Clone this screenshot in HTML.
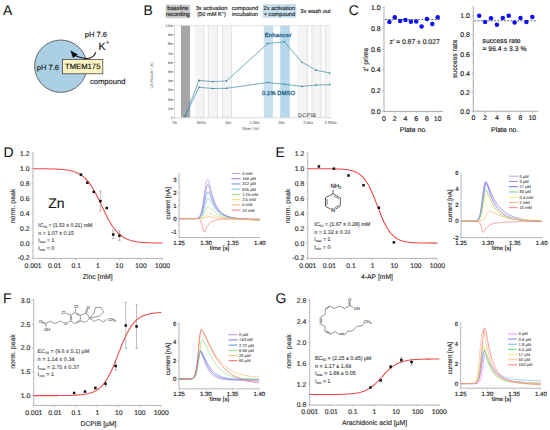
<!DOCTYPE html>
<html><head><meta charset="utf-8"><style>
html,body{margin:0;padding:0;background:#fff;overflow:hidden;}
svg{display:block;}
text{font-family:"Liberation Sans", sans-serif;text-rendering:geometricPrecision;}
</style></head><body>
<svg width="550" height="430" viewBox="0 0 550 430">
<rect x="0" y="0" width="550" height="430" fill="#fff"/>
<text x="2.90" y="14.50" font-size="14" text-anchor="start" fill="#111" stroke="#111" stroke-width="0.05" >A</text>
<circle cx="60.8" cy="66.2" r="26.2" fill="#abcfe4" stroke="#333" stroke-width="0.7"/>
<text x="36.80" y="70.30" font-size="7.5" text-anchor="start" fill="#222" stroke="#222" stroke-width="0.16" >pH 7.6</text>
<rect x="62.60" y="59.40" width="40.20" height="14.40" fill="#fbf3c0" stroke="#333" stroke-width="0.7"/>
<text x="82.70" y="69.20" font-size="7.7" text-anchor="middle" fill="#111" stroke="#111" stroke-width="0.16" >TMEM175</text>
<text x="84.80" y="37.30" font-size="7.5" text-anchor="start" fill="#222" stroke="#222" stroke-width="0.16" >pH 7.6</text>
<text x="98.60" y="49.60" font-size="10.5" text-anchor="start" fill="#111" stroke="#111" stroke-width="0.16" >K</text>
<text x="106.00" y="44.20" font-size="5.5" text-anchor="start" fill="#111" stroke="#111" stroke-width="0.16" >+</text>
<text x="90.00" y="83.50" font-size="7.6" text-anchor="start" fill="#222" stroke="#222" stroke-width="0.16" >compound</text>
<path d="M95.8,52.3 Q93,59.2 85.5,58.4 Q80.5,57.8 75.5,55.8" fill="none" stroke="#111" stroke-width="1.05"/>
<path d="M70.3,50.2 L77.8,54.5 L73.0,58.0 Z" fill="#111"/>
<text x="143.40" y="14.50" font-size="14" text-anchor="start" fill="#111" stroke="#111" stroke-width="0.05" >B</text>
<rect x="165.60" y="4.60" width="24.60" height="13.60" fill="#cacaca" />
<text x="177.90" y="9.70" font-size="5.7" text-anchor="middle" fill="#222" stroke="#222" stroke-width="0.16" >baseline</text>
<text x="177.90" y="16.10" font-size="5.7" text-anchor="middle" fill="#222" stroke="#222" stroke-width="0.16" >recording</text>
<text x="211.50" y="9.70" font-size="5.7" text-anchor="middle" fill="#222" stroke="#222" stroke-width="0.16" >3x activation</text>
<text x="211.50" y="16.10" font-size="5.7" text-anchor="middle" fill="#222" stroke="#222" stroke-width="0.16" >(50 mM K<tspan font-size="3.5" dy="-2">+</tspan><tspan dy="2">)</tspan></text>
<text x="245.00" y="9.70" font-size="5.7" text-anchor="middle" fill="#222" stroke="#222" stroke-width="0.16" >compound</text>
<text x="245.00" y="16.10" font-size="5.7" text-anchor="middle" fill="#222" stroke="#222" stroke-width="0.16" >incubation</text>
<rect x="262.60" y="4.00" width="33.60" height="13.90" fill="#c8e2f0" />
<text x="279.40" y="9.70" font-size="5.7" text-anchor="middle" fill="#222" stroke="#222" stroke-width="0.16" >2x activation</text>
<text x="279.40" y="16.10" font-size="5.7" text-anchor="middle" fill="#222" stroke="#222" stroke-width="0.16" >+ compound</text>
<text x="315.50" y="13.40" font-size="5.7" text-anchor="middle" fill="#222" stroke="#222" stroke-width="0.16" >3x wash out</text>
<rect x="174.60" y="25.60" width="155.90" height="92.10" fill="#ffffff" />
<rect x="194.90" y="25.60" width="8.40" height="92.10" fill="#f4f4f4" />
<rect x="208.60" y="25.60" width="8.50" height="92.10" fill="#f4f4f4" />
<rect x="222.60" y="25.60" width="8.70" height="92.10" fill="#f4f4f4" />
<rect x="297.40" y="25.60" width="9.60" height="92.10" fill="#f4f4f4" />
<rect x="312.40" y="25.60" width="8.20" height="92.10" fill="#f4f4f4" />
<rect x="325.70" y="25.60" width="4.80" height="92.10" fill="#f4f4f4" />
<line x1="203.80" y1="25.60" x2="203.80" y2="117.70" stroke="#d8d8d8" stroke-width="0.8" />
<line x1="208.30" y1="25.60" x2="208.30" y2="117.70" stroke="#d8d8d8" stroke-width="0.8" />
<line x1="217.50" y1="25.60" x2="217.50" y2="117.70" stroke="#d8d8d8" stroke-width="0.8" />
<line x1="222.30" y1="25.60" x2="222.30" y2="117.70" stroke="#d8d8d8" stroke-width="0.8" />
<line x1="231.60" y1="25.60" x2="231.60" y2="117.70" stroke="#d8d8d8" stroke-width="0.8" />
<line x1="307.30" y1="25.60" x2="307.30" y2="117.70" stroke="#d8d8d8" stroke-width="0.8" />
<line x1="311.90" y1="25.60" x2="311.90" y2="117.70" stroke="#d8d8d8" stroke-width="0.8" />
<line x1="321.00" y1="25.60" x2="321.00" y2="117.70" stroke="#d8d8d8" stroke-width="0.8" />
<line x1="325.30" y1="25.60" x2="325.30" y2="117.70" stroke="#d8d8d8" stroke-width="0.8" />
<rect x="181.00" y="25.60" width="9.10" height="92.10" fill="#a6a6a6" />
<rect x="263.80" y="25.60" width="9.20" height="92.10" fill="#c6e0ee" />
<rect x="280.20" y="25.60" width="9.60" height="92.10" fill="#b6d8ea" />
<line x1="174.60" y1="25.60" x2="174.60" y2="117.70" stroke="#c4c4c4" stroke-width="0.6" />
<line x1="174.60" y1="117.70" x2="330.50" y2="117.70" stroke="#c4c4c4" stroke-width="0.6" />
<line x1="174.60" y1="25.60" x2="330.50" y2="25.60" stroke="#d4d4d4" stroke-width="0.6" />
<text x="172.80" y="119.00" font-size="3.7" text-anchor="end" fill="#555" stroke="#555" stroke-width="0.05" >0</text>
<line x1="172.90" y1="117.70" x2="174.60" y2="117.70" stroke="#999" stroke-width="0.35" />
<text x="172.80" y="109.79" font-size="3.7" text-anchor="end" fill="#555" stroke="#555" stroke-width="0.05" >1m</text>
<line x1="172.90" y1="108.49" x2="174.60" y2="108.49" stroke="#999" stroke-width="0.35" />
<text x="172.80" y="100.58" font-size="3.7" text-anchor="end" fill="#555" stroke="#555" stroke-width="0.05" >2m</text>
<line x1="172.90" y1="99.28" x2="174.60" y2="99.28" stroke="#999" stroke-width="0.35" />
<text x="172.80" y="91.37" font-size="3.7" text-anchor="end" fill="#555" stroke="#555" stroke-width="0.05" >3m</text>
<line x1="172.90" y1="90.07" x2="174.60" y2="90.07" stroke="#999" stroke-width="0.35" />
<text x="172.80" y="82.16" font-size="3.7" text-anchor="end" fill="#555" stroke="#555" stroke-width="0.05" >4m</text>
<line x1="172.90" y1="80.86" x2="174.60" y2="80.86" stroke="#999" stroke-width="0.35" />
<text x="172.80" y="72.95" font-size="3.7" text-anchor="end" fill="#555" stroke="#555" stroke-width="0.05" >5m</text>
<line x1="172.90" y1="71.65" x2="174.60" y2="71.65" stroke="#999" stroke-width="0.35" />
<text x="172.80" y="63.74" font-size="3.7" text-anchor="end" fill="#555" stroke="#555" stroke-width="0.05" >6m</text>
<line x1="172.90" y1="62.44" x2="174.60" y2="62.44" stroke="#999" stroke-width="0.35" />
<text x="172.80" y="54.53" font-size="3.7" text-anchor="end" fill="#555" stroke="#555" stroke-width="0.05" >7m</text>
<line x1="172.90" y1="53.23" x2="174.60" y2="53.23" stroke="#999" stroke-width="0.35" />
<text x="172.80" y="45.32" font-size="3.7" text-anchor="end" fill="#555" stroke="#555" stroke-width="0.05" >8m</text>
<line x1="172.90" y1="44.02" x2="174.60" y2="44.02" stroke="#999" stroke-width="0.35" />
<text x="172.80" y="36.11" font-size="3.7" text-anchor="end" fill="#555" stroke="#555" stroke-width="0.05" >9m</text>
<line x1="172.90" y1="34.81" x2="174.60" y2="34.81" stroke="#999" stroke-width="0.35" />
<text x="172.80" y="26.90" font-size="3.7" text-anchor="end" fill="#555" stroke="#555" stroke-width="0.05" >10m</text>
<line x1="172.90" y1="25.60" x2="174.60" y2="25.60" stroke="#999" stroke-width="0.35" />
<text x="174.60" y="124.00" font-size="4.1" text-anchor="middle" fill="#555" stroke="#555" stroke-width="0.05" >0s</text>
<line x1="174.60" y1="117.70" x2="174.60" y2="118.90" stroke="#999" stroke-width="0.35" />
<text x="201.30" y="124.00" font-size="4.1" text-anchor="middle" fill="#555" stroke="#555" stroke-width="0.05" >500s</text>
<line x1="201.30" y1="117.70" x2="201.30" y2="118.90" stroke="#999" stroke-width="0.35" />
<text x="227.99" y="124.00" font-size="4.1" text-anchor="middle" fill="#555" stroke="#555" stroke-width="0.05" >1ks</text>
<line x1="227.99" y1="117.70" x2="227.99" y2="118.90" stroke="#999" stroke-width="0.35" />
<text x="254.69" y="124.00" font-size="4.1" text-anchor="middle" fill="#555" stroke="#555" stroke-width="0.05" >1.5ks</text>
<line x1="254.69" y1="117.70" x2="254.69" y2="118.90" stroke="#999" stroke-width="0.35" />
<text x="281.38" y="124.00" font-size="4.1" text-anchor="middle" fill="#555" stroke="#555" stroke-width="0.05" >2ks</text>
<line x1="281.38" y1="117.70" x2="281.38" y2="118.90" stroke="#999" stroke-width="0.35" />
<text x="308.08" y="124.00" font-size="4.1" text-anchor="middle" fill="#555" stroke="#555" stroke-width="0.05" >2.5ks</text>
<line x1="308.08" y1="117.70" x2="308.08" y2="118.90" stroke="#999" stroke-width="0.35" />
<text x="330.50" y="124.00" font-size="4.1" text-anchor="middle" fill="#555" stroke="#555" stroke-width="0.05" >2.92ks</text>
<line x1="330.50" y1="117.70" x2="330.50" y2="118.90" stroke="#999" stroke-width="0.35" />
<text x="250.20" y="129.60" font-size="4.1" text-anchor="middle" fill="#555" stroke="#555" stroke-width="0.05" >Time / (s)</text>
<text x="0.00" y="0.00" font-size="3.9" text-anchor="middle" fill="#666" stroke="#666" stroke-width="0.03" transform="translate(153.4,75.4) rotate(-90)">CA-Result / (A)</text>
<polyline points="185.0,116.2 199.1,80.4 212.7,81.6 226.5,80.9 267.6,43.6 284.3,41.8 302.0,62.2 316.0,70.2 329.8,73.0" fill="none" stroke="#4a93ab" stroke-width="0.75" stroke-linejoin="round" />
<polyline points="185.0,116.2 199.1,87.3 212.7,88.5 226.5,88.3 268.1,82.5 284.4,84.3 302.0,86.4 316.0,85.1 329.8,84.6" fill="none" stroke="#4a93ab" stroke-width="0.75" stroke-linejoin="round" />
<circle cx="185" cy="116.2" r="0.8" fill="#2f7590"/>
<circle cx="199.1" cy="80.4" r="0.8" fill="#2f7590"/>
<circle cx="212.7" cy="81.6" r="0.8" fill="#2f7590"/>
<circle cx="226.5" cy="80.9" r="0.8" fill="#2f7590"/>
<circle cx="267.6" cy="43.6" r="0.8" fill="#2f7590"/>
<circle cx="284.3" cy="41.8" r="0.8" fill="#2f7590"/>
<circle cx="302.0" cy="62.2" r="0.8" fill="#2f7590"/>
<circle cx="316" cy="70.2" r="0.8" fill="#2f7590"/>
<circle cx="329.8" cy="73.0" r="0.8" fill="#2f7590"/>
<circle cx="185" cy="116.2" r="0.8" fill="#2f7590"/>
<circle cx="199.1" cy="87.3" r="0.8" fill="#2f7590"/>
<circle cx="212.7" cy="88.5" r="0.8" fill="#2f7590"/>
<circle cx="226.5" cy="88.3" r="0.8" fill="#2f7590"/>
<circle cx="268.1" cy="82.5" r="0.8" fill="#2f7590"/>
<circle cx="284.4" cy="84.3" r="0.8" fill="#2f7590"/>
<circle cx="302.0" cy="86.4" r="0.8" fill="#2f7590"/>
<circle cx="316" cy="85.1" r="0.8" fill="#2f7590"/>
<circle cx="329.8" cy="84.6" r="0.8" fill="#2f7590"/>
<text x="278.20" y="36.90" font-size="5.8" text-anchor="middle" fill="#22608a" stroke="#22608a" stroke-width="0.3" letter-spacing="0.28">Enhancer</text>
<text x="278.60" y="95.20" font-size="5.8" text-anchor="middle" fill="#22608a" stroke="#22608a" stroke-width="0.3" letter-spacing="0.1">0.1% DMSO</text>
<text x="307.20" y="117.40" font-size="5.4" text-anchor="middle" fill="#555" stroke="#555" stroke-width="0.1" letter-spacing="0.35">DCPIB</text>
<text x="348.80" y="15.30" font-size="14" text-anchor="start" fill="#111" stroke="#111" stroke-width="0.05" >C</text>
<line x1="384.00" y1="6.50" x2="384.00" y2="111.40" stroke="#888" stroke-width="0.7" />
<line x1="384.00" y1="111.40" x2="443.07" y2="111.40" stroke="#888" stroke-width="0.7" />
<text x="380.60" y="113.90" font-size="6.9" text-anchor="end" fill="#222" stroke="#222" stroke-width="0.16" >0.0</text>
<line x1="382.40" y1="111.40" x2="384.00" y2="111.40" stroke="#888" stroke-width="0.5" />
<line x1="383.00" y1="101.02" x2="384.00" y2="101.02" stroke="#888" stroke-width="0.4" />
<text x="380.60" y="93.14" font-size="6.9" text-anchor="end" fill="#222" stroke="#222" stroke-width="0.16" >0.2</text>
<line x1="382.40" y1="90.64" x2="384.00" y2="90.64" stroke="#888" stroke-width="0.5" />
<line x1="383.00" y1="80.26" x2="384.00" y2="80.26" stroke="#888" stroke-width="0.4" />
<text x="380.60" y="72.38" font-size="6.9" text-anchor="end" fill="#222" stroke="#222" stroke-width="0.16" >0.4</text>
<line x1="382.40" y1="69.88" x2="384.00" y2="69.88" stroke="#888" stroke-width="0.5" />
<line x1="383.00" y1="59.50" x2="384.00" y2="59.50" stroke="#888" stroke-width="0.4" />
<text x="380.60" y="51.62" font-size="6.9" text-anchor="end" fill="#222" stroke="#222" stroke-width="0.16" >0.6</text>
<line x1="382.40" y1="49.12" x2="384.00" y2="49.12" stroke="#888" stroke-width="0.5" />
<line x1="383.00" y1="38.74" x2="384.00" y2="38.74" stroke="#888" stroke-width="0.4" />
<text x="380.60" y="30.86" font-size="6.9" text-anchor="end" fill="#222" stroke="#222" stroke-width="0.16" >0.8</text>
<line x1="382.40" y1="28.36" x2="384.00" y2="28.36" stroke="#888" stroke-width="0.5" />
<line x1="383.00" y1="17.98" x2="384.00" y2="17.98" stroke="#888" stroke-width="0.4" />
<text x="380.60" y="10.10" font-size="6.9" text-anchor="end" fill="#222" stroke="#222" stroke-width="0.16" >1.0</text>
<line x1="382.40" y1="7.60" x2="384.00" y2="7.60" stroke="#888" stroke-width="0.5" />
<text x="384.00" y="120.60" font-size="6.9" text-anchor="middle" fill="#222" stroke="#222" stroke-width="0.16" >0</text>
<line x1="384.00" y1="111.40" x2="384.00" y2="113.00" stroke="#888" stroke-width="0.5" />
<line x1="389.37" y1="111.40" x2="389.37" y2="112.40" stroke="#888" stroke-width="0.4" />
<text x="394.74" y="120.60" font-size="6.9" text-anchor="middle" fill="#222" stroke="#222" stroke-width="0.16" >2</text>
<line x1="394.74" y1="111.40" x2="394.74" y2="113.00" stroke="#888" stroke-width="0.5" />
<line x1="400.11" y1="111.40" x2="400.11" y2="112.40" stroke="#888" stroke-width="0.4" />
<text x="405.48" y="120.60" font-size="6.9" text-anchor="middle" fill="#222" stroke="#222" stroke-width="0.16" >4</text>
<line x1="405.48" y1="111.40" x2="405.48" y2="113.00" stroke="#888" stroke-width="0.5" />
<line x1="410.85" y1="111.40" x2="410.85" y2="112.40" stroke="#888" stroke-width="0.4" />
<text x="416.22" y="120.60" font-size="6.9" text-anchor="middle" fill="#222" stroke="#222" stroke-width="0.16" >6</text>
<line x1="416.22" y1="111.40" x2="416.22" y2="113.00" stroke="#888" stroke-width="0.5" />
<line x1="421.59" y1="111.40" x2="421.59" y2="112.40" stroke="#888" stroke-width="0.4" />
<text x="426.96" y="120.60" font-size="6.9" text-anchor="middle" fill="#222" stroke="#222" stroke-width="0.16" >8</text>
<line x1="426.96" y1="111.40" x2="426.96" y2="113.00" stroke="#888" stroke-width="0.5" />
<line x1="432.33" y1="111.40" x2="432.33" y2="112.40" stroke="#888" stroke-width="0.4" />
<text x="437.70" y="120.60" font-size="6.9" text-anchor="middle" fill="#222" stroke="#222" stroke-width="0.16" >10</text>
<line x1="437.70" y1="111.40" x2="437.70" y2="113.00" stroke="#888" stroke-width="0.5" />
<line x1="443.07" y1="111.40" x2="443.07" y2="112.40" stroke="#888" stroke-width="0.4" />
<text x="413.40" y="131.60" font-size="6.9" text-anchor="middle" fill="#222" stroke="#222" stroke-width="0.16" >Plate no.</text>
<line x1="385.00" y1="19.50" x2="441.00" y2="19.50" stroke="#666" stroke-width="1.0" stroke-dasharray="2,1.3"/>
<circle cx="389.37" cy="22" r="2.25" fill="#1010f4"/>
<circle cx="394.74" cy="17.3" r="2.25" fill="#1010f4"/>
<circle cx="400.11" cy="21" r="2.25" fill="#1010f4"/>
<circle cx="405.48" cy="20" r="2.25" fill="#1010f4"/>
<circle cx="410.85" cy="21.7" r="2.25" fill="#1010f4"/>
<circle cx="416.22" cy="21.4" r="2.25" fill="#1010f4"/>
<circle cx="421.59" cy="26.4" r="2.25" fill="#1010f4"/>
<circle cx="426.96" cy="18.9" r="2.25" fill="#1010f4"/>
<circle cx="432.33" cy="23.9" r="2.25" fill="#1010f4"/>
<circle cx="437.70" cy="17.3" r="2.25" fill="#1010f4"/>
<text x="0.00" y="0.00" font-size="6.9" text-anchor="middle" fill="#222" stroke="#222" stroke-width="0.16" transform="translate(368.1,59.5) rotate(-90)">z' prime</text>
<text x="389.50" y="43.60" font-size="6.8" text-anchor="start" fill="#222" stroke="#222" stroke-width="0.16" >z' = 0.87 ± 0.027</text>
<line x1="473.30" y1="6.30" x2="473.30" y2="111.20" stroke="#888" stroke-width="0.7" />
<line x1="473.30" y1="111.20" x2="538.20" y2="111.20" stroke="#888" stroke-width="0.7" />
<text x="469.90" y="113.70" font-size="6.9" text-anchor="end" fill="#222" stroke="#222" stroke-width="0.16" >0.0</text>
<line x1="471.70" y1="111.20" x2="473.30" y2="111.20" stroke="#888" stroke-width="0.5" />
<line x1="472.30" y1="101.67" x2="473.30" y2="101.67" stroke="#888" stroke-width="0.4" />
<text x="469.90" y="94.64" font-size="6.9" text-anchor="end" fill="#222" stroke="#222" stroke-width="0.16" >0.2</text>
<line x1="471.70" y1="92.14" x2="473.30" y2="92.14" stroke="#888" stroke-width="0.5" />
<line x1="472.30" y1="82.61" x2="473.30" y2="82.61" stroke="#888" stroke-width="0.4" />
<text x="469.90" y="75.58" font-size="6.9" text-anchor="end" fill="#222" stroke="#222" stroke-width="0.16" >0.4</text>
<line x1="471.70" y1="73.08" x2="473.30" y2="73.08" stroke="#888" stroke-width="0.5" />
<line x1="472.30" y1="63.55" x2="473.30" y2="63.55" stroke="#888" stroke-width="0.4" />
<text x="469.90" y="56.52" font-size="6.9" text-anchor="end" fill="#222" stroke="#222" stroke-width="0.16" >0.6</text>
<line x1="471.70" y1="54.02" x2="473.30" y2="54.02" stroke="#888" stroke-width="0.5" />
<line x1="472.30" y1="44.49" x2="473.30" y2="44.49" stroke="#888" stroke-width="0.4" />
<text x="469.90" y="37.46" font-size="6.9" text-anchor="end" fill="#222" stroke="#222" stroke-width="0.16" >0.8</text>
<line x1="471.70" y1="34.96" x2="473.30" y2="34.96" stroke="#888" stroke-width="0.5" />
<line x1="472.30" y1="25.43" x2="473.30" y2="25.43" stroke="#888" stroke-width="0.4" />
<text x="469.90" y="18.40" font-size="6.9" text-anchor="end" fill="#222" stroke="#222" stroke-width="0.16" >1.0</text>
<line x1="471.70" y1="15.90" x2="473.30" y2="15.90" stroke="#888" stroke-width="0.5" />
<line x1="472.30" y1="6.37" x2="473.30" y2="6.37" stroke="#888" stroke-width="0.4" />
<text x="473.30" y="120.40" font-size="6.9" text-anchor="middle" fill="#222" stroke="#222" stroke-width="0.16" >0</text>
<line x1="473.30" y1="111.20" x2="473.30" y2="112.80" stroke="#888" stroke-width="0.5" />
<line x1="479.20" y1="111.20" x2="479.20" y2="112.20" stroke="#888" stroke-width="0.4" />
<text x="485.10" y="120.40" font-size="6.9" text-anchor="middle" fill="#222" stroke="#222" stroke-width="0.16" >2</text>
<line x1="485.10" y1="111.20" x2="485.10" y2="112.80" stroke="#888" stroke-width="0.5" />
<line x1="491.00" y1="111.20" x2="491.00" y2="112.20" stroke="#888" stroke-width="0.4" />
<text x="496.90" y="120.40" font-size="6.9" text-anchor="middle" fill="#222" stroke="#222" stroke-width="0.16" >4</text>
<line x1="496.90" y1="111.20" x2="496.90" y2="112.80" stroke="#888" stroke-width="0.5" />
<line x1="502.80" y1="111.20" x2="502.80" y2="112.20" stroke="#888" stroke-width="0.4" />
<text x="508.70" y="120.40" font-size="6.9" text-anchor="middle" fill="#222" stroke="#222" stroke-width="0.16" >6</text>
<line x1="508.70" y1="111.20" x2="508.70" y2="112.80" stroke="#888" stroke-width="0.5" />
<line x1="514.60" y1="111.20" x2="514.60" y2="112.20" stroke="#888" stroke-width="0.4" />
<text x="520.50" y="120.40" font-size="6.9" text-anchor="middle" fill="#222" stroke="#222" stroke-width="0.16" >8</text>
<line x1="520.50" y1="111.20" x2="520.50" y2="112.80" stroke="#888" stroke-width="0.5" />
<line x1="526.40" y1="111.20" x2="526.40" y2="112.20" stroke="#888" stroke-width="0.4" />
<text x="532.30" y="120.40" font-size="6.9" text-anchor="middle" fill="#222" stroke="#222" stroke-width="0.16" >10</text>
<line x1="532.30" y1="111.20" x2="532.30" y2="112.80" stroke="#888" stroke-width="0.5" />
<line x1="538.20" y1="111.20" x2="538.20" y2="112.20" stroke="#888" stroke-width="0.4" />
<text x="504.70" y="131.60" font-size="6.9" text-anchor="middle" fill="#222" stroke="#222" stroke-width="0.16" >Plate no.</text>
<line x1="474.30" y1="20.80" x2="536.00" y2="20.80" stroke="#666" stroke-width="1.0" stroke-dasharray="2,1.3"/>
<circle cx="479.20" cy="15.7" r="2.25" fill="#1010f4"/>
<circle cx="485.10" cy="22" r="2.25" fill="#1010f4"/>
<circle cx="491.00" cy="18.2" r="2.25" fill="#1010f4"/>
<circle cx="496.90" cy="24.8" r="2.25" fill="#1010f4"/>
<circle cx="502.80" cy="17.9" r="2.25" fill="#1010f4"/>
<circle cx="508.70" cy="15.7" r="2.25" fill="#1010f4"/>
<circle cx="514.60" cy="22.6" r="2.25" fill="#1010f4"/>
<circle cx="520.50" cy="17.9" r="2.25" fill="#1010f4"/>
<circle cx="526.40" cy="22" r="2.25" fill="#1010f4"/>
<circle cx="532.30" cy="17" r="2.25" fill="#1010f4"/>
<text x="0.00" y="0.00" font-size="6.9" text-anchor="middle" fill="#222" stroke="#222" stroke-width="0.16" transform="translate(457.40000000000003,58.8) rotate(-90)">success rate</text>
<text x="482.50" y="43.20" font-size="6.8" text-anchor="start" fill="#222" stroke="#222" stroke-width="0.16" >success rate</text>
<text x="482.50" y="51.20" font-size="6.8" text-anchor="start" fill="#222" stroke="#222" stroke-width="0.16" >= 96.4 ± 3.3 %</text>
<text x="3.40" y="156.50" font-size="14" text-anchor="start" fill="#111" stroke="#111" stroke-width="0.05" >D</text>
<line x1="33.00" y1="152.00" x2="33.00" y2="258.40" stroke="#999" stroke-width="0.7" />
<line x1="33.00" y1="258.40" x2="162.60" y2="258.40" stroke="#999" stroke-width="0.7" />
<text x="29.50" y="260.44" font-size="6.8" text-anchor="end" fill="#333" stroke="#333" stroke-width="0.16" >-0.2</text>
<line x1="31.30" y1="257.99" x2="33.00" y2="257.99" stroke="#999" stroke-width="0.5" />
<text x="29.50" y="245.55" font-size="6.8" text-anchor="end" fill="#333" stroke="#333" stroke-width="0.16" >0.0</text>
<line x1="31.30" y1="243.10" x2="33.00" y2="243.10" stroke="#999" stroke-width="0.5" />
<text x="29.50" y="230.66" font-size="6.8" text-anchor="end" fill="#333" stroke="#333" stroke-width="0.16" >0.2</text>
<line x1="31.30" y1="228.21" x2="33.00" y2="228.21" stroke="#999" stroke-width="0.5" />
<text x="29.50" y="215.78" font-size="6.8" text-anchor="end" fill="#333" stroke="#333" stroke-width="0.16" >0.4</text>
<line x1="31.30" y1="213.33" x2="33.00" y2="213.33" stroke="#999" stroke-width="0.5" />
<text x="29.50" y="200.89" font-size="6.8" text-anchor="end" fill="#333" stroke="#333" stroke-width="0.16" >0.6</text>
<line x1="31.30" y1="198.44" x2="33.00" y2="198.44" stroke="#999" stroke-width="0.5" />
<text x="29.50" y="186.01" font-size="6.8" text-anchor="end" fill="#333" stroke="#333" stroke-width="0.16" >0.8</text>
<line x1="31.30" y1="183.56" x2="33.00" y2="183.56" stroke="#999" stroke-width="0.5" />
<text x="29.50" y="171.12" font-size="6.8" text-anchor="end" fill="#333" stroke="#333" stroke-width="0.16" >1.0</text>
<line x1="31.30" y1="168.67" x2="33.00" y2="168.67" stroke="#999" stroke-width="0.5" />
<text x="29.50" y="156.23" font-size="6.8" text-anchor="end" fill="#333" stroke="#333" stroke-width="0.16" >1.2</text>
<line x1="31.30" y1="153.78" x2="33.00" y2="153.78" stroke="#999" stroke-width="0.5" />
<line x1="32.00" y1="250.54" x2="33.00" y2="250.54" stroke="#999" stroke-width="0.4" />
<line x1="32.00" y1="235.66" x2="33.00" y2="235.66" stroke="#999" stroke-width="0.4" />
<line x1="32.00" y1="220.77" x2="33.00" y2="220.77" stroke="#999" stroke-width="0.4" />
<line x1="32.00" y1="205.88" x2="33.00" y2="205.88" stroke="#999" stroke-width="0.4" />
<line x1="32.00" y1="191.00" x2="33.00" y2="191.00" stroke="#999" stroke-width="0.4" />
<line x1="32.00" y1="176.11" x2="33.00" y2="176.11" stroke="#999" stroke-width="0.4" />
<line x1="32.00" y1="161.23" x2="33.00" y2="161.23" stroke="#999" stroke-width="0.4" />
<text x="33.00" y="267.50" font-size="6.8" text-anchor="middle" fill="#333" stroke="#333" stroke-width="0.16" >0.001</text>
<line x1="33.00" y1="258.40" x2="33.00" y2="260.10" stroke="#999" stroke-width="0.5" />
<line x1="39.50" y1="258.40" x2="39.50" y2="259.30" stroke="#999" stroke-width="0.3" />
<line x1="43.31" y1="258.40" x2="43.31" y2="259.30" stroke="#999" stroke-width="0.3" />
<line x1="46.00" y1="258.40" x2="46.00" y2="259.30" stroke="#999" stroke-width="0.3" />
<line x1="48.10" y1="258.40" x2="48.10" y2="259.30" stroke="#999" stroke-width="0.3" />
<line x1="49.81" y1="258.40" x2="49.81" y2="259.30" stroke="#999" stroke-width="0.3" />
<line x1="51.25" y1="258.40" x2="51.25" y2="259.30" stroke="#999" stroke-width="0.3" />
<line x1="52.51" y1="258.40" x2="52.51" y2="259.30" stroke="#999" stroke-width="0.3" />
<line x1="53.61" y1="258.40" x2="53.61" y2="259.30" stroke="#999" stroke-width="0.3" />
<text x="54.60" y="267.50" font-size="6.8" text-anchor="middle" fill="#333" stroke="#333" stroke-width="0.16" >0.01</text>
<line x1="54.60" y1="258.40" x2="54.60" y2="260.10" stroke="#999" stroke-width="0.5" />
<line x1="61.10" y1="258.40" x2="61.10" y2="259.30" stroke="#999" stroke-width="0.3" />
<line x1="64.91" y1="258.40" x2="64.91" y2="259.30" stroke="#999" stroke-width="0.3" />
<line x1="67.60" y1="258.40" x2="67.60" y2="259.30" stroke="#999" stroke-width="0.3" />
<line x1="69.70" y1="258.40" x2="69.70" y2="259.30" stroke="#999" stroke-width="0.3" />
<line x1="71.41" y1="258.40" x2="71.41" y2="259.30" stroke="#999" stroke-width="0.3" />
<line x1="72.85" y1="258.40" x2="72.85" y2="259.30" stroke="#999" stroke-width="0.3" />
<line x1="74.11" y1="258.40" x2="74.11" y2="259.30" stroke="#999" stroke-width="0.3" />
<line x1="75.21" y1="258.40" x2="75.21" y2="259.30" stroke="#999" stroke-width="0.3" />
<text x="76.20" y="267.50" font-size="6.8" text-anchor="middle" fill="#333" stroke="#333" stroke-width="0.16" >0.1</text>
<line x1="76.20" y1="258.40" x2="76.20" y2="260.10" stroke="#999" stroke-width="0.5" />
<line x1="82.70" y1="258.40" x2="82.70" y2="259.30" stroke="#999" stroke-width="0.3" />
<line x1="86.51" y1="258.40" x2="86.51" y2="259.30" stroke="#999" stroke-width="0.3" />
<line x1="89.20" y1="258.40" x2="89.20" y2="259.30" stroke="#999" stroke-width="0.3" />
<line x1="91.30" y1="258.40" x2="91.30" y2="259.30" stroke="#999" stroke-width="0.3" />
<line x1="93.01" y1="258.40" x2="93.01" y2="259.30" stroke="#999" stroke-width="0.3" />
<line x1="94.45" y1="258.40" x2="94.45" y2="259.30" stroke="#999" stroke-width="0.3" />
<line x1="95.71" y1="258.40" x2="95.71" y2="259.30" stroke="#999" stroke-width="0.3" />
<line x1="96.81" y1="258.40" x2="96.81" y2="259.30" stroke="#999" stroke-width="0.3" />
<text x="97.80" y="267.50" font-size="6.8" text-anchor="middle" fill="#333" stroke="#333" stroke-width="0.16" >1</text>
<line x1="97.80" y1="258.40" x2="97.80" y2="260.10" stroke="#999" stroke-width="0.5" />
<line x1="104.30" y1="258.40" x2="104.30" y2="259.30" stroke="#999" stroke-width="0.3" />
<line x1="108.11" y1="258.40" x2="108.11" y2="259.30" stroke="#999" stroke-width="0.3" />
<line x1="110.80" y1="258.40" x2="110.80" y2="259.30" stroke="#999" stroke-width="0.3" />
<line x1="112.90" y1="258.40" x2="112.90" y2="259.30" stroke="#999" stroke-width="0.3" />
<line x1="114.61" y1="258.40" x2="114.61" y2="259.30" stroke="#999" stroke-width="0.3" />
<line x1="116.05" y1="258.40" x2="116.05" y2="259.30" stroke="#999" stroke-width="0.3" />
<line x1="117.31" y1="258.40" x2="117.31" y2="259.30" stroke="#999" stroke-width="0.3" />
<line x1="118.41" y1="258.40" x2="118.41" y2="259.30" stroke="#999" stroke-width="0.3" />
<text x="119.40" y="267.50" font-size="6.8" text-anchor="middle" fill="#333" stroke="#333" stroke-width="0.16" >10</text>
<line x1="119.40" y1="258.40" x2="119.40" y2="260.10" stroke="#999" stroke-width="0.5" />
<line x1="125.90" y1="258.40" x2="125.90" y2="259.30" stroke="#999" stroke-width="0.3" />
<line x1="129.71" y1="258.40" x2="129.71" y2="259.30" stroke="#999" stroke-width="0.3" />
<line x1="132.40" y1="258.40" x2="132.40" y2="259.30" stroke="#999" stroke-width="0.3" />
<line x1="134.50" y1="258.40" x2="134.50" y2="259.30" stroke="#999" stroke-width="0.3" />
<line x1="136.21" y1="258.40" x2="136.21" y2="259.30" stroke="#999" stroke-width="0.3" />
<line x1="137.65" y1="258.40" x2="137.65" y2="259.30" stroke="#999" stroke-width="0.3" />
<line x1="138.91" y1="258.40" x2="138.91" y2="259.30" stroke="#999" stroke-width="0.3" />
<line x1="140.01" y1="258.40" x2="140.01" y2="259.30" stroke="#999" stroke-width="0.3" />
<text x="141.00" y="267.50" font-size="6.8" text-anchor="middle" fill="#333" stroke="#333" stroke-width="0.16" >100</text>
<line x1="141.00" y1="258.40" x2="141.00" y2="260.10" stroke="#999" stroke-width="0.5" />
<line x1="147.50" y1="258.40" x2="147.50" y2="259.30" stroke="#999" stroke-width="0.3" />
<line x1="151.31" y1="258.40" x2="151.31" y2="259.30" stroke="#999" stroke-width="0.3" />
<line x1="154.00" y1="258.40" x2="154.00" y2="259.30" stroke="#999" stroke-width="0.3" />
<line x1="156.10" y1="258.40" x2="156.10" y2="259.30" stroke="#999" stroke-width="0.3" />
<line x1="157.81" y1="258.40" x2="157.81" y2="259.30" stroke="#999" stroke-width="0.3" />
<line x1="159.25" y1="258.40" x2="159.25" y2="259.30" stroke="#999" stroke-width="0.3" />
<line x1="160.51" y1="258.40" x2="160.51" y2="259.30" stroke="#999" stroke-width="0.3" />
<line x1="161.61" y1="258.40" x2="161.61" y2="259.30" stroke="#999" stroke-width="0.3" />
<text x="162.60" y="267.50" font-size="6.8" text-anchor="middle" fill="#333" stroke="#333" stroke-width="0.16" >1000</text>
<line x1="162.60" y1="258.40" x2="162.60" y2="260.10" stroke="#999" stroke-width="0.5" />
<text x="97.70" y="278.70" font-size="6.8" text-anchor="middle" fill="#333" stroke="#333" stroke-width="0.16" >Zinc [mM]</text>
<text x="0.00" y="0.00" font-size="6.9" text-anchor="middle" fill="#333" stroke="#333" stroke-width="0.16" transform="translate(14.9,206) rotate(-90)">norm. peak</text>
<polyline points="33.0,168.7 34.1,168.7 35.2,168.7 36.2,168.7 37.3,168.7 38.4,168.7 39.5,168.7 40.6,168.7 41.6,168.7 42.7,168.8 43.8,168.8 44.9,168.8 46.0,168.8 47.0,168.8 48.1,168.8 49.2,168.9 50.3,168.9 51.4,168.9 52.4,168.9 53.5,169.0 54.6,169.0 55.7,169.1 56.8,169.1 57.8,169.2 58.9,169.2 60.0,169.3 61.1,169.4 62.2,169.5 63.2,169.6 64.3,169.7 65.4,169.8 66.5,170.0 67.6,170.1 68.6,170.3 69.7,170.5 70.8,170.8 71.9,171.0 73.0,171.3 74.0,171.7 75.1,172.1 76.2,172.5 77.3,173.0 78.4,173.5 79.4,174.1 80.5,174.7 81.6,175.4 82.7,176.2 83.8,177.1 84.8,178.1 85.9,179.1 87.0,180.3 88.1,181.6 89.2,182.9 90.2,184.4 91.3,186.0 92.4,187.7 93.5,189.5 94.6,191.4 95.6,193.3 96.7,195.4 97.8,197.6 98.9,199.8 100.0,202.0 101.0,204.3 102.1,206.6 103.2,208.9 104.3,211.1 105.4,213.4 106.4,215.5 107.5,217.6 108.6,219.7 109.7,221.6 110.8,223.4 111.8,225.2 112.9,226.8 114.0,228.3 115.1,229.7 116.2,231.0 117.2,232.2 118.3,233.3 119.4,234.3 120.5,235.2 121.6,236.0 122.6,236.8 123.7,237.5 124.8,238.1 125.9,238.6 127.0,239.1 128.0,239.6 129.1,239.9 130.2,240.3 131.3,240.6 132.4,240.9 133.4,241.1 134.5,241.4 135.6,241.6 136.7,241.7 137.8,241.9 138.8,242.0 139.9,242.2 141.0,242.3 142.1,242.4 143.2,242.4 144.2,242.5 145.3,242.6 146.4,242.6 147.5,242.7 148.6,242.7 149.6,242.8 150.7,242.8 151.8,242.9 152.9,242.9 154.0,242.9 155.0,242.9 156.1,242.9 157.2,243.0 158.3,243.0 159.4,243.0 160.4,243.0 161.5,243.0 162.6,243.0" fill="none" stroke="#f04444" stroke-width="1.05" stroke-linejoin="round" />
<rect x="79.70" y="173.37" width="2.50" height="2.50" fill="#111" />
<rect x="86.06" y="181.56" width="2.50" height="2.50" fill="#111" />
<rect x="92.51" y="190.64" width="2.50" height="2.50" fill="#111" />
<line x1="100.40" y1="191.07" x2="100.40" y2="211.17" stroke="#888" stroke-width="0.55" />
<line x1="99.10" y1="191.07" x2="101.70" y2="191.07" stroke="#888" stroke-width="0.55" />
<line x1="99.10" y1="211.17" x2="101.70" y2="211.17" stroke="#888" stroke-width="0.55" />
<rect x="99.15" y="199.87" width="2.50" height="2.50" fill="#111" />
<rect x="105.51" y="206.79" width="2.50" height="2.50" fill="#111" />
<line x1="113.19" y1="230.37" x2="113.19" y2="238.71" stroke="#888" stroke-width="0.55" />
<line x1="111.89" y1="230.37" x2="114.49" y2="230.37" stroke="#888" stroke-width="0.55" />
<line x1="111.89" y1="238.71" x2="114.49" y2="238.71" stroke="#888" stroke-width="0.55" />
<rect x="111.94" y="233.29" width="2.50" height="2.50" fill="#111" />
<line x1="119.40" y1="230.82" x2="119.40" y2="240.49" stroke="#888" stroke-width="0.55" />
<line x1="118.10" y1="230.82" x2="120.70" y2="230.82" stroke="#888" stroke-width="0.55" />
<line x1="118.10" y1="240.49" x2="120.70" y2="240.49" stroke="#888" stroke-width="0.55" />
<rect x="118.15" y="234.41" width="2.50" height="2.50" fill="#111" />
<text x="48.30" y="208.20" font-size="14" text-anchor="start" fill="#111" stroke="#111" stroke-width="0.1" >Zn</text>
<text x="38.3" y="226.8" font-size="5.3" fill="#333" stroke="#333" stroke-width="0.1" textLength="54" lengthAdjust="spacingAndGlyphs">IC<tspan font-size="3.286" dy="1">50</tspan><tspan dy="-1"> = (1.53 ± 0.21) mM</tspan></text>
<text x="38.30" y="235.00" font-size="5.3" text-anchor="start" fill="#333" stroke="#333" stroke-width="0.1" textLength="35.6" lengthAdjust="spacingAndGlyphs">n = 1.07 ± 0.15</text>
<text x="38.3" y="242.2" font-size="5.3" fill="#333" stroke="#333" stroke-width="0.1" textLength="16" lengthAdjust="spacingAndGlyphs">I<tspan font-size="3.286" dy="1">max</tspan><tspan dy="-1"> = 1</tspan></text>
<text x="38.3" y="250.2" font-size="5.3" fill="#333" stroke="#333" stroke-width="0.1" textLength="16" lengthAdjust="spacingAndGlyphs">I<tspan font-size="3.286" dy="1">min</tspan><tspan dy="-1"> = 0</tspan></text>
<text x="275.40" y="156.80" font-size="14" text-anchor="start" fill="#111" stroke="#111" stroke-width="0.05" >E</text>
<line x1="307.80" y1="152.00" x2="307.80" y2="258.40" stroke="#999" stroke-width="0.7" />
<line x1="307.80" y1="258.40" x2="437.40" y2="258.40" stroke="#999" stroke-width="0.7" />
<text x="304.30" y="260.44" font-size="6.8" text-anchor="end" fill="#333" stroke="#333" stroke-width="0.16" >-0.2</text>
<line x1="306.10" y1="257.99" x2="307.80" y2="257.99" stroke="#999" stroke-width="0.5" />
<text x="304.30" y="245.55" font-size="6.8" text-anchor="end" fill="#333" stroke="#333" stroke-width="0.16" >0.0</text>
<line x1="306.10" y1="243.10" x2="307.80" y2="243.10" stroke="#999" stroke-width="0.5" />
<text x="304.30" y="230.66" font-size="6.8" text-anchor="end" fill="#333" stroke="#333" stroke-width="0.16" >0.2</text>
<line x1="306.10" y1="228.21" x2="307.80" y2="228.21" stroke="#999" stroke-width="0.5" />
<text x="304.30" y="215.78" font-size="6.8" text-anchor="end" fill="#333" stroke="#333" stroke-width="0.16" >0.4</text>
<line x1="306.10" y1="213.33" x2="307.80" y2="213.33" stroke="#999" stroke-width="0.5" />
<text x="304.30" y="200.89" font-size="6.8" text-anchor="end" fill="#333" stroke="#333" stroke-width="0.16" >0.6</text>
<line x1="306.10" y1="198.44" x2="307.80" y2="198.44" stroke="#999" stroke-width="0.5" />
<text x="304.30" y="186.01" font-size="6.8" text-anchor="end" fill="#333" stroke="#333" stroke-width="0.16" >0.8</text>
<line x1="306.10" y1="183.56" x2="307.80" y2="183.56" stroke="#999" stroke-width="0.5" />
<text x="304.30" y="171.12" font-size="6.8" text-anchor="end" fill="#333" stroke="#333" stroke-width="0.16" >1.0</text>
<line x1="306.10" y1="168.67" x2="307.80" y2="168.67" stroke="#999" stroke-width="0.5" />
<text x="304.30" y="156.23" font-size="6.8" text-anchor="end" fill="#333" stroke="#333" stroke-width="0.16" >1.2</text>
<line x1="306.10" y1="153.78" x2="307.80" y2="153.78" stroke="#999" stroke-width="0.5" />
<line x1="306.80" y1="250.54" x2="307.80" y2="250.54" stroke="#999" stroke-width="0.4" />
<line x1="306.80" y1="235.66" x2="307.80" y2="235.66" stroke="#999" stroke-width="0.4" />
<line x1="306.80" y1="220.77" x2="307.80" y2="220.77" stroke="#999" stroke-width="0.4" />
<line x1="306.80" y1="205.88" x2="307.80" y2="205.88" stroke="#999" stroke-width="0.4" />
<line x1="306.80" y1="191.00" x2="307.80" y2="191.00" stroke="#999" stroke-width="0.4" />
<line x1="306.80" y1="176.11" x2="307.80" y2="176.11" stroke="#999" stroke-width="0.4" />
<line x1="306.80" y1="161.23" x2="307.80" y2="161.23" stroke="#999" stroke-width="0.4" />
<text x="307.80" y="267.50" font-size="6.8" text-anchor="middle" fill="#333" stroke="#333" stroke-width="0.16" >0.001</text>
<line x1="307.80" y1="258.40" x2="307.80" y2="260.10" stroke="#999" stroke-width="0.5" />
<line x1="314.30" y1="258.40" x2="314.30" y2="259.30" stroke="#999" stroke-width="0.3" />
<line x1="318.11" y1="258.40" x2="318.11" y2="259.30" stroke="#999" stroke-width="0.3" />
<line x1="320.80" y1="258.40" x2="320.80" y2="259.30" stroke="#999" stroke-width="0.3" />
<line x1="322.90" y1="258.40" x2="322.90" y2="259.30" stroke="#999" stroke-width="0.3" />
<line x1="324.61" y1="258.40" x2="324.61" y2="259.30" stroke="#999" stroke-width="0.3" />
<line x1="326.05" y1="258.40" x2="326.05" y2="259.30" stroke="#999" stroke-width="0.3" />
<line x1="327.31" y1="258.40" x2="327.31" y2="259.30" stroke="#999" stroke-width="0.3" />
<line x1="328.41" y1="258.40" x2="328.41" y2="259.30" stroke="#999" stroke-width="0.3" />
<text x="329.40" y="267.50" font-size="6.8" text-anchor="middle" fill="#333" stroke="#333" stroke-width="0.16" >0.01</text>
<line x1="329.40" y1="258.40" x2="329.40" y2="260.10" stroke="#999" stroke-width="0.5" />
<line x1="335.90" y1="258.40" x2="335.90" y2="259.30" stroke="#999" stroke-width="0.3" />
<line x1="339.71" y1="258.40" x2="339.71" y2="259.30" stroke="#999" stroke-width="0.3" />
<line x1="342.40" y1="258.40" x2="342.40" y2="259.30" stroke="#999" stroke-width="0.3" />
<line x1="344.50" y1="258.40" x2="344.50" y2="259.30" stroke="#999" stroke-width="0.3" />
<line x1="346.21" y1="258.40" x2="346.21" y2="259.30" stroke="#999" stroke-width="0.3" />
<line x1="347.65" y1="258.40" x2="347.65" y2="259.30" stroke="#999" stroke-width="0.3" />
<line x1="348.91" y1="258.40" x2="348.91" y2="259.30" stroke="#999" stroke-width="0.3" />
<line x1="350.01" y1="258.40" x2="350.01" y2="259.30" stroke="#999" stroke-width="0.3" />
<text x="351.00" y="267.50" font-size="6.8" text-anchor="middle" fill="#333" stroke="#333" stroke-width="0.16" >0.1</text>
<line x1="351.00" y1="258.40" x2="351.00" y2="260.10" stroke="#999" stroke-width="0.5" />
<line x1="357.50" y1="258.40" x2="357.50" y2="259.30" stroke="#999" stroke-width="0.3" />
<line x1="361.31" y1="258.40" x2="361.31" y2="259.30" stroke="#999" stroke-width="0.3" />
<line x1="364.00" y1="258.40" x2="364.00" y2="259.30" stroke="#999" stroke-width="0.3" />
<line x1="366.10" y1="258.40" x2="366.10" y2="259.30" stroke="#999" stroke-width="0.3" />
<line x1="367.81" y1="258.40" x2="367.81" y2="259.30" stroke="#999" stroke-width="0.3" />
<line x1="369.25" y1="258.40" x2="369.25" y2="259.30" stroke="#999" stroke-width="0.3" />
<line x1="370.51" y1="258.40" x2="370.51" y2="259.30" stroke="#999" stroke-width="0.3" />
<line x1="371.61" y1="258.40" x2="371.61" y2="259.30" stroke="#999" stroke-width="0.3" />
<text x="372.60" y="267.50" font-size="6.8" text-anchor="middle" fill="#333" stroke="#333" stroke-width="0.16" >1</text>
<line x1="372.60" y1="258.40" x2="372.60" y2="260.10" stroke="#999" stroke-width="0.5" />
<line x1="379.10" y1="258.40" x2="379.10" y2="259.30" stroke="#999" stroke-width="0.3" />
<line x1="382.91" y1="258.40" x2="382.91" y2="259.30" stroke="#999" stroke-width="0.3" />
<line x1="385.60" y1="258.40" x2="385.60" y2="259.30" stroke="#999" stroke-width="0.3" />
<line x1="387.70" y1="258.40" x2="387.70" y2="259.30" stroke="#999" stroke-width="0.3" />
<line x1="389.41" y1="258.40" x2="389.41" y2="259.30" stroke="#999" stroke-width="0.3" />
<line x1="390.85" y1="258.40" x2="390.85" y2="259.30" stroke="#999" stroke-width="0.3" />
<line x1="392.11" y1="258.40" x2="392.11" y2="259.30" stroke="#999" stroke-width="0.3" />
<line x1="393.21" y1="258.40" x2="393.21" y2="259.30" stroke="#999" stroke-width="0.3" />
<text x="394.20" y="267.50" font-size="6.8" text-anchor="middle" fill="#333" stroke="#333" stroke-width="0.16" >10</text>
<line x1="394.20" y1="258.40" x2="394.20" y2="260.10" stroke="#999" stroke-width="0.5" />
<line x1="400.70" y1="258.40" x2="400.70" y2="259.30" stroke="#999" stroke-width="0.3" />
<line x1="404.51" y1="258.40" x2="404.51" y2="259.30" stroke="#999" stroke-width="0.3" />
<line x1="407.20" y1="258.40" x2="407.20" y2="259.30" stroke="#999" stroke-width="0.3" />
<line x1="409.30" y1="258.40" x2="409.30" y2="259.30" stroke="#999" stroke-width="0.3" />
<line x1="411.01" y1="258.40" x2="411.01" y2="259.30" stroke="#999" stroke-width="0.3" />
<line x1="412.45" y1="258.40" x2="412.45" y2="259.30" stroke="#999" stroke-width="0.3" />
<line x1="413.71" y1="258.40" x2="413.71" y2="259.30" stroke="#999" stroke-width="0.3" />
<line x1="414.81" y1="258.40" x2="414.81" y2="259.30" stroke="#999" stroke-width="0.3" />
<text x="415.80" y="267.50" font-size="6.8" text-anchor="middle" fill="#333" stroke="#333" stroke-width="0.16" >100</text>
<line x1="415.80" y1="258.40" x2="415.80" y2="260.10" stroke="#999" stroke-width="0.5" />
<line x1="422.30" y1="258.40" x2="422.30" y2="259.30" stroke="#999" stroke-width="0.3" />
<line x1="426.11" y1="258.40" x2="426.11" y2="259.30" stroke="#999" stroke-width="0.3" />
<line x1="428.80" y1="258.40" x2="428.80" y2="259.30" stroke="#999" stroke-width="0.3" />
<line x1="430.90" y1="258.40" x2="430.90" y2="259.30" stroke="#999" stroke-width="0.3" />
<line x1="432.61" y1="258.40" x2="432.61" y2="259.30" stroke="#999" stroke-width="0.3" />
<line x1="434.05" y1="258.40" x2="434.05" y2="259.30" stroke="#999" stroke-width="0.3" />
<line x1="435.31" y1="258.40" x2="435.31" y2="259.30" stroke="#999" stroke-width="0.3" />
<line x1="436.41" y1="258.40" x2="436.41" y2="259.30" stroke="#999" stroke-width="0.3" />
<text x="437.40" y="267.50" font-size="6.8" text-anchor="middle" fill="#333" stroke="#333" stroke-width="0.16" >1000</text>
<line x1="437.40" y1="258.40" x2="437.40" y2="260.10" stroke="#999" stroke-width="0.5" />
<text x="377.00" y="278.70" font-size="6.8" text-anchor="middle" fill="#333" stroke="#333" stroke-width="0.16" >4-AP [mM]</text>
<text x="0.00" y="0.00" font-size="6.9" text-anchor="middle" fill="#333" stroke="#333" stroke-width="0.16" transform="translate(289.9,206) rotate(-90)">norm. peak</text>
<polyline points="307.8,168.7 308.9,168.7 310.0,168.7 311.0,168.7 312.1,168.7 313.2,168.7 314.3,168.7 315.4,168.7 316.4,168.7 317.5,168.7 318.6,168.7 319.7,168.7 320.8,168.7 321.8,168.7 322.9,168.7 324.0,168.7 325.1,168.7 326.2,168.7 327.2,168.7 328.3,168.7 329.4,168.8 330.5,168.8 331.6,168.8 332.6,168.8 333.7,168.8 334.8,168.9 335.9,168.9 337.0,168.9 338.0,169.0 339.1,169.0 340.2,169.1 341.3,169.1 342.4,169.2 343.4,169.3 344.5,169.4 345.6,169.5 346.7,169.6 347.8,169.8 348.8,170.0 349.9,170.2 351.0,170.4 352.1,170.7 353.2,171.0 354.2,171.4 355.3,171.9 356.4,172.3 357.5,172.9 358.6,173.6 359.6,174.3 360.7,175.2 361.8,176.1 362.9,177.2 364.0,178.4 365.0,179.8 366.1,181.3 367.2,183.0 368.3,184.8 369.4,186.8 370.4,189.0 371.5,191.3 372.6,193.7 373.7,196.3 374.8,199.0 375.8,201.8 376.9,204.6 378.0,207.4 379.1,210.2 380.2,213.0 381.2,215.7 382.3,218.3 383.4,220.7 384.5,223.0 385.6,225.2 386.6,227.1 387.7,229.0 388.8,230.6 389.9,232.1 391.0,233.5 392.0,234.7 393.1,235.7 394.2,236.7 395.3,237.5 396.4,238.3 397.4,238.9 398.5,239.5 399.6,240.0 400.7,240.4 401.8,240.8 402.8,241.1 403.9,241.4 405.0,241.6 406.1,241.8 407.2,242.0 408.2,242.1 409.3,242.3 410.4,242.4 411.5,242.5 412.6,242.6 413.6,242.6 414.7,242.7 415.8,242.8 416.9,242.8 418.0,242.9 419.0,242.9 420.1,242.9 421.2,242.9 422.3,243.0 423.4,243.0 424.4,243.0 425.5,243.0 426.6,243.0 427.7,243.0 428.8,243.0 429.8,243.1 430.9,243.1 432.0,243.1 433.1,243.1 434.2,243.1 435.2,243.1 436.3,243.1 437.4,243.1" fill="none" stroke="#f04444" stroke-width="1.05" stroke-linejoin="round" />
<rect x="317.64" y="165.19" width="2.50" height="2.50" fill="#111" />
<rect x="332.62" y="167.42" width="2.50" height="2.50" fill="#111" />
<rect x="347.30" y="174.27" width="2.50" height="2.50" fill="#111" />
<rect x="362.27" y="184.02" width="2.50" height="2.50" fill="#111" />
<rect x="377.61" y="206.50" width="2.50" height="2.50" fill="#111" />
<rect x="392.63" y="241.11" width="2.50" height="2.50" fill="#111" />
<text x="314.2" y="225.7" font-size="5.3" fill="#333" stroke="#333" stroke-width="0.1" textLength="56" lengthAdjust="spacingAndGlyphs">IC<tspan font-size="3.286" dy="1">50</tspan><tspan dy="-1"> = (1.67 ± 0.28) mM</tspan></text>
<text x="314.20" y="233.90" font-size="5.3" text-anchor="start" fill="#333" stroke="#333" stroke-width="0.1" textLength="36" lengthAdjust="spacingAndGlyphs">n = 1.32 ± 0.33</text>
<text x="314.2" y="241.0" font-size="5.3" fill="#333" stroke="#333" stroke-width="0.1" textLength="16.3" lengthAdjust="spacingAndGlyphs">I<tspan font-size="3.286" dy="1">max</tspan><tspan dy="-1"> = 1</tspan></text>
<text x="314.2" y="249.0" font-size="5.3" fill="#333" stroke="#333" stroke-width="0.1" textLength="16.3" lengthAdjust="spacingAndGlyphs">I<tspan font-size="3.286" dy="1">min</tspan><tspan dy="-1"> = 0</tspan></text>
<path d="M333,189.8 L333,193.8 L325.5,197.8 L325.5,206 L330.4,209.2 M335.6,209.2 L340.3,206 L340.3,197.8 L333,193.8" fill="none" stroke="#333" stroke-width="0.8"/>
<path d="M327.1,199 L327.1,205 M334,196 L338.8,198.7 M334.8,207.8 L338.8,205.3" fill="none" stroke="#333" stroke-width="0.65"/>
<text x="330.4" y="187.6" font-size="6.0" fill="#222" stroke="#222" stroke-width="0.14">NH<tspan font-size="4.0" dy="1">2</tspan></text>
<text x="333.00" y="212.00" font-size="5.6" text-anchor="middle" fill="#222" stroke="#222" stroke-width="0.14" >N</text>
<text x="3.10" y="303.00" font-size="14" text-anchor="start" fill="#111" stroke="#111" stroke-width="0.05" >F</text>
<line x1="33.70" y1="299.00" x2="33.70" y2="405.40" stroke="#999" stroke-width="0.7" />
<line x1="33.70" y1="405.40" x2="161.20" y2="405.40" stroke="#999" stroke-width="0.7" />
<text x="30.20" y="398.05" font-size="6.8" text-anchor="end" fill="#333" stroke="#333" stroke-width="0.16" >1.0</text>
<line x1="32.00" y1="395.60" x2="33.70" y2="395.60" stroke="#999" stroke-width="0.5" />
<text x="30.20" y="374.20" font-size="6.8" text-anchor="end" fill="#333" stroke="#333" stroke-width="0.16" >1.5</text>
<line x1="32.00" y1="371.75" x2="33.70" y2="371.75" stroke="#999" stroke-width="0.5" />
<text x="30.20" y="350.35" font-size="6.8" text-anchor="end" fill="#333" stroke="#333" stroke-width="0.16" >2.0</text>
<line x1="32.00" y1="347.90" x2="33.70" y2="347.90" stroke="#999" stroke-width="0.5" />
<text x="30.20" y="326.50" font-size="6.8" text-anchor="end" fill="#333" stroke="#333" stroke-width="0.16" >2.5</text>
<line x1="32.00" y1="324.05" x2="33.70" y2="324.05" stroke="#999" stroke-width="0.5" />
<text x="30.20" y="302.65" font-size="6.8" text-anchor="end" fill="#333" stroke="#333" stroke-width="0.16" >3.0</text>
<line x1="32.00" y1="300.20" x2="33.70" y2="300.20" stroke="#999" stroke-width="0.5" />
<line x1="32.70" y1="383.68" x2="33.70" y2="383.68" stroke="#999" stroke-width="0.4" />
<line x1="32.70" y1="359.83" x2="33.70" y2="359.83" stroke="#999" stroke-width="0.4" />
<line x1="32.70" y1="335.98" x2="33.70" y2="335.98" stroke="#999" stroke-width="0.4" />
<line x1="32.70" y1="312.12" x2="33.70" y2="312.12" stroke="#999" stroke-width="0.4" />
<text x="33.70" y="414.50" font-size="6.8" text-anchor="middle" fill="#333" stroke="#333" stroke-width="0.16" >0.001</text>
<line x1="33.70" y1="405.40" x2="33.70" y2="407.10" stroke="#999" stroke-width="0.5" />
<line x1="40.10" y1="405.40" x2="40.10" y2="406.30" stroke="#999" stroke-width="0.3" />
<line x1="43.84" y1="405.40" x2="43.84" y2="406.30" stroke="#999" stroke-width="0.3" />
<line x1="46.49" y1="405.40" x2="46.49" y2="406.30" stroke="#999" stroke-width="0.3" />
<line x1="48.55" y1="405.40" x2="48.55" y2="406.30" stroke="#999" stroke-width="0.3" />
<line x1="50.24" y1="405.40" x2="50.24" y2="406.30" stroke="#999" stroke-width="0.3" />
<line x1="51.66" y1="405.40" x2="51.66" y2="406.30" stroke="#999" stroke-width="0.3" />
<line x1="52.89" y1="405.40" x2="52.89" y2="406.30" stroke="#999" stroke-width="0.3" />
<line x1="53.98" y1="405.40" x2="53.98" y2="406.30" stroke="#999" stroke-width="0.3" />
<text x="54.95" y="414.50" font-size="6.8" text-anchor="middle" fill="#333" stroke="#333" stroke-width="0.16" >0.01</text>
<line x1="54.95" y1="405.40" x2="54.95" y2="407.10" stroke="#999" stroke-width="0.5" />
<line x1="61.35" y1="405.40" x2="61.35" y2="406.30" stroke="#999" stroke-width="0.3" />
<line x1="65.09" y1="405.40" x2="65.09" y2="406.30" stroke="#999" stroke-width="0.3" />
<line x1="67.74" y1="405.40" x2="67.74" y2="406.30" stroke="#999" stroke-width="0.3" />
<line x1="69.80" y1="405.40" x2="69.80" y2="406.30" stroke="#999" stroke-width="0.3" />
<line x1="71.49" y1="405.40" x2="71.49" y2="406.30" stroke="#999" stroke-width="0.3" />
<line x1="72.91" y1="405.40" x2="72.91" y2="406.30" stroke="#999" stroke-width="0.3" />
<line x1="74.14" y1="405.40" x2="74.14" y2="406.30" stroke="#999" stroke-width="0.3" />
<line x1="75.23" y1="405.40" x2="75.23" y2="406.30" stroke="#999" stroke-width="0.3" />
<text x="76.20" y="414.50" font-size="6.8" text-anchor="middle" fill="#333" stroke="#333" stroke-width="0.16" >0.1</text>
<line x1="76.20" y1="405.40" x2="76.20" y2="407.10" stroke="#999" stroke-width="0.5" />
<line x1="82.60" y1="405.40" x2="82.60" y2="406.30" stroke="#999" stroke-width="0.3" />
<line x1="86.34" y1="405.40" x2="86.34" y2="406.30" stroke="#999" stroke-width="0.3" />
<line x1="88.99" y1="405.40" x2="88.99" y2="406.30" stroke="#999" stroke-width="0.3" />
<line x1="91.05" y1="405.40" x2="91.05" y2="406.30" stroke="#999" stroke-width="0.3" />
<line x1="92.74" y1="405.40" x2="92.74" y2="406.30" stroke="#999" stroke-width="0.3" />
<line x1="94.16" y1="405.40" x2="94.16" y2="406.30" stroke="#999" stroke-width="0.3" />
<line x1="95.39" y1="405.40" x2="95.39" y2="406.30" stroke="#999" stroke-width="0.3" />
<line x1="96.48" y1="405.40" x2="96.48" y2="406.30" stroke="#999" stroke-width="0.3" />
<text x="97.45" y="414.50" font-size="6.8" text-anchor="middle" fill="#333" stroke="#333" stroke-width="0.16" >1</text>
<line x1="97.45" y1="405.40" x2="97.45" y2="407.10" stroke="#999" stroke-width="0.5" />
<line x1="103.85" y1="405.40" x2="103.85" y2="406.30" stroke="#999" stroke-width="0.3" />
<line x1="107.59" y1="405.40" x2="107.59" y2="406.30" stroke="#999" stroke-width="0.3" />
<line x1="110.24" y1="405.40" x2="110.24" y2="406.30" stroke="#999" stroke-width="0.3" />
<line x1="112.30" y1="405.40" x2="112.30" y2="406.30" stroke="#999" stroke-width="0.3" />
<line x1="113.99" y1="405.40" x2="113.99" y2="406.30" stroke="#999" stroke-width="0.3" />
<line x1="115.41" y1="405.40" x2="115.41" y2="406.30" stroke="#999" stroke-width="0.3" />
<line x1="116.64" y1="405.40" x2="116.64" y2="406.30" stroke="#999" stroke-width="0.3" />
<line x1="117.73" y1="405.40" x2="117.73" y2="406.30" stroke="#999" stroke-width="0.3" />
<text x="118.70" y="414.50" font-size="6.8" text-anchor="middle" fill="#333" stroke="#333" stroke-width="0.16" >10</text>
<line x1="118.70" y1="405.40" x2="118.70" y2="407.10" stroke="#999" stroke-width="0.5" />
<line x1="125.10" y1="405.40" x2="125.10" y2="406.30" stroke="#999" stroke-width="0.3" />
<line x1="128.84" y1="405.40" x2="128.84" y2="406.30" stroke="#999" stroke-width="0.3" />
<line x1="131.49" y1="405.40" x2="131.49" y2="406.30" stroke="#999" stroke-width="0.3" />
<line x1="133.55" y1="405.40" x2="133.55" y2="406.30" stroke="#999" stroke-width="0.3" />
<line x1="135.24" y1="405.40" x2="135.24" y2="406.30" stroke="#999" stroke-width="0.3" />
<line x1="136.66" y1="405.40" x2="136.66" y2="406.30" stroke="#999" stroke-width="0.3" />
<line x1="137.89" y1="405.40" x2="137.89" y2="406.30" stroke="#999" stroke-width="0.3" />
<line x1="138.98" y1="405.40" x2="138.98" y2="406.30" stroke="#999" stroke-width="0.3" />
<text x="139.95" y="414.50" font-size="6.8" text-anchor="middle" fill="#333" stroke="#333" stroke-width="0.16" >100</text>
<line x1="139.95" y1="405.40" x2="139.95" y2="407.10" stroke="#999" stroke-width="0.5" />
<line x1="146.35" y1="405.40" x2="146.35" y2="406.30" stroke="#999" stroke-width="0.3" />
<line x1="150.09" y1="405.40" x2="150.09" y2="406.30" stroke="#999" stroke-width="0.3" />
<line x1="152.74" y1="405.40" x2="152.74" y2="406.30" stroke="#999" stroke-width="0.3" />
<line x1="154.80" y1="405.40" x2="154.80" y2="406.30" stroke="#999" stroke-width="0.3" />
<line x1="156.49" y1="405.40" x2="156.49" y2="406.30" stroke="#999" stroke-width="0.3" />
<line x1="157.91" y1="405.40" x2="157.91" y2="406.30" stroke="#999" stroke-width="0.3" />
<line x1="159.14" y1="405.40" x2="159.14" y2="406.30" stroke="#999" stroke-width="0.3" />
<line x1="160.23" y1="405.40" x2="160.23" y2="406.30" stroke="#999" stroke-width="0.3" />
<text x="161.20" y="414.50" font-size="6.8" text-anchor="middle" fill="#333" stroke="#333" stroke-width="0.16" >1000</text>
<line x1="161.20" y1="405.40" x2="161.20" y2="407.10" stroke="#999" stroke-width="0.5" />
<text x="98.50" y="425.70" font-size="6.8" text-anchor="middle" fill="#333" stroke="#333" stroke-width="0.16" >DCPIB [µM]</text>
<text x="0.00" y="0.00" font-size="6.9" text-anchor="middle" fill="#333" stroke="#333" stroke-width="0.16" transform="translate(15.2,351.5) rotate(-90)">norm. peak</text>
<polyline points="33.7,395.6 34.8,395.6 35.8,395.6 36.9,395.6 38.0,395.6 39.0,395.6 40.1,395.6 41.1,395.6 42.2,395.6 43.3,395.6 44.3,395.6 45.4,395.6 46.5,395.6 47.5,395.6 48.6,395.6 49.6,395.6 50.7,395.6 51.8,395.6 52.8,395.6 53.9,395.6 55.0,395.6 56.0,395.6 57.1,395.6 58.1,395.6 59.2,395.5 60.3,395.5 61.3,395.5 62.4,395.5 63.5,395.5 64.5,395.5 65.6,395.5 66.6,395.5 67.7,395.4 68.8,395.4 69.8,395.4 70.9,395.4 72.0,395.3 73.0,395.3 74.1,395.2 75.1,395.2 76.2,395.1 77.3,395.1 78.3,395.0 79.4,394.9 80.5,394.8 81.5,394.7 82.6,394.6 83.6,394.5 84.7,394.3 85.8,394.1 86.8,393.9 87.9,393.7 89.0,393.4 90.0,393.1 91.1,392.8 92.1,392.4 93.2,392.0 94.3,391.5 95.3,391.0 96.4,390.4 97.5,389.7 98.5,389.0 99.6,388.1 100.6,387.2 101.7,386.1 102.8,384.9 103.8,383.7 104.9,382.3 106.0,380.7 107.0,379.0 108.1,377.2 109.1,375.3 110.2,373.2 111.3,371.0 112.3,368.7 113.4,366.2 114.5,363.7 115.5,361.0 116.6,358.4 117.6,355.6 118.7,352.9 119.8,350.2 120.8,347.5 121.9,344.8 123.0,342.2 124.0,339.8 125.1,337.4 126.1,335.1 127.2,333.0 128.3,331.0 129.3,329.2 130.4,327.5 131.4,325.9 132.5,324.5 133.6,323.1 134.6,321.9 135.7,320.9 136.8,319.9 137.8,319.0 138.9,318.2 139.9,317.5 141.0,316.9 142.1,316.3 143.1,315.8 144.2,315.4 145.3,315.0 146.3,314.7 147.4,314.4 148.5,314.1 149.5,313.9 150.6,313.7 151.6,313.5 152.7,313.3 153.8,313.2 154.8,313.0 155.9,312.9 156.9,312.8 158.0,312.7 159.1,312.7 160.1,312.6 161.2,312.5" fill="none" stroke="#f04444" stroke-width="1.05" stroke-linejoin="round" />
<rect x="72.89" y="391.73" width="2.50" height="2.50" fill="#111" />
<rect x="83.77" y="390.34" width="2.50" height="2.50" fill="#111" />
<line x1="95.39" y1="387.01" x2="95.39" y2="388.92" stroke="#888" stroke-width="0.55" />
<line x1="94.09" y1="387.01" x2="96.69" y2="387.01" stroke="#888" stroke-width="0.55" />
<line x1="94.09" y1="388.92" x2="96.69" y2="388.92" stroke="#888" stroke-width="0.55" />
<rect x="94.14" y="386.72" width="2.50" height="2.50" fill="#111" />
<line x1="105.53" y1="380.81" x2="105.53" y2="386.54" stroke="#888" stroke-width="0.55" />
<line x1="104.23" y1="380.81" x2="106.83" y2="380.81" stroke="#888" stroke-width="0.55" />
<line x1="104.23" y1="386.54" x2="106.83" y2="386.54" stroke="#888" stroke-width="0.55" />
<rect x="104.28" y="382.43" width="2.50" height="2.50" fill="#111" />
<line x1="115.67" y1="362.21" x2="115.67" y2="369.84" stroke="#888" stroke-width="0.55" />
<line x1="114.37" y1="362.21" x2="116.97" y2="362.21" stroke="#888" stroke-width="0.55" />
<line x1="114.37" y1="369.84" x2="116.97" y2="369.84" stroke="#888" stroke-width="0.55" />
<rect x="114.42" y="364.78" width="2.50" height="2.50" fill="#111" />
<line x1="125.76" y1="302.59" x2="125.76" y2="348.38" stroke="#888" stroke-width="0.55" />
<line x1="124.46" y1="302.59" x2="127.06" y2="302.59" stroke="#888" stroke-width="0.55" />
<line x1="124.46" y1="348.38" x2="127.06" y2="348.38" stroke="#888" stroke-width="0.55" />
<rect x="124.51" y="324.23" width="2.50" height="2.50" fill="#111" />
<line x1="136.53" y1="304.25" x2="136.53" y2="348.62" stroke="#888" stroke-width="0.55" />
<line x1="135.23" y1="304.25" x2="137.83" y2="304.25" stroke="#888" stroke-width="0.55" />
<line x1="135.23" y1="348.62" x2="137.83" y2="348.62" stroke="#888" stroke-width="0.55" />
<rect x="135.28" y="325.19" width="2.50" height="2.50" fill="#111" />
<text x="37.6" y="353.2" font-size="5.4" fill="#444" stroke="#444" stroke-width="0.1" textLength="51.6" lengthAdjust="spacingAndGlyphs">EC<tspan font-size="3.3480000000000003" dy="1">50</tspan><tspan dy="-1"> = (9.6 ± 5.1) µM</tspan></text>
<text x="37.60" y="361.20" font-size="5.4" text-anchor="start" fill="#444" stroke="#444" stroke-width="0.1" textLength="37" lengthAdjust="spacingAndGlyphs">n = 1.14 ± 0.34</text>
<text x="37.6" y="368.8" font-size="5.4" fill="#444" stroke="#444" stroke-width="0.1" textLength="41.4" lengthAdjust="spacingAndGlyphs">I<tspan font-size="3.3480000000000003" dy="1">max</tspan><tspan dy="-1"> = 2.75 ± 0.37</tspan></text>
<text x="37.6" y="376.4" font-size="5.4" fill="#444" stroke="#444" stroke-width="0.1" textLength="16.5" lengthAdjust="spacingAndGlyphs">I<tspan font-size="3.3480000000000003" dy="1">min</tspan><tspan dy="-1"> = 1</tspan></text>
<g fill="none" stroke="#555" stroke-width="0.6" stroke-linejoin="round"><path d="M75.2,312.6 L80.3,315.2 L80.3,321 L75.2,323.6 L70.4,321 L70.4,315.2 Z"/><path d="M71.6,316 L71.6,320.2 M76,313.8 L79.3,315.6 M76,322.4 L79.3,320.6"/><path d="M80.3,315.2 L86.5,313 L89.6,318.3 L85.6,322.3 L80.3,321"/><path d="M86.5,313 L87.6,309.2 M85.6,312.7 L86.6,309"/><path d="M89.6,318.3 L94,313.5 L95.3,307.7 L100.6,307.3 L103.7,312.1 L99.3,316.1 Z"/><path d="M89.6,318.3 L94.6,321.4 L98.4,319.2 L103.3,321.9 L107.3,319.2"/><path d="M70.4,315.2 L66.3,313.3 M75.2,312.6 L75.8,308.8"/><path d="M70.4,321 L67.3,323 M63.7,323 L60.5,321 L55.2,323.6 L49.9,321 L45.6,323.6 L42.3,321.8 M45.6,323.6 L46.3,327.3 M45,323.9 L41.8,322.1"/></g>
<text x="63.5" y="313.6" font-size="4.1" text-anchor="middle" fill="#444" stroke="#444" stroke-width="0.12">Cl</text>
<text x="76.3" y="308" font-size="4.1" text-anchor="middle" fill="#444" stroke="#444" stroke-width="0.12">Cl</text>
<text x="88.2" y="308.6" font-size="4.1" text-anchor="middle" fill="#444" stroke="#444" stroke-width="0.12">O</text>
<text x="65.5" y="325.2" font-size="4.1" text-anchor="middle" fill="#444" stroke="#444" stroke-width="0.12">O</text>
<text x="40.6" y="322.5" font-size="4.1" text-anchor="middle" fill="#444" stroke="#444" stroke-width="0.12">O</text>
<text x="47" y="331" font-size="4.1" text-anchor="middle" fill="#444" stroke="#444" stroke-width="0.12">OH</text>
<text x="112" y="321.3" font-size="4.1" text-anchor="middle" fill="#444" stroke="#444" stroke-width="0.12">CH<tspan font-size="2.7" dy="0.7">3</tspan></text>
<text x="275.50" y="302.80" font-size="14" text-anchor="start" fill="#111" stroke="#111" stroke-width="0.05" >G</text>
<line x1="309.70" y1="299.00" x2="309.70" y2="405.00" stroke="#999" stroke-width="0.7" />
<line x1="309.70" y1="405.00" x2="439.30" y2="405.00" stroke="#999" stroke-width="0.7" />
<text x="306.20" y="407.40" font-size="6.8" text-anchor="end" fill="#333" stroke="#333" stroke-width="0.16" >0.8</text>
<line x1="308.00" y1="404.95" x2="309.70" y2="404.95" stroke="#999" stroke-width="0.5" />
<text x="306.20" y="386.50" font-size="6.8" text-anchor="end" fill="#333" stroke="#333" stroke-width="0.16" >1.2</text>
<line x1="308.00" y1="384.05" x2="309.70" y2="384.05" stroke="#999" stroke-width="0.5" />
<text x="306.20" y="365.60" font-size="6.8" text-anchor="end" fill="#333" stroke="#333" stroke-width="0.16" >1.6</text>
<line x1="308.00" y1="363.15" x2="309.70" y2="363.15" stroke="#999" stroke-width="0.5" />
<text x="306.20" y="344.70" font-size="6.8" text-anchor="end" fill="#333" stroke="#333" stroke-width="0.16" >2.0</text>
<line x1="308.00" y1="342.25" x2="309.70" y2="342.25" stroke="#999" stroke-width="0.5" />
<text x="306.20" y="323.80" font-size="6.8" text-anchor="end" fill="#333" stroke="#333" stroke-width="0.16" >2.4</text>
<line x1="308.00" y1="321.35" x2="309.70" y2="321.35" stroke="#999" stroke-width="0.5" />
<text x="306.20" y="302.90" font-size="6.8" text-anchor="end" fill="#333" stroke="#333" stroke-width="0.16" >2.8</text>
<line x1="308.00" y1="300.45" x2="309.70" y2="300.45" stroke="#999" stroke-width="0.5" />
<line x1="308.70" y1="394.50" x2="309.70" y2="394.50" stroke="#999" stroke-width="0.4" />
<line x1="308.70" y1="373.60" x2="309.70" y2="373.60" stroke="#999" stroke-width="0.4" />
<line x1="308.70" y1="352.70" x2="309.70" y2="352.70" stroke="#999" stroke-width="0.4" />
<line x1="308.70" y1="331.80" x2="309.70" y2="331.80" stroke="#999" stroke-width="0.4" />
<line x1="308.70" y1="310.90" x2="309.70" y2="310.90" stroke="#999" stroke-width="0.4" />
<text x="309.70" y="414.10" font-size="6.8" text-anchor="middle" fill="#333" stroke="#333" stroke-width="0.16" >0.001</text>
<line x1="309.70" y1="405.00" x2="309.70" y2="406.70" stroke="#999" stroke-width="0.5" />
<line x1="316.20" y1="405.00" x2="316.20" y2="405.90" stroke="#999" stroke-width="0.3" />
<line x1="320.01" y1="405.00" x2="320.01" y2="405.90" stroke="#999" stroke-width="0.3" />
<line x1="322.70" y1="405.00" x2="322.70" y2="405.90" stroke="#999" stroke-width="0.3" />
<line x1="324.80" y1="405.00" x2="324.80" y2="405.90" stroke="#999" stroke-width="0.3" />
<line x1="326.51" y1="405.00" x2="326.51" y2="405.90" stroke="#999" stroke-width="0.3" />
<line x1="327.95" y1="405.00" x2="327.95" y2="405.90" stroke="#999" stroke-width="0.3" />
<line x1="329.21" y1="405.00" x2="329.21" y2="405.90" stroke="#999" stroke-width="0.3" />
<line x1="330.31" y1="405.00" x2="330.31" y2="405.90" stroke="#999" stroke-width="0.3" />
<text x="331.30" y="414.10" font-size="6.8" text-anchor="middle" fill="#333" stroke="#333" stroke-width="0.16" >0.01</text>
<line x1="331.30" y1="405.00" x2="331.30" y2="406.70" stroke="#999" stroke-width="0.5" />
<line x1="337.80" y1="405.00" x2="337.80" y2="405.90" stroke="#999" stroke-width="0.3" />
<line x1="341.61" y1="405.00" x2="341.61" y2="405.90" stroke="#999" stroke-width="0.3" />
<line x1="344.30" y1="405.00" x2="344.30" y2="405.90" stroke="#999" stroke-width="0.3" />
<line x1="346.40" y1="405.00" x2="346.40" y2="405.90" stroke="#999" stroke-width="0.3" />
<line x1="348.11" y1="405.00" x2="348.11" y2="405.90" stroke="#999" stroke-width="0.3" />
<line x1="349.55" y1="405.00" x2="349.55" y2="405.90" stroke="#999" stroke-width="0.3" />
<line x1="350.81" y1="405.00" x2="350.81" y2="405.90" stroke="#999" stroke-width="0.3" />
<line x1="351.91" y1="405.00" x2="351.91" y2="405.90" stroke="#999" stroke-width="0.3" />
<text x="352.90" y="414.10" font-size="6.8" text-anchor="middle" fill="#333" stroke="#333" stroke-width="0.16" >0.1</text>
<line x1="352.90" y1="405.00" x2="352.90" y2="406.70" stroke="#999" stroke-width="0.5" />
<line x1="359.40" y1="405.00" x2="359.40" y2="405.90" stroke="#999" stroke-width="0.3" />
<line x1="363.21" y1="405.00" x2="363.21" y2="405.90" stroke="#999" stroke-width="0.3" />
<line x1="365.90" y1="405.00" x2="365.90" y2="405.90" stroke="#999" stroke-width="0.3" />
<line x1="368.00" y1="405.00" x2="368.00" y2="405.90" stroke="#999" stroke-width="0.3" />
<line x1="369.71" y1="405.00" x2="369.71" y2="405.90" stroke="#999" stroke-width="0.3" />
<line x1="371.15" y1="405.00" x2="371.15" y2="405.90" stroke="#999" stroke-width="0.3" />
<line x1="372.41" y1="405.00" x2="372.41" y2="405.90" stroke="#999" stroke-width="0.3" />
<line x1="373.51" y1="405.00" x2="373.51" y2="405.90" stroke="#999" stroke-width="0.3" />
<text x="374.50" y="414.10" font-size="6.8" text-anchor="middle" fill="#333" stroke="#333" stroke-width="0.16" >1</text>
<line x1="374.50" y1="405.00" x2="374.50" y2="406.70" stroke="#999" stroke-width="0.5" />
<line x1="381.00" y1="405.00" x2="381.00" y2="405.90" stroke="#999" stroke-width="0.3" />
<line x1="384.81" y1="405.00" x2="384.81" y2="405.90" stroke="#999" stroke-width="0.3" />
<line x1="387.50" y1="405.00" x2="387.50" y2="405.90" stroke="#999" stroke-width="0.3" />
<line x1="389.60" y1="405.00" x2="389.60" y2="405.90" stroke="#999" stroke-width="0.3" />
<line x1="391.31" y1="405.00" x2="391.31" y2="405.90" stroke="#999" stroke-width="0.3" />
<line x1="392.75" y1="405.00" x2="392.75" y2="405.90" stroke="#999" stroke-width="0.3" />
<line x1="394.01" y1="405.00" x2="394.01" y2="405.90" stroke="#999" stroke-width="0.3" />
<line x1="395.11" y1="405.00" x2="395.11" y2="405.90" stroke="#999" stroke-width="0.3" />
<text x="396.10" y="414.10" font-size="6.8" text-anchor="middle" fill="#333" stroke="#333" stroke-width="0.16" >10</text>
<line x1="396.10" y1="405.00" x2="396.10" y2="406.70" stroke="#999" stroke-width="0.5" />
<line x1="402.60" y1="405.00" x2="402.60" y2="405.90" stroke="#999" stroke-width="0.3" />
<line x1="406.41" y1="405.00" x2="406.41" y2="405.90" stroke="#999" stroke-width="0.3" />
<line x1="409.10" y1="405.00" x2="409.10" y2="405.90" stroke="#999" stroke-width="0.3" />
<line x1="411.20" y1="405.00" x2="411.20" y2="405.90" stroke="#999" stroke-width="0.3" />
<line x1="412.91" y1="405.00" x2="412.91" y2="405.90" stroke="#999" stroke-width="0.3" />
<line x1="414.35" y1="405.00" x2="414.35" y2="405.90" stroke="#999" stroke-width="0.3" />
<line x1="415.61" y1="405.00" x2="415.61" y2="405.90" stroke="#999" stroke-width="0.3" />
<line x1="416.71" y1="405.00" x2="416.71" y2="405.90" stroke="#999" stroke-width="0.3" />
<text x="417.70" y="414.10" font-size="6.8" text-anchor="middle" fill="#333" stroke="#333" stroke-width="0.16" >100</text>
<line x1="417.70" y1="405.00" x2="417.70" y2="406.70" stroke="#999" stroke-width="0.5" />
<line x1="424.20" y1="405.00" x2="424.20" y2="405.90" stroke="#999" stroke-width="0.3" />
<line x1="428.01" y1="405.00" x2="428.01" y2="405.90" stroke="#999" stroke-width="0.3" />
<line x1="430.70" y1="405.00" x2="430.70" y2="405.90" stroke="#999" stroke-width="0.3" />
<line x1="432.80" y1="405.00" x2="432.80" y2="405.90" stroke="#999" stroke-width="0.3" />
<line x1="434.51" y1="405.00" x2="434.51" y2="405.90" stroke="#999" stroke-width="0.3" />
<line x1="435.95" y1="405.00" x2="435.95" y2="405.90" stroke="#999" stroke-width="0.3" />
<line x1="437.21" y1="405.00" x2="437.21" y2="405.90" stroke="#999" stroke-width="0.3" />
<line x1="438.31" y1="405.00" x2="438.31" y2="405.90" stroke="#999" stroke-width="0.3" />
<text x="439.30" y="414.10" font-size="6.8" text-anchor="middle" fill="#333" stroke="#333" stroke-width="0.16" >1000</text>
<line x1="439.30" y1="405.00" x2="439.30" y2="406.70" stroke="#999" stroke-width="0.5" />
<text x="374.50" y="425.30" font-size="6.8" text-anchor="middle" fill="#333" stroke="#333" stroke-width="0.16" >Arachidonic acid [µM]</text>
<text x="0.00" y="0.00" font-size="6.9" text-anchor="middle" fill="#333" stroke="#333" stroke-width="0.16" transform="translate(290.9,351.5) rotate(-90)">norm. peak</text>
<polyline points="309.7,394.5 310.8,394.5 311.9,394.5 312.9,394.5 314.0,394.5 315.1,394.5 316.2,394.5 317.3,394.5 318.3,394.5 319.4,394.5 320.5,394.5 321.6,394.5 322.7,394.5 323.7,394.5 324.8,394.5 325.9,394.5 327.0,394.5 328.1,394.5 329.1,394.5 330.2,394.4 331.3,394.4 332.4,394.4 333.5,394.4 334.5,394.4 335.6,394.4 336.7,394.4 337.8,394.4 338.9,394.3 339.9,394.3 341.0,394.3 342.1,394.3 343.2,394.2 344.3,394.2 345.3,394.1 346.4,394.1 347.5,394.0 348.6,394.0 349.7,393.9 350.7,393.8 351.8,393.7 352.9,393.6 354.0,393.5 355.1,393.3 356.1,393.2 357.2,393.0 358.3,392.8 359.4,392.5 360.5,392.3 361.5,392.0 362.6,391.6 363.7,391.3 364.8,390.8 365.9,390.4 366.9,389.8 368.0,389.3 369.1,388.6 370.2,388.0 371.3,387.2 372.3,386.4 373.4,385.5 374.5,384.6 375.6,383.6 376.7,382.5 377.7,381.5 378.8,380.3 379.9,379.2 381.0,378.0 382.1,376.8 383.1,375.6 384.2,374.4 385.3,373.2 386.4,372.1 387.5,371.0 388.5,370.0 389.6,369.0 390.7,368.0 391.8,367.2 392.9,366.3 393.9,365.6 395.0,364.9 396.1,364.3 397.2,363.7 398.3,363.2 399.3,362.7 400.4,362.3 401.5,361.9 402.6,361.5 403.7,361.2 404.7,361.0 405.8,360.7 406.9,360.5 408.0,360.3 409.1,360.2 410.1,360.0 411.2,359.9 412.3,359.8 413.4,359.7 414.5,359.6 415.5,359.5 416.6,359.4 417.7,359.4 418.8,359.3 419.9,359.3 420.9,359.2 422.0,359.2 423.1,359.2 424.2,359.2 425.3,359.1 426.3,359.1 427.4,359.1 428.5,359.1 429.6,359.1 430.7,359.1 431.7,359.0 432.8,359.0 433.9,359.0 435.0,359.0 436.1,359.0 437.1,359.0 438.2,359.0 439.3,359.0" fill="none" stroke="#f04444" stroke-width="1.05" stroke-linejoin="round" />
<line x1="370.46" y1="386.92" x2="370.46" y2="387.97" stroke="#888" stroke-width="0.55" />
<line x1="369.16" y1="386.92" x2="371.76" y2="386.92" stroke="#888" stroke-width="0.55" />
<line x1="369.16" y1="387.97" x2="371.76" y2="387.97" stroke="#888" stroke-width="0.55" />
<rect x="369.21" y="386.20" width="2.50" height="2.50" fill="#111" />
<line x1="380.62" y1="379.35" x2="380.62" y2="381.44" stroke="#888" stroke-width="0.55" />
<line x1="379.32" y1="379.35" x2="381.92" y2="379.35" stroke="#888" stroke-width="0.55" />
<line x1="379.32" y1="381.44" x2="381.92" y2="381.44" stroke="#888" stroke-width="0.55" />
<rect x="379.37" y="379.14" width="2.50" height="2.50" fill="#111" />
<line x1="390.66" y1="365.24" x2="390.66" y2="368.38" stroke="#888" stroke-width="0.55" />
<line x1="389.36" y1="365.24" x2="391.96" y2="365.24" stroke="#888" stroke-width="0.55" />
<line x1="389.36" y1="368.38" x2="391.96" y2="368.38" stroke="#888" stroke-width="0.55" />
<rect x="389.41" y="365.56" width="2.50" height="2.50" fill="#111" />
<line x1="401.30" y1="357.40" x2="401.30" y2="362.63" stroke="#888" stroke-width="0.55" />
<line x1="400.00" y1="357.40" x2="402.60" y2="357.40" stroke="#888" stroke-width="0.55" />
<line x1="400.00" y1="362.63" x2="402.60" y2="362.63" stroke="#888" stroke-width="0.55" />
<rect x="400.05" y="358.76" width="2.50" height="2.50" fill="#111" />
<line x1="411.57" y1="358.97" x2="411.57" y2="365.24" stroke="#888" stroke-width="0.55" />
<line x1="410.27" y1="358.97" x2="412.87" y2="358.97" stroke="#888" stroke-width="0.55" />
<line x1="410.27" y1="365.24" x2="412.87" y2="365.24" stroke="#888" stroke-width="0.55" />
<rect x="410.32" y="360.86" width="2.50" height="2.50" fill="#111" />
<text x="315" y="359.8" font-size="5.5" fill="#333" stroke="#333" stroke-width="0.1" textLength="56.6" lengthAdjust="spacingAndGlyphs">EC<tspan font-size="3.41" dy="1">50</tspan><tspan dy="-1"> = (2.25 ± 0.45) µM</tspan></text>
<text x="315.00" y="368.20" font-size="5.5" text-anchor="start" fill="#333" stroke="#333" stroke-width="0.1" textLength="36.3" lengthAdjust="spacingAndGlyphs">n = 1.17 ± 1.69</text>
<text x="315" y="375.2" font-size="5.5" fill="#333" stroke="#333" stroke-width="0.1" textLength="40.7" lengthAdjust="spacingAndGlyphs">I<tspan font-size="3.41" dy="1">max</tspan><tspan dy="-1"> = 1.68 ± 0.05</tspan></text>
<text x="315" y="383.0" font-size="5.5" fill="#333" stroke="#333" stroke-width="0.1" textLength="15.3" lengthAdjust="spacingAndGlyphs">I<tspan font-size="3.41" dy="1">min</tspan><tspan dy="-1"> = 1</tspan></text>
<g fill="none" stroke="#555" stroke-width="0.65" stroke-linejoin="round"><path d="M350,305.5 L344.7,308.6 L339.6,306 L334.4,308.6 L329.6,306 L325.5,308.6 L325,314.4 L320.2,317.5 L320.2,323.8 L325,326.4 L325,331.6 L330.7,334.2 L334.9,331.6 L339.6,334.7 L344.8,334.7 L347.3,331.2 L352.5,331 L356.8,326.4 L362,325.9 L364.3,323"/><path d="M329.3,307.2 L326.4,309 M321.4,318.3 L321.4,323 M326,331 L330.4,333 M339.8,333.5 L344.2,333.5"/><path d="M350,305.5 L350,301.3 M349.1,305 L349.1,301.3 M350,305.5 L353.3,307.5"/></g>
<text x="349.6" y="301.3" font-size="4.1" text-anchor="middle" fill="#444" stroke="#444" stroke-width="0.12">O</text>
<text x="356.8" y="310.2" font-size="4.1" text-anchor="middle" fill="#444" stroke="#444" stroke-width="0.12">OH</text>
<text x="367.5" y="322.8" font-size="4.1" text-anchor="middle" fill="#444" stroke="#444" stroke-width="0.12">CH<tspan font-size="2.7" dy="0.7">3</tspan></text>
<line x1="179.10" y1="172.80" x2="179.10" y2="237.50" stroke="#999" stroke-width="0.7" />
<line x1="179.10" y1="237.50" x2="259.80" y2="237.50" stroke="#999" stroke-width="0.7" />
<text x="176.50" y="233.60" font-size="6.0" text-anchor="end" fill="#222" stroke="#222" stroke-width="0.16" >-1</text>
<line x1="177.70" y1="231.40" x2="179.10" y2="231.40" stroke="#999" stroke-width="0.5" />
<text x="176.50" y="220.80" font-size="6.0" text-anchor="end" fill="#222" stroke="#222" stroke-width="0.16" >0</text>
<line x1="177.70" y1="218.60" x2="179.10" y2="218.60" stroke="#999" stroke-width="0.5" />
<text x="176.50" y="208.00" font-size="6.0" text-anchor="end" fill="#222" stroke="#222" stroke-width="0.16" >1</text>
<line x1="177.70" y1="205.80" x2="179.10" y2="205.80" stroke="#999" stroke-width="0.5" />
<text x="176.50" y="195.20" font-size="6.0" text-anchor="end" fill="#222" stroke="#222" stroke-width="0.16" >2</text>
<line x1="177.70" y1="193.00" x2="179.10" y2="193.00" stroke="#999" stroke-width="0.5" />
<text x="176.50" y="182.40" font-size="6.0" text-anchor="end" fill="#222" stroke="#222" stroke-width="0.16" >3</text>
<line x1="177.70" y1="180.20" x2="179.10" y2="180.20" stroke="#999" stroke-width="0.5" />
<line x1="178.20" y1="225.00" x2="179.10" y2="225.00" stroke="#999" stroke-width="0.4" />
<line x1="178.20" y1="212.20" x2="179.10" y2="212.20" stroke="#999" stroke-width="0.4" />
<line x1="178.20" y1="199.40" x2="179.10" y2="199.40" stroke="#999" stroke-width="0.4" />
<line x1="178.20" y1="186.60" x2="179.10" y2="186.60" stroke="#999" stroke-width="0.4" />
<text x="179.10" y="244.80" font-size="6.0" text-anchor="middle" fill="#222" stroke="#222" stroke-width="0.16" >1.25</text>
<line x1="179.10" y1="237.50" x2="179.10" y2="238.90" stroke="#999" stroke-width="0.5" />
<text x="206.00" y="244.80" font-size="6.0" text-anchor="middle" fill="#222" stroke="#222" stroke-width="0.16" >1.30</text>
<line x1="206.00" y1="237.50" x2="206.00" y2="238.90" stroke="#999" stroke-width="0.5" />
<text x="232.90" y="244.80" font-size="6.0" text-anchor="middle" fill="#222" stroke="#222" stroke-width="0.16" >1.35</text>
<line x1="232.90" y1="237.50" x2="232.90" y2="238.90" stroke="#999" stroke-width="0.5" />
<text x="259.80" y="244.80" font-size="6.0" text-anchor="middle" fill="#222" stroke="#222" stroke-width="0.16" >1.40</text>
<line x1="259.80" y1="237.50" x2="259.80" y2="238.90" stroke="#999" stroke-width="0.5" />
<text x="219.40" y="250.20" font-size="6.0" text-anchor="middle" fill="#222" stroke="#222" stroke-width="0.16" >time [s]</text>
<text x="0.00" y="0.00" font-size="6.3" text-anchor="middle" fill="#222" stroke="#222" stroke-width="0.16" transform="translate(170.10000000000002,203.2) rotate(-90)">current [nA]</text>
<polyline points="179.1,218.6 179.6,218.6 180.1,218.6 180.6,218.6 181.1,218.6 181.6,218.6 182.1,218.6 182.6,218.6 183.1,218.6 183.6,218.6 184.1,218.6 184.6,218.6 185.2,218.6 185.7,218.6 186.2,218.6 186.7,218.6 187.2,218.6 187.7,218.6 188.2,218.6 188.7,218.6 189.2,218.6 189.7,218.6 190.2,218.6 190.7,218.6 191.2,218.6 191.7,218.6 192.2,218.6 192.7,218.6 193.2,218.6 193.7,218.6 194.2,218.6 194.7,218.6 195.2,218.5 195.7,218.5 196.2,218.5 196.8,218.4 197.3,218.2 197.8,218.0 198.3,217.7 198.8,217.3 199.3,216.7 199.8,215.8 200.3,214.7 200.8,213.4 201.3,211.6 201.8,209.5 202.3,207.0 202.8,204.2 203.3,201.0 203.8,197.6 204.3,194.1 204.8,190.6 205.3,187.4 205.8,184.5 206.3,182.2 206.8,180.5 207.3,179.7 207.8,179.7 208.4,180.5 208.9,182.0 209.4,183.8 209.9,185.8 210.4,187.8 210.9,189.9 211.4,191.8 211.9,193.7 212.4,195.4 212.9,197.1 213.4,198.6 213.9,200.1 214.4,201.4 214.9,202.6 215.4,203.8 215.9,204.9 216.4,205.9 216.9,206.8 217.4,207.7 217.9,208.4 218.4,209.2 218.9,209.9 219.4,210.5 220.0,211.1 220.5,211.6 221.0,212.1 221.5,212.6 222.0,213.0 222.5,213.4 223.0,213.8 223.5,214.2 224.0,214.5 224.5,214.8 225.0,215.1 225.5,215.3 226.0,215.6 226.5,215.8 227.0,216.0 227.5,216.2 228.0,216.4 228.5,216.6 229.0,216.7 229.5,216.9 230.0,217.0 230.5,217.1 231.1,217.3 231.6,217.4 232.1,217.5 232.6,217.6 233.1,217.7 233.6,217.8 234.1,217.9 234.6,218.0 235.1,218.1 235.6,218.1 236.1,218.2 236.6,218.3 237.1,218.3 237.6,218.4 238.1,218.5 238.6,218.5 239.1,218.6 239.6,218.6 240.1,218.7 240.6,218.7 241.1,218.8 241.6,218.8 242.1,218.9 242.7,218.9 243.2,218.9 243.7,219.0 244.2,219.0 244.7,219.1 245.2,219.1 245.7,219.1 246.2,219.2 246.7,219.2 247.2,219.2 247.7,219.3 248.2,219.3 248.7,219.3 249.2,219.3 249.7,219.4 250.2,219.4 250.7,219.4 251.2,219.5 251.7,219.5 252.2,219.5 252.7,219.5 253.2,219.6 253.7,219.6 254.3,219.6 254.8,219.6 255.3,219.7 255.8,219.7 256.3,219.7 256.8,219.7 257.3,219.8 257.8,219.8 258.3,219.8 258.8,219.8 259.3,219.8 259.8,219.9" fill="none" stroke="#c39ae6" stroke-width="0.75" stroke-linejoin="round" />
<polyline points="179.1,218.6 179.6,218.6 180.1,218.6 180.6,218.6 181.1,218.6 181.6,218.6 182.1,218.6 182.6,218.6 183.1,218.6 183.6,218.6 184.1,218.6 184.6,218.6 185.2,218.6 185.7,218.6 186.2,218.6 186.7,218.6 187.2,218.6 187.7,218.6 188.2,218.6 188.7,218.6 189.2,218.6 189.7,218.6 190.2,218.6 190.7,218.6 191.2,218.6 191.7,218.6 192.2,218.6 192.7,218.6 193.2,218.6 193.7,218.6 194.2,218.6 194.7,218.6 195.2,218.6 195.7,218.5 196.2,218.5 196.8,218.4 197.3,218.3 197.8,218.2 198.3,217.9 198.8,217.6 199.3,217.1 199.8,216.5 200.3,215.7 200.8,214.6 201.3,213.2 201.8,211.5 202.3,209.4 202.8,207.1 203.3,204.4 203.8,201.5 204.3,198.5 204.8,195.5 205.3,192.6 205.8,189.9 206.3,187.7 206.8,186.0 207.3,185.0 207.8,184.7 208.4,185.1 208.9,186.2 209.4,187.6 209.9,189.3 210.4,191.0 210.9,192.7 211.4,194.4 211.9,196.0 212.4,197.6 212.9,199.0 213.4,200.4 213.9,201.7 214.4,202.9 214.9,204.0 215.4,205.0 215.9,206.0 216.4,206.9 216.9,207.7 217.4,208.5 217.9,209.2 218.4,209.9 218.9,210.5 219.4,211.1 220.0,211.6 220.5,212.1 221.0,212.6 221.5,213.0 222.0,213.4 222.5,213.8 223.0,214.1 223.5,214.4 224.0,214.7 224.5,215.0 225.0,215.3 225.5,215.5 226.0,215.8 226.5,216.0 227.0,216.2 227.5,216.4 228.0,216.5 228.5,216.7 229.0,216.9 229.5,217.0 230.0,217.1 230.5,217.3 231.1,217.4 231.6,217.5 232.1,217.6 232.6,217.7 233.1,217.8 233.6,217.9 234.1,218.0 234.6,218.1 235.1,218.1 235.6,218.2 236.1,218.3 236.6,218.3 237.1,218.4 237.6,218.5 238.1,218.5 238.6,218.6 239.1,218.6 239.6,218.7 240.1,218.7 240.6,218.8 241.1,218.8 241.6,218.9 242.1,218.9 242.7,219.0 243.2,219.0 243.7,219.0 244.2,219.1 244.7,219.1 245.2,219.1 245.7,219.2 246.2,219.2 246.7,219.2 247.2,219.3 247.7,219.3 248.2,219.3 248.7,219.4 249.2,219.4 249.7,219.4 250.2,219.4 250.7,219.5 251.2,219.5 251.7,219.5 252.2,219.6 252.7,219.6 253.2,219.6 253.7,219.6 254.3,219.7 254.8,219.7 255.3,219.7 255.8,219.7 256.3,219.7 256.8,219.8 257.3,219.8 257.8,219.8 258.3,219.8 258.8,219.9 259.3,219.9 259.8,219.9" fill="none" stroke="#9a86d8" stroke-width="0.75" stroke-linejoin="round" />
<polyline points="179.1,218.6 179.6,218.6 180.1,218.6 180.6,218.6 181.1,218.6 181.6,218.6 182.1,218.6 182.6,218.6 183.1,218.6 183.6,218.6 184.1,218.6 184.6,218.6 185.2,218.6 185.7,218.6 186.2,218.6 186.7,218.6 187.2,218.6 187.7,218.6 188.2,218.6 188.7,218.6 189.2,218.6 189.7,218.6 190.2,218.6 190.7,218.6 191.2,218.6 191.7,218.6 192.2,218.6 192.7,218.6 193.2,218.6 193.7,218.6 194.2,218.6 194.7,218.6 195.2,218.6 195.7,218.6 196.2,218.5 196.8,218.5 197.3,218.4 197.8,218.3 198.3,218.2 198.8,217.9 199.3,217.6 199.8,217.2 200.3,216.6 200.8,215.8 201.3,214.8 201.8,213.5 202.3,212.0 202.8,210.2 203.3,208.2 203.8,206.0 204.3,203.6 204.8,201.2 205.3,198.9 205.8,196.7 206.3,194.8 206.8,193.2 207.3,192.2 207.8,191.7 208.4,191.9 208.9,192.5 209.4,193.5 209.9,194.7 210.4,196.0 210.9,197.3 211.4,198.6 211.9,199.8 212.4,201.0 212.9,202.2 213.4,203.3 213.9,204.3 214.4,205.3 214.9,206.1 215.4,207.0 215.9,207.8 216.4,208.5 216.9,209.2 217.4,209.8 217.9,210.4 218.4,211.0 218.9,211.5 219.4,212.0 220.0,212.5 220.5,212.9 221.0,213.3 221.5,213.7 222.0,214.0 222.5,214.3 223.0,214.6 223.5,214.9 224.0,215.2 224.5,215.4 225.0,215.7 225.5,215.9 226.0,216.1 226.5,216.3 227.0,216.5 227.5,216.6 228.0,216.8 228.5,216.9 229.0,217.1 229.5,217.2 230.0,217.3 230.5,217.5 231.1,217.6 231.6,217.7 232.1,217.8 232.6,217.9 233.1,217.9 233.6,218.0 234.1,218.1 234.6,218.2 235.1,218.3 235.6,218.3 236.1,218.4 236.6,218.5 237.1,218.5 237.6,218.6 238.1,218.6 238.6,218.7 239.1,218.7 239.6,218.8 240.1,218.8 240.6,218.9 241.1,218.9 241.6,219.0 242.1,219.0 242.7,219.0 243.2,219.1 243.7,219.1 244.2,219.1 244.7,219.2 245.2,219.2 245.7,219.2 246.2,219.3 246.7,219.3 247.2,219.3 247.7,219.4 248.2,219.4 248.7,219.4 249.2,219.5 249.7,219.5 250.2,219.5 250.7,219.5 251.2,219.6 251.7,219.6 252.2,219.6 252.7,219.6 253.2,219.7 253.7,219.7 254.3,219.7 254.8,219.7 255.3,219.7 255.8,219.8 256.3,219.8 256.8,219.8 257.3,219.8 257.8,219.9 258.3,219.9 258.8,219.9 259.3,219.9 259.8,219.9" fill="none" stroke="#6f86ee" stroke-width="0.75" stroke-linejoin="round" />
<polyline points="179.1,218.6 179.6,218.6 180.1,218.6 180.6,218.6 181.1,218.6 181.6,218.6 182.1,218.6 182.6,218.6 183.1,218.6 183.6,218.6 184.1,218.6 184.6,218.6 185.2,218.6 185.7,218.6 186.2,218.6 186.7,218.6 187.2,218.6 187.7,218.6 188.2,218.6 188.7,218.6 189.2,218.6 189.7,218.6 190.2,218.6 190.7,218.6 191.2,218.6 191.7,218.6 192.2,218.6 192.7,218.6 193.2,218.6 193.7,218.6 194.2,218.6 194.7,218.6 195.2,218.6 195.7,218.6 196.2,218.6 196.8,218.5 197.3,218.5 197.8,218.4 198.3,218.3 198.8,218.2 199.3,217.9 199.8,217.6 200.3,217.2 200.8,216.7 201.3,216.0 201.8,215.1 202.3,214.1 202.8,212.8 203.3,211.3 203.8,209.7 204.3,207.9 204.8,206.1 205.3,204.3 205.8,202.5 206.3,201.0 206.8,199.7 207.3,198.8 207.8,198.2 208.4,198.1 208.9,198.5 209.4,199.1 209.9,199.9 210.4,200.8 210.9,201.8 211.4,202.7 211.9,203.7 212.4,204.6 212.9,205.5 213.4,206.3 213.9,207.1 214.4,207.8 214.9,208.5 215.4,209.2 215.9,209.8 216.4,210.3 216.9,210.9 217.4,211.4 217.9,211.9 218.4,212.3 218.9,212.7 219.4,213.1 220.0,213.5 220.5,213.8 221.0,214.2 221.5,214.5 222.0,214.8 222.5,215.0 223.0,215.3 223.5,215.5 224.0,215.7 224.5,216.0 225.0,216.1 225.5,216.3 226.0,216.5 226.5,216.7 227.0,216.8 227.5,217.0 228.0,217.1 228.5,217.2 229.0,217.4 229.5,217.5 230.0,217.6 230.5,217.7 231.1,217.8 231.6,217.9 232.1,218.0 232.6,218.1 233.1,218.1 233.6,218.2 234.1,218.3 234.6,218.3 235.1,218.4 235.6,218.5 236.1,218.5 236.6,218.6 237.1,218.6 237.6,218.7 238.1,218.7 238.6,218.8 239.1,218.8 239.6,218.9 240.1,218.9 240.6,219.0 241.1,219.0 241.6,219.1 242.1,219.1 242.7,219.1 243.2,219.2 243.7,219.2 244.2,219.2 244.7,219.3 245.2,219.3 245.7,219.3 246.2,219.4 246.7,219.4 247.2,219.4 247.7,219.4 248.2,219.5 248.7,219.5 249.2,219.5 249.7,219.5 250.2,219.6 250.7,219.6 251.2,219.6 251.7,219.6 252.2,219.7 252.7,219.7 253.2,219.7 253.7,219.7 254.3,219.8 254.8,219.8 255.3,219.8 255.8,219.8 256.3,219.8 256.8,219.9 257.3,219.9 257.8,219.9 258.3,219.9 258.8,219.9 259.3,220.0 259.8,220.0" fill="none" stroke="#7cc6d2" stroke-width="0.75" stroke-linejoin="round" />
<polyline points="179.1,218.6 179.6,218.6 180.1,218.6 180.6,218.6 181.1,218.6 181.6,218.6 182.1,218.6 182.6,218.6 183.1,218.6 183.6,218.6 184.1,218.6 184.6,218.6 185.2,218.6 185.7,218.6 186.2,218.6 186.7,218.6 187.2,218.6 187.7,218.6 188.2,218.6 188.7,218.6 189.2,218.6 189.7,218.6 190.2,218.6 190.7,218.6 191.2,218.6 191.7,218.6 192.2,218.6 192.7,218.6 193.2,218.6 193.7,218.6 194.2,218.6 194.7,218.6 195.2,218.6 195.7,218.6 196.2,218.6 196.8,218.6 197.3,218.5 197.8,218.5 198.3,218.5 198.8,218.4 199.3,218.3 199.8,218.1 200.3,217.9 200.8,217.6 201.3,217.2 201.8,216.8 202.3,216.2 202.8,215.5 203.3,214.6 203.8,213.7 204.3,212.7 204.8,211.6 205.3,210.5 205.8,209.5 206.3,208.5 206.8,207.7 207.3,207.0 207.8,206.6 208.4,206.4 208.9,206.5 209.4,206.8 209.9,207.3 210.4,207.8 210.9,208.3 211.4,208.9 211.9,209.4 212.4,209.9 212.9,210.4 213.4,210.9 213.9,211.4 214.4,211.8 214.9,212.3 215.4,212.7 215.9,213.0 216.4,213.4 216.9,213.7 217.4,214.0 217.9,214.3 218.4,214.6 218.9,214.9 219.4,215.1 220.0,215.4 220.5,215.6 221.0,215.8 221.5,216.0 222.0,216.2 222.5,216.4 223.0,216.5 223.5,216.7 224.0,216.8 224.5,217.0 225.0,217.1 225.5,217.2 226.0,217.3 226.5,217.5 227.0,217.6 227.5,217.7 228.0,217.8 228.5,217.9 229.0,217.9 229.5,218.0 230.0,218.1 230.5,218.2 231.1,218.2 231.6,218.3 232.1,218.4 232.6,218.4 233.1,218.5 233.6,218.6 234.1,218.6 234.6,218.7 235.1,218.7 235.6,218.8 236.1,218.8 236.6,218.9 237.1,218.9 237.6,218.9 238.1,219.0 238.6,219.0 239.1,219.1 239.6,219.1 240.1,219.1 240.6,219.2 241.1,219.2 241.6,219.2 242.1,219.3 242.7,219.3 243.2,219.3 243.7,219.3 244.2,219.4 244.7,219.4 245.2,219.4 245.7,219.4 246.2,219.5 246.7,219.5 247.2,219.5 247.7,219.5 248.2,219.6 248.7,219.6 249.2,219.6 249.7,219.6 250.2,219.7 250.7,219.7 251.2,219.7 251.7,219.7 252.2,219.7 252.7,219.8 253.2,219.8 253.7,219.8 254.3,219.8 254.8,219.8 255.3,219.9 255.8,219.9 256.3,219.9 256.8,219.9 257.3,219.9 257.8,220.0 258.3,220.0 258.8,220.0 259.3,220.0 259.8,220.0" fill="none" stroke="#8ee08a" stroke-width="0.75" stroke-linejoin="round" />
<polyline points="179.1,218.6 179.6,218.6 180.1,218.6 180.6,218.6 181.1,218.6 181.6,218.6 182.1,218.6 182.6,218.6 183.1,218.6 183.6,218.6 184.1,218.6 184.6,218.6 185.2,218.6 185.7,218.6 186.2,218.6 186.7,218.6 187.2,218.6 187.7,218.6 188.2,218.6 188.7,218.6 189.2,218.6 189.7,218.6 190.2,218.6 190.7,218.6 191.2,218.6 191.7,218.6 192.2,218.6 192.7,218.6 193.2,218.6 193.7,218.6 194.2,218.6 194.7,218.6 195.2,218.6 195.7,218.6 196.2,218.6 196.8,218.6 197.3,218.6 197.8,218.6 198.3,218.6 198.8,218.5 199.3,218.5 199.8,218.4 200.3,218.4 200.8,218.3 201.3,218.1 201.8,218.0 202.3,217.7 202.8,217.5 203.3,217.1 203.8,216.8 204.3,216.3 204.8,215.9 205.3,215.4 205.8,214.9 206.3,214.5 206.8,214.0 207.3,213.7 207.8,213.4 208.4,213.3 208.9,213.2 209.4,213.3 209.9,213.4 210.4,213.6 210.9,213.8 211.4,214.0 211.9,214.2 212.4,214.5 212.9,214.7 213.4,214.9 213.9,215.1 214.4,215.3 214.9,215.5 215.4,215.6 215.9,215.8 216.4,216.0 216.9,216.1 217.4,216.3 217.9,216.4 218.4,216.6 218.9,216.7 219.4,216.8 220.0,216.9 220.5,217.1 221.0,217.2 221.5,217.3 222.0,217.4 222.5,217.5 223.0,217.6 223.5,217.6 224.0,217.7 224.5,217.8 225.0,217.9 225.5,218.0 226.0,218.0 226.5,218.1 227.0,218.2 227.5,218.2 228.0,218.3 228.5,218.3 229.0,218.4 229.5,218.5 230.0,218.5 230.5,218.6 231.1,218.6 231.6,218.7 232.1,218.7 232.6,218.7 233.1,218.8 233.6,218.8 234.1,218.9 234.6,218.9 235.1,218.9 235.6,219.0 236.1,219.0 236.6,219.0 237.1,219.1 237.6,219.1 238.1,219.1 238.6,219.2 239.1,219.2 239.6,219.2 240.1,219.3 240.6,219.3 241.1,219.3 241.6,219.3 242.1,219.4 242.7,219.4 243.2,219.4 243.7,219.4 244.2,219.5 244.7,219.5 245.2,219.5 245.7,219.5 246.2,219.6 246.7,219.6 247.2,219.6 247.7,219.6 248.2,219.6 248.7,219.7 249.2,219.7 249.7,219.7 250.2,219.7 250.7,219.7 251.2,219.8 251.7,219.8 252.2,219.8 252.7,219.8 253.2,219.8 253.7,219.9 254.3,219.9 254.8,219.9 255.3,219.9 255.8,219.9 256.3,219.9 256.8,220.0 257.3,220.0 257.8,220.0 258.3,220.0 258.8,220.0 259.3,220.1 259.8,220.1" fill="none" stroke="#f6dc78" stroke-width="0.75" stroke-linejoin="round" />
<polyline points="179.1,218.6 179.6,218.6 180.1,218.6 180.6,218.6 181.1,218.6 181.6,218.6 182.1,218.6 182.6,218.6 183.1,218.6 183.6,218.6 184.1,218.6 184.6,218.6 185.2,218.6 185.7,218.6 186.2,218.6 186.7,218.6 187.2,218.6 187.7,218.6 188.2,218.6 188.7,218.6 189.2,218.6 189.7,218.6 190.2,218.6 190.7,218.6 191.2,218.6 191.7,218.6 192.2,218.6 192.7,218.6 193.2,218.6 193.7,218.6 194.2,218.6 194.7,218.6 195.2,218.6 195.7,218.6 196.2,218.6 196.8,218.6 197.3,218.6 197.8,218.6 198.3,218.6 198.8,218.6 199.3,218.6 199.8,218.6 200.3,218.5 200.8,218.5 201.3,218.5 201.8,218.4 202.3,218.3 202.8,218.2 203.3,218.1 203.8,218.0 204.3,217.9 204.8,217.7 205.3,217.5 205.8,217.4 206.3,217.2 206.8,217.0 207.3,216.9 207.8,216.8 208.4,216.7 208.9,216.7 209.4,216.7 209.9,216.7 210.4,216.8 210.9,216.9 211.4,217.0 211.9,217.1 212.4,217.2 212.9,217.2 213.4,217.3 213.9,217.4 214.4,217.5 214.9,217.6 215.4,217.6 215.9,217.7 216.4,217.8 216.9,217.9 217.4,217.9 217.9,218.0 218.4,218.0 218.9,218.1 219.4,218.2 220.0,218.2 220.5,218.3 221.0,218.3 221.5,218.4 222.0,218.4 222.5,218.4 223.0,218.5 223.5,218.5 224.0,218.6 224.5,218.6 225.0,218.6 225.5,218.7 226.0,218.7 226.5,218.8 227.0,218.8 227.5,218.8 228.0,218.9 228.5,218.9 229.0,218.9 229.5,218.9 230.0,219.0 230.5,219.0 231.1,219.0 231.6,219.1 232.1,219.1 232.6,219.1 233.1,219.1 233.6,219.2 234.1,219.2 234.6,219.2 235.1,219.2 235.6,219.2 236.1,219.3 236.6,219.3 237.1,219.3 237.6,219.3 238.1,219.4 238.6,219.4 239.1,219.4 239.6,219.4 240.1,219.4 240.6,219.5 241.1,219.5 241.6,219.5 242.1,219.5 242.7,219.5 243.2,219.6 243.7,219.6 244.2,219.6 244.7,219.6 245.2,219.6 245.7,219.6 246.2,219.7 246.7,219.7 247.2,219.7 247.7,219.7 248.2,219.7 248.7,219.7 249.2,219.8 249.7,219.8 250.2,219.8 250.7,219.8 251.2,219.8 251.7,219.8 252.2,219.9 252.7,219.9 253.2,219.9 253.7,219.9 254.3,219.9 254.8,219.9 255.3,220.0 255.8,220.0 256.3,220.0 256.8,220.0 257.3,220.0 257.8,220.0 258.3,220.1 258.8,220.1 259.3,220.1 259.8,220.1" fill="none" stroke="#f7b47a" stroke-width="0.75" stroke-linejoin="round" />
<polyline points="179.1,218.6 179.6,218.6 180.1,218.6 180.6,218.6 181.1,218.6 181.6,218.6 182.1,218.6 182.6,218.6 183.1,218.6 183.6,218.6 184.1,218.6 184.6,218.6 185.2,218.6 185.7,218.6 186.2,218.6 186.7,218.6 187.2,218.6 187.7,218.6 188.2,218.6 188.7,218.6 189.2,218.6 189.7,218.6 190.2,218.6 190.7,218.6 191.2,218.6 191.7,218.6 192.2,218.6 192.7,218.6 193.2,218.6 193.7,218.6 194.2,218.6 194.7,218.6 195.2,218.6 195.7,218.6 196.2,218.6 196.8,218.6 197.3,218.6 197.8,218.6 198.3,218.7 198.8,218.8 199.3,219.0 199.8,219.4 200.3,220.1 200.8,221.0 201.3,222.3 201.8,224.0 202.3,225.9 202.8,228.0 203.3,229.9 203.8,231.3 204.3,232.0 204.8,231.8 205.3,230.8 205.8,229.6 206.3,228.4 206.8,227.3 207.3,226.4 207.8,225.5 208.4,224.8 208.9,224.1 209.4,223.5 209.9,223.0 210.4,222.6 210.9,222.2 211.4,221.9 211.9,221.6 212.4,221.3 212.9,221.1 213.4,220.9 213.9,220.7 214.4,220.5 214.9,220.4 215.4,220.2 215.9,220.1 216.4,220.0 216.9,219.9 217.4,219.8 217.9,219.7 218.4,219.7 218.9,219.6 219.4,219.5 220.0,219.5 220.5,219.4 221.0,219.4 221.5,219.3 222.0,219.3 222.5,219.2 223.0,219.2 223.5,219.2 224.0,219.1 224.5,219.1 225.0,219.1 225.5,219.0 226.0,219.0 226.5,219.0 227.0,219.0 227.5,218.9 228.0,218.9 228.5,218.9 229.0,218.9 229.5,218.9 230.0,218.9 230.5,218.8 231.1,218.8 231.6,218.8 232.1,218.8 232.6,218.8 233.1,218.8 233.6,218.8 234.1,218.8 234.6,218.8 235.1,218.7 235.6,218.7 236.1,218.7 236.6,218.7 237.1,218.7 237.6,218.7 238.1,218.7 238.6,218.7 239.1,218.7 239.6,218.7 240.1,218.7 240.6,218.7 241.1,218.7 241.6,218.7 242.1,218.7 242.7,218.7 243.2,218.7 243.7,218.7 244.2,218.7 244.7,218.7 245.2,218.6 245.7,218.6 246.2,218.6 246.7,218.6 247.2,218.6 247.7,218.6 248.2,218.6 248.7,218.6 249.2,218.6 249.7,218.6 250.2,218.6 250.7,218.6 251.2,218.6 251.7,218.6 252.2,218.6 252.7,218.6 253.2,218.6 253.7,218.6 254.3,218.6 254.8,218.6 255.3,218.6 255.8,218.6 256.3,218.6 256.8,218.6 257.3,218.6 257.8,218.6 258.3,218.6 258.8,218.6 259.3,218.6 259.8,218.6" fill="none" stroke="#f78282" stroke-width="0.75" stroke-linejoin="round" />
<line x1="231.60" y1="173.50" x2="240.60" y2="173.50" stroke="#c39ae6" stroke-width="1.0" />
<text x="242.20" y="175.00" font-size="4.1" text-anchor="start" fill="#333" stroke="#333" stroke-width="0.06" >0 mM</text>
<line x1="231.60" y1="178.73" x2="240.60" y2="178.73" stroke="#9a86d8" stroke-width="1.0" />
<text x="242.20" y="180.23" font-size="4.1" text-anchor="start" fill="#333" stroke="#333" stroke-width="0.06" >156 µM</text>
<line x1="231.60" y1="183.96" x2="240.60" y2="183.96" stroke="#6f86ee" stroke-width="1.0" />
<text x="242.20" y="185.46" font-size="4.1" text-anchor="start" fill="#333" stroke="#333" stroke-width="0.06" >312 µM</text>
<line x1="231.60" y1="189.19" x2="240.60" y2="189.19" stroke="#7cc6d2" stroke-width="1.0" />
<text x="242.20" y="190.69" font-size="4.1" text-anchor="start" fill="#333" stroke="#333" stroke-width="0.06" >625 µM</text>
<line x1="231.60" y1="194.42" x2="240.60" y2="194.42" stroke="#8ee08a" stroke-width="1.0" />
<text x="242.20" y="195.92" font-size="4.1" text-anchor="start" fill="#333" stroke="#333" stroke-width="0.06" >1.25 mM</text>
<line x1="231.60" y1="199.65" x2="240.60" y2="199.65" stroke="#f6dc78" stroke-width="1.0" />
<text x="242.20" y="201.15" font-size="4.1" text-anchor="start" fill="#333" stroke="#333" stroke-width="0.06" >2.5 mM</text>
<line x1="231.60" y1="204.88" x2="240.60" y2="204.88" stroke="#f7b47a" stroke-width="1.0" />
<text x="242.20" y="206.38" font-size="4.1" text-anchor="start" fill="#333" stroke="#333" stroke-width="0.06" >5 mM</text>
<line x1="231.60" y1="210.11" x2="240.60" y2="210.11" stroke="#f78282" stroke-width="1.0" />
<text x="242.20" y="211.61" font-size="4.1" text-anchor="start" fill="#333" stroke="#333" stroke-width="0.06" >10 mM</text>
<line x1="461.10" y1="173.30" x2="461.10" y2="237.60" stroke="#999" stroke-width="0.7" />
<line x1="461.10" y1="237.60" x2="541.65" y2="237.60" stroke="#999" stroke-width="0.7" />
<text x="458.50" y="239.50" font-size="6.0" text-anchor="end" fill="#222" stroke="#222" stroke-width="0.16" >-2</text>
<line x1="459.70" y1="237.30" x2="461.10" y2="237.30" stroke="#999" stroke-width="0.5" />
<text x="458.50" y="223.40" font-size="6.0" text-anchor="end" fill="#222" stroke="#222" stroke-width="0.16" >0</text>
<line x1="459.70" y1="221.20" x2="461.10" y2="221.20" stroke="#999" stroke-width="0.5" />
<text x="458.50" y="207.30" font-size="6.0" text-anchor="end" fill="#222" stroke="#222" stroke-width="0.16" >2</text>
<line x1="459.70" y1="205.10" x2="461.10" y2="205.10" stroke="#999" stroke-width="0.5" />
<text x="458.50" y="191.20" font-size="6.0" text-anchor="end" fill="#222" stroke="#222" stroke-width="0.16" >4</text>
<line x1="459.70" y1="189.00" x2="461.10" y2="189.00" stroke="#999" stroke-width="0.5" />
<text x="458.50" y="175.10" font-size="6.0" text-anchor="end" fill="#222" stroke="#222" stroke-width="0.16" >6</text>
<line x1="459.70" y1="172.90" x2="461.10" y2="172.90" stroke="#999" stroke-width="0.5" />
<line x1="460.20" y1="229.25" x2="461.10" y2="229.25" stroke="#999" stroke-width="0.4" />
<line x1="460.20" y1="213.15" x2="461.10" y2="213.15" stroke="#999" stroke-width="0.4" />
<line x1="460.20" y1="197.05" x2="461.10" y2="197.05" stroke="#999" stroke-width="0.4" />
<line x1="460.20" y1="180.95" x2="461.10" y2="180.95" stroke="#999" stroke-width="0.4" />
<text x="461.10" y="244.90" font-size="6.0" text-anchor="middle" fill="#222" stroke="#222" stroke-width="0.16" >1.25</text>
<line x1="461.10" y1="237.60" x2="461.10" y2="239.00" stroke="#999" stroke-width="0.5" />
<text x="487.95" y="244.90" font-size="6.0" text-anchor="middle" fill="#222" stroke="#222" stroke-width="0.16" >1.30</text>
<line x1="487.95" y1="237.60" x2="487.95" y2="239.00" stroke="#999" stroke-width="0.5" />
<text x="514.80" y="244.90" font-size="6.0" text-anchor="middle" fill="#222" stroke="#222" stroke-width="0.16" >1.35</text>
<line x1="514.80" y1="237.60" x2="514.80" y2="239.00" stroke="#999" stroke-width="0.5" />
<text x="541.65" y="244.90" font-size="6.0" text-anchor="middle" fill="#222" stroke="#222" stroke-width="0.16" >1.40</text>
<line x1="541.65" y1="237.60" x2="541.65" y2="239.00" stroke="#999" stroke-width="0.5" />
<text x="501.40" y="250.20" font-size="6.0" text-anchor="middle" fill="#222" stroke="#222" stroke-width="0.16" >time [s]</text>
<text x="0.00" y="0.00" font-size="6.3" text-anchor="middle" fill="#222" stroke="#222" stroke-width="0.16" transform="translate(452.3,205.8) rotate(-90)">current [nA]</text>
<polyline points="461.1,221.2 461.6,221.2 462.1,221.2 462.6,221.2 463.1,221.2 463.6,221.2 464.1,221.2 464.6,221.2 465.1,221.2 465.6,221.2 466.1,221.2 466.6,221.2 467.1,221.2 467.6,221.2 468.1,221.2 468.7,221.2 469.2,221.2 469.7,221.2 470.2,221.2 470.7,221.2 471.2,221.2 471.7,221.2 472.2,221.2 472.7,221.2 473.2,221.2 473.7,221.2 474.2,221.2 474.7,221.2 475.2,221.1 475.7,221.1 476.2,220.9 476.7,220.8 477.2,220.5 477.7,220.0 478.2,219.3 478.7,218.4 479.2,217.1 479.7,215.3 480.2,213.1 480.7,210.3 481.2,207.0 481.7,203.2 482.2,199.2 482.7,195.0 483.3,190.9 483.8,187.3 484.3,184.3 484.8,182.3 485.3,181.4 485.8,181.6 486.3,182.4 486.8,183.6 487.3,185.1 487.8,186.7 488.3,188.3 488.8,189.9 489.3,191.5 489.8,193.0 490.3,194.4 490.8,195.8 491.3,197.1 491.8,198.3 492.3,199.5 492.8,200.6 493.3,201.7 493.8,202.7 494.3,203.6 494.8,204.5 495.3,205.4 495.8,206.2 496.3,207.0 496.8,207.7 497.3,208.4 497.9,209.0 498.4,209.7 498.9,210.2 499.4,210.8 499.9,211.3 500.4,211.8 500.9,212.3 501.4,212.7 501.9,213.1 502.4,213.5 502.9,213.9 503.4,214.3 503.9,214.6 504.4,215.0 504.9,215.3 505.4,215.6 505.9,215.8 506.4,216.1 506.9,216.3 507.4,216.6 507.9,216.8 508.4,217.0 508.9,217.2 509.4,217.4 509.9,217.6 510.4,217.8 510.9,217.9 511.4,218.1 511.9,218.2 512.5,218.4 513.0,218.5 513.5,218.7 514.0,218.8 514.5,218.9 515.0,219.0 515.5,219.1 516.0,219.2 516.5,219.3 517.0,219.4 517.5,219.5 518.0,219.6 518.5,219.7 519.0,219.8 519.5,219.8 520.0,219.9 520.5,220.0 521.0,220.1 521.5,220.1 522.0,220.2 522.5,220.2 523.0,220.3 523.5,220.4 524.0,220.4 524.5,220.5 525.0,220.5 525.5,220.6 526.0,220.6 526.5,220.6 527.1,220.7 527.6,220.7 528.1,220.8 528.6,220.8 529.1,220.8 529.6,220.9 530.1,220.9 530.6,221.0 531.1,221.0 531.6,221.0 532.1,221.0 532.6,221.1 533.1,221.1 533.6,221.1 534.1,221.2 534.6,221.2 535.1,221.2 535.6,221.2 536.1,221.3 536.6,221.3 537.1,221.3 537.6,221.3 538.1,221.4 538.6,221.4 539.1,221.4 539.6,221.4 540.1,221.5 540.6,221.5 541.1,221.5 541.6,221.5" fill="none" stroke="#c49ae8" stroke-width="0.75" stroke-linejoin="round" />
<polyline points="461.1,221.2 461.6,221.2 462.1,221.2 462.6,221.2 463.1,221.2 463.6,221.2 464.1,221.2 464.6,221.2 465.1,221.2 465.6,221.2 466.1,221.2 466.6,221.2 467.1,221.2 467.6,221.2 468.1,221.2 468.7,221.2 469.2,221.2 469.7,221.2 470.2,221.2 470.7,221.2 471.2,221.2 471.7,221.2 472.2,221.2 472.7,221.2 473.2,221.2 473.7,221.2 474.2,221.2 474.7,221.2 475.2,221.1 475.7,221.1 476.2,221.0 476.7,220.8 477.2,220.6 477.7,220.2 478.2,219.7 478.7,218.8 479.2,217.7 479.7,216.1 480.2,214.1 480.7,211.5 481.2,208.5 481.7,204.9 482.2,201.0 482.7,196.9 483.3,192.8 483.8,189.0 484.3,185.8 484.8,183.4 485.3,182.0 485.8,181.8 486.3,182.4 486.8,183.4 487.3,184.8 487.8,186.3 488.3,187.9 488.8,189.4 489.3,190.9 489.8,192.4 490.3,193.8 490.8,195.1 491.3,196.4 491.8,197.7 492.3,198.9 492.8,200.0 493.3,201.0 493.8,202.0 494.3,203.0 494.8,203.9 495.3,204.8 495.8,205.6 496.3,206.4 496.8,207.1 497.3,207.8 497.9,208.5 498.4,209.1 498.9,209.7 499.4,210.3 499.9,210.8 500.4,211.3 500.9,211.8 501.4,212.3 501.9,212.7 502.4,213.1 502.9,213.5 503.4,213.9 503.9,214.2 504.4,214.6 504.9,214.9 505.4,215.2 505.9,215.5 506.4,215.8 506.9,216.0 507.4,216.3 507.9,216.5 508.4,216.7 508.9,216.9 509.4,217.1 509.9,217.3 510.4,217.5 510.9,217.7 511.4,217.9 511.9,218.0 512.5,218.2 513.0,218.3 513.5,218.5 514.0,218.6 514.5,218.7 515.0,218.8 515.5,219.0 516.0,219.1 516.5,219.2 517.0,219.3 517.5,219.4 518.0,219.5 518.5,219.6 519.0,219.6 519.5,219.7 520.0,219.8 520.5,219.9 521.0,219.9 521.5,220.0 522.0,220.1 522.5,220.1 523.0,220.2 523.5,220.3 524.0,220.3 524.5,220.4 525.0,220.4 525.5,220.5 526.0,220.5 526.5,220.6 527.1,220.6 527.6,220.7 528.1,220.7 528.6,220.8 529.1,220.8 529.6,220.8 530.1,220.9 530.6,220.9 531.1,220.9 531.6,221.0 532.1,221.0 532.6,221.0 533.1,221.1 533.6,221.1 534.1,221.1 534.6,221.2 535.1,221.2 535.6,221.2 536.1,221.2 536.6,221.3 537.1,221.3 537.6,221.3 538.1,221.3 538.6,221.4 539.1,221.4 539.6,221.4 540.1,221.4 540.6,221.5 541.1,221.5 541.6,221.5" fill="none" stroke="#a08ae0" stroke-width="0.75" stroke-linejoin="round" />
<polyline points="461.1,221.2 461.6,221.2 462.1,221.2 462.6,221.2 463.1,221.2 463.6,221.2 464.1,221.2 464.6,221.2 465.1,221.2 465.6,221.2 466.1,221.2 466.6,221.2 467.1,221.2 467.6,221.2 468.1,221.2 468.7,221.2 469.2,221.2 469.7,221.2 470.2,221.2 470.7,221.2 471.2,221.2 471.7,221.2 472.2,221.2 472.7,221.2 473.2,221.2 473.7,221.2 474.2,221.2 474.7,221.2 475.2,221.2 475.7,221.1 476.2,221.1 476.7,221.0 477.2,220.8 477.7,220.6 478.2,220.2 478.7,219.6 479.2,218.8 479.7,217.7 480.2,216.3 480.7,214.4 481.2,212.0 481.7,209.1 482.2,205.9 482.7,202.2 483.3,198.4 483.8,194.5 484.3,190.9 484.8,187.7 485.3,185.2 485.8,183.6 486.3,183.0 486.8,183.2 487.3,183.9 487.8,184.9 488.3,186.1 488.8,187.3 489.3,188.6 489.8,189.9 490.3,191.1 490.8,192.3 491.3,193.5 491.8,194.6 492.3,195.7 492.8,196.7 493.3,197.7 493.8,198.7 494.3,199.6 494.8,200.5 495.3,201.4 495.8,202.2 496.3,203.0 496.8,203.7 497.3,204.4 497.9,205.1 498.4,205.8 498.9,206.4 499.4,207.1 499.9,207.6 500.4,208.2 500.9,208.7 501.4,209.3 501.9,209.8 502.4,210.2 502.9,210.7 503.4,211.1 503.9,211.5 504.4,211.9 504.9,212.3 505.4,212.7 505.9,213.0 506.4,213.4 506.9,213.7 507.4,214.0 507.9,214.3 508.4,214.6 508.9,214.9 509.4,215.1 509.9,215.4 510.4,215.6 510.9,215.9 511.4,216.1 511.9,216.3 512.5,216.5 513.0,216.7 513.5,216.9 514.0,217.1 514.5,217.3 515.0,217.4 515.5,217.6 516.0,217.8 516.5,217.9 517.0,218.0 517.5,218.2 518.0,218.3 518.5,218.4 519.0,218.6 519.5,218.7 520.0,218.8 520.5,218.9 521.0,219.0 521.5,219.1 522.0,219.2 522.5,219.3 523.0,219.4 523.5,219.5 524.0,219.6 524.5,219.7 525.0,219.7 525.5,219.8 526.0,219.9 526.5,220.0 527.1,220.0 527.6,220.1 528.1,220.2 528.6,220.2 529.1,220.3 529.6,220.3 530.1,220.4 530.6,220.5 531.1,220.5 531.6,220.6 532.1,220.6 532.6,220.7 533.1,220.7 533.6,220.8 534.1,220.8 534.6,220.8 535.1,220.9 535.6,220.9 536.1,221.0 536.6,221.0 537.1,221.0 537.6,221.1 538.1,221.1 538.6,221.1 539.1,221.2 539.6,221.2 540.1,221.2 540.6,221.3 541.1,221.3 541.6,221.3" fill="none" stroke="#7070f0" stroke-width="0.75" stroke-linejoin="round" />
<polyline points="461.1,221.2 461.6,221.2 462.1,221.2 462.6,221.2 463.1,221.2 463.6,221.2 464.1,221.2 464.6,221.2 465.1,221.2 465.6,221.2 466.1,221.2 466.6,221.2 467.1,221.2 467.6,221.2 468.1,221.2 468.7,221.2 469.2,221.2 469.7,221.2 470.2,221.2 470.7,221.2 471.2,221.2 471.7,221.2 472.2,221.2 472.7,221.2 473.2,221.2 473.7,221.2 474.2,221.2 474.7,221.2 475.2,221.2 475.7,221.1 476.2,221.1 476.7,221.0 477.2,220.8 477.7,220.6 478.2,220.2 478.7,219.6 479.2,218.8 479.7,217.7 480.2,216.2 480.7,214.4 481.2,212.1 481.7,209.4 482.2,206.4 482.7,203.2 483.3,199.9 483.8,196.7 484.3,193.9 484.8,191.8 485.3,190.3 485.8,189.8 486.3,190.1 486.8,190.9 487.3,192.0 487.8,193.2 488.3,194.5 488.8,195.9 489.3,197.2 489.8,198.4 490.3,199.6 490.8,200.8 491.3,201.9 491.8,202.9 492.3,203.9 492.8,204.8 493.3,205.7 493.8,206.6 494.3,207.4 494.8,208.1 495.3,208.8 495.8,209.5 496.3,210.1 496.8,210.7 497.3,211.2 497.9,211.8 498.4,212.3 498.9,212.7 499.4,213.2 499.9,213.6 500.4,214.0 500.9,214.4 501.4,214.7 501.9,215.0 502.4,215.4 502.9,215.7 503.4,215.9 503.9,216.2 504.4,216.4 504.9,216.7 505.4,216.9 505.9,217.1 506.4,217.3 506.9,217.5 507.4,217.7 507.9,217.9 508.4,218.0 508.9,218.2 509.4,218.3 509.9,218.4 510.4,218.6 510.9,218.7 511.4,218.8 511.9,218.9 512.5,219.0 513.0,219.1 513.5,219.2 514.0,219.3 514.5,219.4 515.0,219.5 515.5,219.6 516.0,219.6 516.5,219.7 517.0,219.8 517.5,219.8 518.0,219.9 518.5,220.0 519.0,220.0 519.5,220.1 520.0,220.1 520.5,220.2 521.0,220.2 521.5,220.3 522.0,220.3 522.5,220.4 523.0,220.4 523.5,220.4 524.0,220.5 524.5,220.5 525.0,220.5 525.5,220.6 526.0,220.6 526.5,220.6 527.1,220.7 527.6,220.7 528.1,220.7 528.6,220.7 529.1,220.8 529.6,220.8 530.1,220.8 530.6,220.8 531.1,220.9 531.6,220.9 532.1,220.9 532.6,220.9 533.1,221.0 533.6,221.0 534.1,221.0 534.6,221.0 535.1,221.0 535.6,221.0 536.1,221.1 536.6,221.1 537.1,221.1 537.6,221.1 538.1,221.1 538.6,221.1 539.1,221.2 539.6,221.2 540.1,221.2 540.6,221.2 541.1,221.2 541.6,221.2" fill="none" stroke="#6cd08a" stroke-width="0.75" stroke-linejoin="round" />
<polyline points="461.1,221.2 461.6,221.2 462.1,221.2 462.6,221.2 463.1,221.2 463.6,221.2 464.1,221.2 464.6,221.2 465.1,221.2 465.6,221.2 466.1,221.2 466.6,221.2 467.1,221.2 467.6,221.2 468.1,221.2 468.7,221.2 469.2,221.2 469.7,221.2 470.2,221.2 470.7,221.2 471.2,221.2 471.7,221.2 472.2,221.2 472.7,221.2 473.2,221.2 473.7,221.2 474.2,221.2 474.7,221.2 475.2,221.2 475.7,221.2 476.2,221.2 476.7,221.1 477.2,221.1 477.7,221.0 478.2,220.9 478.7,220.6 479.2,220.3 479.7,219.8 480.2,219.1 480.7,218.2 481.2,216.9 481.7,215.3 482.2,213.3 482.7,211.0 483.3,208.4 483.8,205.7 484.3,202.8 484.8,200.1 485.3,197.8 485.8,195.9 486.3,194.7 486.8,194.2 487.3,194.5 487.8,195.1 488.3,196.0 488.8,197.1 489.3,198.2 489.8,199.3 490.3,200.4 490.8,201.4 491.3,202.5 491.8,203.4 492.3,204.3 492.8,205.2 493.3,206.0 493.8,206.8 494.3,207.5 494.8,208.2 495.3,208.9 495.8,209.5 496.3,210.1 496.8,210.7 497.3,211.2 497.9,211.7 498.4,212.1 498.9,212.6 499.4,213.0 499.9,213.4 500.4,213.7 500.9,214.1 501.4,214.4 501.9,214.7 502.4,215.0 502.9,215.3 503.4,215.6 503.9,215.8 504.4,216.0 504.9,216.3 505.4,216.5 505.9,216.7 506.4,216.8 506.9,217.0 507.4,217.2 507.9,217.3 508.4,217.5 508.9,217.6 509.4,217.8 509.9,217.9 510.4,218.0 510.9,218.1 511.4,218.2 511.9,218.3 512.5,218.4 513.0,218.5 513.5,218.6 514.0,218.7 514.5,218.7 515.0,218.8 515.5,218.9 516.0,219.0 516.5,219.0 517.0,219.1 517.5,219.1 518.0,219.2 518.5,219.2 519.0,219.3 519.5,219.3 520.0,219.4 520.5,219.4 521.0,219.5 521.5,219.5 522.0,219.5 522.5,219.6 523.0,219.6 523.5,219.6 524.0,219.7 524.5,219.7 525.0,219.7 525.5,219.8 526.0,219.8 526.5,219.8 527.1,219.8 527.6,219.8 528.1,219.9 528.6,219.9 529.1,219.9 529.6,219.9 530.1,219.9 530.6,220.0 531.1,220.0 531.6,220.0 532.1,220.0 532.6,220.0 533.1,220.0 533.6,220.1 534.1,220.1 534.6,220.1 535.1,220.1 535.6,220.1 536.1,220.1 536.6,220.1 537.1,220.1 537.6,220.1 538.1,220.2 538.6,220.2 539.1,220.2 539.6,220.2 540.1,220.2 540.6,220.2 541.1,220.2 541.6,220.2" fill="none" stroke="#f4ee6a" stroke-width="0.75" stroke-linejoin="round" />
<polyline points="461.1,221.2 461.6,221.2 462.1,221.2 462.6,221.2 463.1,221.2 463.6,221.2 464.1,221.2 464.6,221.2 465.1,221.2 465.6,221.2 466.1,221.2 466.6,221.2 467.1,221.2 467.6,221.2 468.1,221.2 468.7,221.2 469.2,221.2 469.7,221.2 470.2,221.2 470.7,221.2 471.2,221.2 471.7,221.2 472.2,221.2 472.7,221.2 473.2,221.2 473.7,221.2 474.2,221.2 474.7,221.2 475.2,221.2 475.7,221.2 476.2,221.2 476.7,221.2 477.2,221.2 477.7,221.2 478.2,221.2 478.7,221.2 479.2,221.1 479.7,221.1 480.2,221.1 480.7,221.0 481.2,220.9 481.7,220.7 482.2,220.5 482.7,220.2 483.3,219.8 483.8,219.3 484.3,218.7 484.8,218.0 485.3,217.2 485.8,216.3 486.3,215.3 486.8,214.4 487.3,213.5 487.8,212.6 488.3,212.0 488.8,211.5 489.3,211.2 489.8,211.1 490.3,211.2 490.8,211.3 491.3,211.5 491.8,211.7 492.3,211.9 492.8,212.2 493.3,212.5 493.8,212.7 494.3,213.0 494.8,213.3 495.3,213.5 495.8,213.8 496.3,214.1 496.8,214.3 497.3,214.6 497.9,214.8 498.4,215.0 498.9,215.3 499.4,215.5 499.9,215.7 500.4,215.9 500.9,216.1 501.4,216.3 501.9,216.5 502.4,216.6 502.9,216.8 503.4,217.0 503.9,217.1 504.4,217.3 504.9,217.4 505.4,217.6 505.9,217.7 506.4,217.8 506.9,217.9 507.4,218.1 507.9,218.2 508.4,218.3 508.9,218.4 509.4,218.5 509.9,218.6 510.4,218.7 510.9,218.8 511.4,218.9 511.9,219.0 512.5,219.0 513.0,219.1 513.5,219.2 514.0,219.3 514.5,219.3 515.0,219.4 515.5,219.5 516.0,219.5 516.5,219.6 517.0,219.7 517.5,219.7 518.0,219.8 518.5,219.8 519.0,219.9 519.5,219.9 520.0,220.0 520.5,220.0 521.0,220.0 521.5,220.1 522.0,220.1 522.5,220.2 523.0,220.2 523.5,220.2 524.0,220.3 524.5,220.3 525.0,220.3 525.5,220.4 526.0,220.4 526.5,220.4 527.1,220.4 527.6,220.5 528.1,220.5 528.6,220.5 529.1,220.5 529.6,220.6 530.1,220.6 530.6,220.6 531.1,220.6 531.6,220.6 532.1,220.7 532.6,220.7 533.1,220.7 533.6,220.7 534.1,220.7 534.6,220.7 535.1,220.8 535.6,220.8 536.1,220.8 536.6,220.8 537.1,220.8 537.6,220.8 538.1,220.8 538.6,220.8 539.1,220.9 539.6,220.9 540.1,220.9 540.6,220.9 541.1,220.9 541.6,220.9" fill="none" stroke="#f7b47a" stroke-width="0.75" stroke-linejoin="round" />
<polyline points="461.1,221.2 461.6,221.2 462.1,221.2 462.6,221.2 463.1,221.2 463.6,221.2 464.1,221.2 464.6,221.2 465.1,221.2 465.6,221.2 466.1,221.2 466.6,221.2 467.1,221.2 467.6,221.2 468.1,221.2 468.7,221.2 469.2,221.2 469.7,221.2 470.2,221.2 470.7,221.2 471.2,221.2 471.7,221.2 472.2,221.2 472.7,221.2 473.2,221.2 473.7,221.2 474.2,221.2 474.7,221.2 475.2,221.2 475.7,221.2 476.2,221.2 476.7,221.2 477.2,221.2 477.7,221.3 478.2,221.4 478.7,221.6 479.2,222.0 479.7,222.6 480.2,223.6 480.7,225.0 481.2,226.7 481.7,228.6 482.2,230.4 482.7,231.8 483.3,232.4 483.8,232.3 484.3,231.5 484.8,230.5 485.3,229.6 485.8,228.8 486.3,228.0 486.8,227.4 487.3,226.8 487.8,226.3 488.3,225.9 488.8,225.5 489.3,225.2 489.8,224.9 490.3,224.6 490.8,224.4 491.3,224.2 491.8,224.0 492.3,223.9 492.8,223.7 493.3,223.6 493.8,223.5 494.3,223.4 494.8,223.3 495.3,223.2 495.8,223.1 496.3,223.1 496.8,223.0 497.3,222.9 497.9,222.9 498.4,222.8 498.9,222.8 499.4,222.7 499.9,222.7 500.4,222.6 500.9,222.6 501.4,222.5 501.9,222.5 502.4,222.4 502.9,222.4 503.4,222.4 503.9,222.3 504.4,222.3 504.9,222.3 505.4,222.2 505.9,222.2 506.4,222.2 506.9,222.2 507.4,222.1 507.9,222.1 508.4,222.1 508.9,222.1 509.4,222.0 509.9,222.0 510.4,222.0 510.9,222.0 511.4,221.9 511.9,221.9 512.5,221.9 513.0,221.9 513.5,221.9 514.0,221.8 514.5,221.8 515.0,221.8 515.5,221.8 516.0,221.8 516.5,221.8 517.0,221.7 517.5,221.7 518.0,221.7 518.5,221.7 519.0,221.7 519.5,221.7 520.0,221.7 520.5,221.6 521.0,221.6 521.5,221.6 522.0,221.6 522.5,221.6 523.0,221.6 523.5,221.6 524.0,221.6 524.5,221.6 525.0,221.5 525.5,221.5 526.0,221.5 526.5,221.5 527.1,221.5 527.6,221.5 528.1,221.5 528.6,221.5 529.1,221.5 529.6,221.5 530.1,221.5 530.6,221.5 531.1,221.4 531.6,221.4 532.1,221.4 532.6,221.4 533.1,221.4 533.6,221.4 534.1,221.4 534.6,221.4 535.1,221.4 535.6,221.4 536.1,221.4 536.6,221.4 537.1,221.4 537.6,221.4 538.1,221.4 538.6,221.4 539.1,221.4 539.6,221.4 540.1,221.4 540.6,221.3 541.1,221.3 541.6,221.3" fill="none" stroke="#f78282" stroke-width="0.75" stroke-linejoin="round" />
<line x1="508.90" y1="176.20" x2="517.90" y2="176.20" stroke="#c49ae8" stroke-width="1.0" />
<text x="519.50" y="177.70" font-size="4.1" text-anchor="start" fill="#333" stroke="#333" stroke-width="0.06" >0 µM</text>
<line x1="508.90" y1="181.45" x2="517.90" y2="181.45" stroke="#a08ae0" stroke-width="1.0" />
<text x="519.50" y="182.95" font-size="4.1" text-anchor="start" fill="#333" stroke="#333" stroke-width="0.06" >3 µM</text>
<line x1="508.90" y1="186.70" x2="517.90" y2="186.70" stroke="#7070f0" stroke-width="1.0" />
<text x="519.50" y="188.20" font-size="4.1" text-anchor="start" fill="#333" stroke="#333" stroke-width="0.06" >17 µM</text>
<line x1="508.90" y1="191.95" x2="517.90" y2="191.95" stroke="#6cd08a" stroke-width="1.0" />
<text x="519.50" y="193.45" font-size="4.1" text-anchor="start" fill="#333" stroke="#333" stroke-width="0.06" >80 µM</text>
<line x1="508.90" y1="197.20" x2="517.90" y2="197.20" stroke="#f4ee6a" stroke-width="1.0" />
<text x="519.50" y="198.70" font-size="4.1" text-anchor="start" fill="#333" stroke="#333" stroke-width="0.06" >0.4 mM</text>
<line x1="508.90" y1="202.45" x2="517.90" y2="202.45" stroke="#f7b47a" stroke-width="1.0" />
<text x="519.50" y="203.95" font-size="4.1" text-anchor="start" fill="#333" stroke="#333" stroke-width="0.06" >2 mM</text>
<line x1="508.90" y1="207.70" x2="517.90" y2="207.70" stroke="#f78282" stroke-width="1.0" />
<text x="519.50" y="209.20" font-size="4.1" text-anchor="start" fill="#333" stroke="#333" stroke-width="0.06" >10 mM</text>
<line x1="179.00" y1="322.50" x2="179.00" y2="388.80" stroke="#999" stroke-width="0.7" />
<line x1="179.00" y1="388.80" x2="259.25" y2="388.80" stroke="#999" stroke-width="0.7" />
<text x="176.40" y="381.10" font-size="6.0" text-anchor="end" fill="#222" stroke="#222" stroke-width="0.16" >0</text>
<line x1="177.60" y1="378.90" x2="179.00" y2="378.90" stroke="#999" stroke-width="0.5" />
<text x="176.40" y="362.70" font-size="6.0" text-anchor="end" fill="#222" stroke="#222" stroke-width="0.16" >2</text>
<line x1="177.60" y1="360.50" x2="179.00" y2="360.50" stroke="#999" stroke-width="0.5" />
<text x="176.40" y="344.30" font-size="6.0" text-anchor="end" fill="#222" stroke="#222" stroke-width="0.16" >4</text>
<line x1="177.60" y1="342.10" x2="179.00" y2="342.10" stroke="#999" stroke-width="0.5" />
<text x="176.40" y="325.90" font-size="6.0" text-anchor="end" fill="#222" stroke="#222" stroke-width="0.16" >6</text>
<line x1="177.60" y1="323.70" x2="179.00" y2="323.70" stroke="#999" stroke-width="0.5" />
<line x1="178.10" y1="369.70" x2="179.00" y2="369.70" stroke="#999" stroke-width="0.4" />
<line x1="178.10" y1="351.30" x2="179.00" y2="351.30" stroke="#999" stroke-width="0.4" />
<line x1="178.10" y1="332.90" x2="179.00" y2="332.90" stroke="#999" stroke-width="0.4" />
<text x="179.00" y="396.10" font-size="6.0" text-anchor="middle" fill="#222" stroke="#222" stroke-width="0.16" >1.25</text>
<line x1="179.00" y1="388.80" x2="179.00" y2="390.20" stroke="#999" stroke-width="0.5" />
<text x="205.75" y="396.10" font-size="6.0" text-anchor="middle" fill="#222" stroke="#222" stroke-width="0.16" >1.30</text>
<line x1="205.75" y1="388.80" x2="205.75" y2="390.20" stroke="#999" stroke-width="0.5" />
<text x="232.50" y="396.10" font-size="6.0" text-anchor="middle" fill="#222" stroke="#222" stroke-width="0.16" >1.35</text>
<line x1="232.50" y1="388.80" x2="232.50" y2="390.20" stroke="#999" stroke-width="0.5" />
<text x="259.25" y="396.10" font-size="6.0" text-anchor="middle" fill="#222" stroke="#222" stroke-width="0.16" >1.40</text>
<line x1="259.25" y1="388.80" x2="259.25" y2="390.20" stroke="#999" stroke-width="0.5" />
<text x="219.40" y="401.20" font-size="6.0" text-anchor="middle" fill="#222" stroke="#222" stroke-width="0.16" >time [s]</text>
<text x="0.00" y="0.00" font-size="6.3" text-anchor="middle" fill="#222" stroke="#222" stroke-width="0.16" transform="translate(170.10000000000002,359.0) rotate(-90)">current [nA]</text>
<polyline points="179.0,378.9 179.5,378.9 180.0,378.9 180.5,378.9 181.0,378.9 181.5,378.9 182.0,378.9 182.5,378.9 183.0,378.9 183.5,378.9 184.0,378.9 184.5,378.9 185.0,378.9 185.5,378.9 186.0,378.9 186.5,378.9 187.0,378.9 187.5,378.9 188.0,378.9 188.5,378.9 189.0,378.9 189.5,378.9 190.0,378.9 190.5,378.9 191.0,378.8 191.5,378.8 192.0,378.7 192.5,378.5 193.0,378.3 193.5,377.8 194.0,377.2 194.5,376.2 195.0,374.9 195.6,373.0 196.1,370.5 196.6,367.3 197.1,363.4 197.6,358.9 198.1,353.9 198.6,348.7 199.1,343.5 199.6,338.7 200.1,334.7 200.6,331.8 201.1,330.3 201.6,330.2 202.1,330.7 202.6,331.5 203.1,332.3 203.6,333.2 204.1,334.1 204.6,335.0 205.1,336.0 205.6,337.0 206.1,338.0 206.6,339.0 207.1,339.9 207.6,340.9 208.1,341.9 208.6,342.9 209.1,343.8 209.6,344.8 210.1,345.7 210.6,346.6 211.1,347.5 211.6,348.4 212.1,349.3 212.6,350.2 213.1,351.0 213.6,351.8 214.1,352.6 214.6,353.4 215.1,354.2 215.6,354.9 216.1,355.7 216.6,356.4 217.1,357.1 217.6,357.8 218.1,358.4 218.6,359.1 219.1,359.7 219.6,360.3 220.1,360.9 220.6,361.5 221.1,362.0 221.6,362.6 222.1,363.1 222.6,363.6 223.1,364.1 223.6,364.6 224.1,365.0 224.6,365.5 225.1,365.9 225.6,366.4 226.1,366.8 226.6,367.2 227.1,367.5 227.7,367.9 228.2,368.3 228.7,368.6 229.2,369.0 229.7,369.3 230.2,369.6 230.7,369.9 231.2,370.2 231.7,370.5 232.2,370.8 232.7,371.0 233.2,371.3 233.7,371.5 234.2,371.8 234.7,372.0 235.2,372.2 235.7,372.4 236.2,372.6 236.7,372.8 237.2,373.0 237.7,373.2 238.2,373.4 238.7,373.6 239.2,373.7 239.7,373.9 240.2,374.0 240.7,374.2 241.2,374.3 241.7,374.5 242.2,374.6 242.7,374.7 243.2,374.9 243.7,375.0 244.2,375.1 244.7,375.2 245.2,375.3 245.7,375.4 246.2,375.5 246.7,375.6 247.2,375.7 247.7,375.8 248.2,375.9 248.7,376.0 249.2,376.0 249.7,376.1 250.2,376.2 250.7,376.3 251.2,376.3 251.7,376.4 252.2,376.5 252.7,376.5 253.2,376.6 253.7,376.6 254.2,376.7 254.7,376.7 255.2,376.8 255.7,376.8 256.2,376.9 256.7,376.9 257.2,377.0 257.7,377.0 258.2,377.1 258.7,377.1 259.2,377.1" fill="none" stroke="#f6c070" stroke-width="0.75" stroke-linejoin="round" />
<polyline points="179.0,378.9 179.5,378.9 180.0,378.9 180.5,378.9 181.0,378.9 181.5,378.9 182.0,378.9 182.5,378.9 183.0,378.9 183.5,378.9 184.0,378.9 184.5,378.9 185.0,378.9 185.5,378.9 186.0,378.9 186.5,378.9 187.0,378.9 187.5,378.9 188.0,378.9 188.5,378.9 189.0,378.9 189.5,378.9 190.0,378.9 190.5,378.9 191.0,378.8 191.5,378.8 192.0,378.7 192.5,378.6 193.0,378.3 193.5,377.9 194.0,377.4 194.5,376.5 195.0,375.4 195.6,373.9 196.1,372.0 196.6,369.7 197.1,367.1 197.6,364.2 198.1,361.2 198.6,358.3 199.1,355.7 199.6,353.8 200.1,352.6 200.6,352.2 201.1,352.8 201.6,353.9 202.1,355.1 202.6,356.4 203.1,357.7 203.6,359.1 204.1,360.4 204.6,361.6 205.1,362.9 205.6,364.0 206.1,365.1 206.6,366.2 207.1,367.2 207.6,368.2 208.1,369.0 208.6,369.9 209.1,370.7 209.6,371.4 210.1,372.1 210.6,372.7 211.1,373.3 211.6,373.8 212.1,374.3 212.6,374.8 213.1,375.2 213.6,375.6 214.1,376.0 214.6,376.3 215.1,376.6 215.6,376.9 216.1,377.2 216.6,377.4 217.1,377.7 217.6,377.9 218.1,378.0 218.6,378.2 219.1,378.4 219.6,378.5 220.1,378.7 220.6,378.8 221.1,378.9 221.6,379.0 222.1,379.1 222.6,379.2 223.1,379.3 223.6,379.3 224.1,379.4 224.6,379.5 225.1,379.5 225.6,379.6 226.1,379.6 226.6,379.7 227.1,379.7 227.7,379.8 228.2,379.8 228.7,379.9 229.2,379.9 229.7,379.9 230.2,380.0 230.7,380.0 231.2,380.0 231.7,380.0 232.2,380.1 232.7,380.1 233.2,380.1 233.7,380.2 234.2,380.2 234.7,380.2 235.2,380.2 235.7,380.3 236.2,380.3 236.7,380.3 237.2,380.3 237.7,380.3 238.2,380.4 238.7,380.4 239.2,380.4 239.7,380.4 240.2,380.5 240.7,380.5 241.2,380.5 241.7,380.5 242.2,380.5 242.7,380.6 243.2,380.6 243.7,380.6 244.2,380.6 244.7,380.6 245.2,380.7 245.7,380.7 246.2,380.7 246.7,380.7 247.2,380.7 247.7,380.8 248.2,380.8 248.7,380.8 249.2,380.8 249.7,380.8 250.2,380.9 250.7,380.9 251.2,380.9 251.7,380.9 252.2,380.9 252.7,381.0 253.2,381.0 253.7,381.0 254.2,381.0 254.7,381.0 255.2,381.1 255.7,381.1 256.2,381.1 256.7,381.1 257.2,381.1 257.7,381.2 258.2,381.2 258.7,381.2 259.2,381.2" fill="none" stroke="#b88ee6" stroke-width="0.75" stroke-linejoin="round" />
<polyline points="179.0,378.9 179.5,378.9 180.0,378.9 180.5,378.9 181.0,378.9 181.5,378.9 182.0,378.9 182.5,378.9 183.0,378.9 183.5,378.9 184.0,378.9 184.5,378.9 185.0,378.9 185.5,378.9 186.0,378.9 186.5,378.9 187.0,378.9 187.5,378.9 188.0,378.9 188.5,378.9 189.0,378.9 189.5,378.9 190.0,378.9 190.5,378.9 191.0,378.8 191.5,378.8 192.0,378.7 192.5,378.5 193.0,378.3 193.5,377.9 194.0,377.3 194.5,376.5 195.0,375.3 195.6,373.8 196.1,371.8 196.6,369.4 197.1,366.7 197.6,363.7 198.1,360.6 198.6,357.6 199.1,354.9 199.6,352.9 200.1,351.7 200.6,351.3 201.1,351.8 201.6,352.8 202.1,353.9 202.6,355.0 203.1,356.2 203.6,357.4 204.1,358.6 204.6,359.8 205.1,361.0 205.6,362.1 206.1,363.2 206.6,364.2 207.1,365.2 207.6,366.1 208.1,367.0 208.6,367.8 209.1,368.6 209.6,369.4 210.1,370.1 210.6,370.8 211.1,371.4 211.6,372.0 212.1,372.6 212.6,373.1 213.1,373.6 213.6,374.0 214.1,374.4 214.6,374.8 215.1,375.2 215.6,375.5 216.1,375.8 216.6,376.1 217.1,376.4 217.6,376.7 218.1,376.9 218.6,377.1 219.1,377.3 219.6,377.5 220.1,377.7 220.6,377.8 221.1,378.0 221.6,378.1 222.1,378.2 222.6,378.4 223.1,378.5 223.6,378.6 224.1,378.7 224.6,378.7 225.1,378.8 225.6,378.9 226.1,379.0 226.6,379.0 227.1,379.1 227.7,379.1 228.2,379.2 228.7,379.2 229.2,379.3 229.7,379.3 230.2,379.4 230.7,379.4 231.2,379.4 231.7,379.5 232.2,379.5 232.7,379.5 233.2,379.5 233.7,379.6 234.2,379.6 234.7,379.6 235.2,379.6 235.7,379.6 236.2,379.7 236.7,379.7 237.2,379.7 237.7,379.7 238.2,379.7 238.7,379.8 239.2,379.8 239.7,379.8 240.2,379.8 240.7,379.8 241.2,379.8 241.7,379.8 242.2,379.9 242.7,379.9 243.2,379.9 243.7,379.9 244.2,379.9 244.7,379.9 245.2,379.9 245.7,380.0 246.2,380.0 246.7,380.0 247.2,380.0 247.7,380.0 248.2,380.0 248.7,380.0 249.2,380.0 249.7,380.1 250.2,380.1 250.7,380.1 251.2,380.1 251.7,380.1 252.2,380.1 252.7,380.1 253.2,380.1 253.7,380.2 254.2,380.2 254.7,380.2 255.2,380.2 255.7,380.2 256.2,380.2 256.7,380.2 257.2,380.2 257.7,380.2 258.2,380.3 258.7,380.3 259.2,380.3" fill="none" stroke="#8a78e0" stroke-width="0.75" stroke-linejoin="round" />
<polyline points="179.0,378.9 179.5,378.9 180.0,378.9 180.5,378.9 181.0,378.9 181.5,378.9 182.0,378.9 182.5,378.9 183.0,378.9 183.5,378.9 184.0,378.9 184.5,378.9 185.0,378.9 185.5,378.9 186.0,378.9 186.5,378.9 187.0,378.9 187.5,378.9 188.0,378.9 188.5,378.9 189.0,378.9 189.5,378.9 190.0,378.9 190.5,378.9 191.0,378.8 191.5,378.8 192.0,378.7 192.5,378.5 193.0,378.3 193.5,377.9 194.0,377.3 194.5,376.4 195.0,375.2 195.6,373.6 196.1,371.6 196.6,369.1 197.1,366.3 197.6,363.1 198.1,359.9 198.6,356.9 199.1,354.1 199.6,352.0 200.1,350.7 200.6,350.4 201.1,350.8 201.6,351.6 202.1,352.5 202.6,353.5 203.1,354.6 203.6,355.6 204.1,356.7 204.6,357.7 205.1,358.8 205.6,359.8 206.1,360.8 206.6,361.7 207.1,362.7 207.6,363.6 208.1,364.4 208.6,365.3 209.1,366.1 209.6,366.8 210.1,367.5 210.6,368.2 211.1,368.9 211.6,369.5 212.1,370.1 212.6,370.7 213.1,371.2 213.6,371.7 214.1,372.2 214.6,372.6 215.1,373.1 215.6,373.5 216.1,373.8 216.6,374.2 217.1,374.5 217.6,374.8 218.1,375.1 218.6,375.4 219.1,375.7 219.6,375.9 220.1,376.1 220.6,376.3 221.1,376.5 221.6,376.7 222.1,376.9 222.6,377.1 223.1,377.2 223.6,377.4 224.1,377.5 224.6,377.6 225.1,377.7 225.6,377.8 226.1,377.9 226.6,378.0 227.1,378.1 227.7,378.2 228.2,378.3 228.7,378.3 229.2,378.4 229.7,378.5 230.2,378.5 230.7,378.6 231.2,378.6 231.7,378.7 232.2,378.7 232.7,378.7 233.2,378.8 233.7,378.8 234.2,378.9 234.7,378.9 235.2,378.9 235.7,378.9 236.2,379.0 236.7,379.0 237.2,379.0 237.7,379.0 238.2,379.0 238.7,379.1 239.2,379.1 239.7,379.1 240.2,379.1 240.7,379.1 241.2,379.1 241.7,379.1 242.2,379.2 242.7,379.2 243.2,379.2 243.7,379.2 244.2,379.2 244.7,379.2 245.2,379.2 245.7,379.2 246.2,379.2 246.7,379.2 247.2,379.2 247.7,379.2 248.2,379.2 248.7,379.3 249.2,379.3 249.7,379.3 250.2,379.3 250.7,379.3 251.2,379.3 251.7,379.3 252.2,379.3 252.7,379.3 253.2,379.3 253.7,379.3 254.2,379.3 254.7,379.3 255.2,379.3 255.7,379.3 256.2,379.3 256.7,379.3 257.2,379.3 257.7,379.3 258.2,379.4 258.7,379.4 259.2,379.4" fill="none" stroke="#5a8ed8" stroke-width="0.75" stroke-linejoin="round" />
<polyline points="179.0,378.9 179.5,378.9 180.0,378.9 180.5,378.9 181.0,378.9 181.5,378.9 182.0,378.9 182.5,378.9 183.0,378.9 183.5,378.9 184.0,378.9 184.5,378.9 185.0,378.9 185.5,378.9 186.0,378.9 186.5,378.9 187.0,378.9 187.5,378.9 188.0,378.9 188.5,378.9 189.0,378.9 189.5,378.9 190.0,378.9 190.5,378.9 191.0,378.9 191.5,378.9 192.0,378.8 192.5,378.8 193.0,378.7 193.5,378.5 194.0,378.2 194.5,377.8 195.0,377.2 195.6,376.3 196.1,375.0 196.6,373.3 197.1,371.2 197.6,368.5 198.1,365.3 198.6,361.7 199.1,357.7 199.6,353.5 200.1,349.5 200.6,345.8 201.1,342.7 201.6,340.6 202.1,339.5 202.6,339.4 203.1,340.0 203.6,340.9 204.1,341.8 204.6,342.8 205.1,343.9 205.6,345.0 206.1,346.0 206.6,347.1 207.1,348.2 207.6,349.3 208.1,350.4 208.6,351.4 209.1,352.5 209.6,353.5 210.1,354.5 210.6,355.5 211.1,356.4 211.6,357.3 212.1,358.2 212.6,359.1 213.1,359.9 213.6,360.8 214.1,361.6 214.6,362.3 215.1,363.1 215.6,363.8 216.1,364.5 216.6,365.2 217.1,365.8 217.6,366.4 218.1,367.0 218.6,367.6 219.1,368.1 219.6,368.6 220.1,369.2 220.6,369.6 221.1,370.1 221.6,370.5 222.1,371.0 222.6,371.4 223.1,371.8 223.6,372.1 224.1,372.5 224.6,372.8 225.1,373.2 225.6,373.5 226.1,373.8 226.6,374.0 227.1,374.3 227.7,374.6 228.2,374.8 228.7,375.0 229.2,375.3 229.7,375.5 230.2,375.7 230.7,375.9 231.2,376.1 231.7,376.2 232.2,376.4 232.7,376.5 233.2,376.7 233.7,376.8 234.2,377.0 234.7,377.1 235.2,377.2 235.7,377.3 236.2,377.4 236.7,377.5 237.2,377.6 237.7,377.7 238.2,377.8 238.7,377.9 239.2,378.0 239.7,378.1 240.2,378.1 240.7,378.2 241.2,378.3 241.7,378.3 242.2,378.4 242.7,378.4 243.2,378.5 243.7,378.5 244.2,378.6 244.7,378.6 245.2,378.7 245.7,378.7 246.2,378.7 246.7,378.8 247.2,378.8 247.7,378.8 248.2,378.9 248.7,378.9 249.2,378.9 249.7,378.9 250.2,379.0 250.7,379.0 251.2,379.0 251.7,379.0 252.2,379.1 252.7,379.1 253.2,379.1 253.7,379.1 254.2,379.1 254.7,379.1 255.2,379.2 255.7,379.2 256.2,379.2 256.7,379.2 257.2,379.2 257.7,379.2 258.2,379.2 258.7,379.3 259.2,379.3" fill="none" stroke="#8ee676" stroke-width="0.75" stroke-linejoin="round" />
<polyline points="179.0,378.9 179.5,378.9 180.0,378.9 180.5,378.9 181.0,378.9 181.5,378.9 182.0,378.9 182.5,378.9 183.0,378.9 183.5,378.9 184.0,378.9 184.5,378.9 185.0,378.9 185.5,378.9 186.0,378.9 186.5,378.9 187.0,378.9 187.5,378.9 188.0,378.9 188.5,378.9 189.0,378.9 189.5,378.9 190.0,378.9 190.5,378.9 191.0,378.8 191.5,378.8 192.0,378.7 192.5,378.5 193.0,378.3 193.5,377.8 194.0,377.2 194.5,376.2 195.0,374.8 195.6,372.9 196.1,370.3 196.6,367.1 197.1,363.1 197.6,358.6 198.1,353.5 198.6,348.1 199.1,342.8 199.6,337.9 200.1,333.8 200.6,330.9 201.1,329.4 201.6,329.3 202.1,329.9 202.6,330.7 203.1,331.6 203.6,332.6 204.1,333.6 204.6,334.7 205.1,335.7 205.6,336.8 206.1,337.9 206.6,339.0 207.1,340.1 207.6,341.2 208.1,342.3 208.6,343.3 209.1,344.4 209.6,345.4 210.1,346.5 210.6,347.5 211.1,348.5 211.6,349.5 212.1,350.5 212.6,351.4 213.1,352.4 213.6,353.3 214.1,354.2 214.6,355.1 215.1,355.9 215.6,356.8 216.1,357.6 216.6,358.4 217.1,359.2 217.6,359.9 218.1,360.7 218.6,361.4 219.1,362.1 219.6,362.8 220.1,363.4 220.6,364.1 221.1,364.7 221.6,365.3 222.1,365.9 222.6,366.5 223.1,367.1 223.6,367.6 224.1,368.1 224.6,368.6 225.1,369.1 225.6,369.6 226.1,370.1 226.6,370.5 227.1,371.0 227.7,371.4 228.2,371.8 228.7,372.2 229.2,372.6 229.7,373.0 230.2,373.3 230.7,373.7 231.2,374.0 231.7,374.4 232.2,374.7 232.7,375.0 233.2,375.3 233.7,375.6 234.2,375.9 234.7,376.1 235.2,376.4 235.7,376.7 236.2,376.9 236.7,377.1 237.2,377.4 237.7,377.6 238.2,377.8 238.7,378.0 239.2,378.2 239.7,378.4 240.2,378.6 240.7,378.8 241.2,379.0 241.7,379.2 242.2,379.3 242.7,379.5 243.2,379.6 243.7,379.8 244.2,379.9 244.7,380.1 245.2,380.2 245.7,380.4 246.2,380.5 246.7,380.6 247.2,380.7 247.7,380.9 248.2,381.0 248.7,381.1 249.2,381.2 249.7,381.3 250.2,381.4 250.7,381.5 251.2,381.6 251.7,381.7 252.2,381.8 252.7,381.9 253.2,382.0 253.7,382.1 254.2,382.2 254.7,382.3 255.2,382.3 255.7,382.4 256.2,382.5 256.7,382.6 257.2,382.6 257.7,382.7 258.2,382.8 258.7,382.9 259.2,382.9" fill="none" stroke="#f76464" stroke-width="0.75" stroke-linejoin="round" />
<line x1="228.50" y1="334.70" x2="237.50" y2="334.70" stroke="#b88ee6" stroke-width="1.0" />
<text x="239.10" y="336.20" font-size="4.1" text-anchor="start" fill="#333" stroke="#333" stroke-width="0.06" >0 µM</text>
<line x1="228.50" y1="339.90" x2="237.50" y2="339.90" stroke="#8a78e0" stroke-width="1.0" />
<text x="239.10" y="341.40" font-size="4.1" text-anchor="start" fill="#333" stroke="#333" stroke-width="0.06" >740 nM</text>
<line x1="228.50" y1="345.10" x2="237.50" y2="345.10" stroke="#5a8ed8" stroke-width="1.0" />
<text x="239.10" y="346.60" font-size="4.1" text-anchor="start" fill="#333" stroke="#333" stroke-width="0.06" >2.22 µM</text>
<line x1="228.50" y1="350.30" x2="237.50" y2="350.30" stroke="#8ee676" stroke-width="1.0" />
<text x="239.10" y="351.80" font-size="4.1" text-anchor="start" fill="#333" stroke="#333" stroke-width="0.06" >6.66 µM</text>
<line x1="228.50" y1="355.50" x2="237.50" y2="355.50" stroke="#f6c070" stroke-width="1.0" />
<text x="239.10" y="357.00" font-size="4.1" text-anchor="start" fill="#333" stroke="#333" stroke-width="0.06" >20 µM</text>
<line x1="228.50" y1="360.70" x2="237.50" y2="360.70" stroke="#f76464" stroke-width="1.0" />
<text x="239.10" y="362.20" font-size="4.1" text-anchor="start" fill="#333" stroke="#333" stroke-width="0.06" >60 µM</text>
<line x1="460.70" y1="322.50" x2="460.70" y2="388.20" stroke="#999" stroke-width="0.7" />
<line x1="460.70" y1="388.20" x2="540.95" y2="388.20" stroke="#999" stroke-width="0.7" />
<text x="458.10" y="385.80" font-size="6.0" text-anchor="end" fill="#222" stroke="#222" stroke-width="0.16" >0</text>
<line x1="459.30" y1="383.60" x2="460.70" y2="383.60" stroke="#999" stroke-width="0.5" />
<text x="458.10" y="365.70" font-size="6.0" text-anchor="end" fill="#222" stroke="#222" stroke-width="0.16" >2</text>
<line x1="459.30" y1="363.50" x2="460.70" y2="363.50" stroke="#999" stroke-width="0.5" />
<text x="458.10" y="345.60" font-size="6.0" text-anchor="end" fill="#222" stroke="#222" stroke-width="0.16" >4</text>
<line x1="459.30" y1="343.40" x2="460.70" y2="343.40" stroke="#999" stroke-width="0.5" />
<text x="458.10" y="325.50" font-size="6.0" text-anchor="end" fill="#222" stroke="#222" stroke-width="0.16" >6</text>
<line x1="459.30" y1="323.30" x2="460.70" y2="323.30" stroke="#999" stroke-width="0.5" />
<line x1="459.80" y1="373.55" x2="460.70" y2="373.55" stroke="#999" stroke-width="0.4" />
<line x1="459.80" y1="353.45" x2="460.70" y2="353.45" stroke="#999" stroke-width="0.4" />
<line x1="459.80" y1="333.35" x2="460.70" y2="333.35" stroke="#999" stroke-width="0.4" />
<text x="460.70" y="395.50" font-size="6.0" text-anchor="middle" fill="#222" stroke="#222" stroke-width="0.16" >1.25</text>
<line x1="460.70" y1="388.20" x2="460.70" y2="389.60" stroke="#999" stroke-width="0.5" />
<text x="487.45" y="395.50" font-size="6.0" text-anchor="middle" fill="#222" stroke="#222" stroke-width="0.16" >1.30</text>
<line x1="487.45" y1="388.20" x2="487.45" y2="389.60" stroke="#999" stroke-width="0.5" />
<text x="514.20" y="395.50" font-size="6.0" text-anchor="middle" fill="#222" stroke="#222" stroke-width="0.16" >1.35</text>
<line x1="514.20" y1="388.20" x2="514.20" y2="389.60" stroke="#999" stroke-width="0.5" />
<text x="540.95" y="395.50" font-size="6.0" text-anchor="middle" fill="#222" stroke="#222" stroke-width="0.16" >1.40</text>
<line x1="540.95" y1="388.20" x2="540.95" y2="389.60" stroke="#999" stroke-width="0.5" />
<text x="501.40" y="401.20" font-size="6.0" text-anchor="middle" fill="#222" stroke="#222" stroke-width="0.16" >time [s]</text>
<text x="0.00" y="0.00" font-size="6.3" text-anchor="middle" fill="#222" stroke="#222" stroke-width="0.16" transform="translate(452.1,358.0) rotate(-90)">current [nA]</text>
<polyline points="460.7,383.6 461.2,383.6 461.7,383.6 462.2,383.6 462.7,383.6 463.2,383.6 463.7,383.6 464.2,383.6 464.7,383.6 465.2,383.6 465.7,383.6 466.2,383.6 466.7,383.6 467.2,383.6 467.7,383.6 468.2,383.6 468.7,383.6 469.2,383.6 469.7,383.6 470.2,383.6 470.7,383.6 471.2,383.6 471.7,383.6 472.2,383.6 472.7,383.6 473.2,383.6 473.7,383.6 474.2,383.6 474.7,383.6 475.2,383.6 475.7,383.6 476.2,383.6 476.8,383.5 477.3,383.4 477.8,383.3 478.3,383.0 478.8,382.7 479.3,382.1 479.8,381.2 480.3,379.9 480.8,378.3 481.3,376.1 481.8,373.4 482.3,370.3 482.8,366.9 483.3,363.4 483.8,360.1 484.3,357.1 484.8,354.9 485.3,353.7 485.8,353.5 486.3,354.1 486.8,355.2 487.3,356.6 487.8,358.0 488.3,359.4 488.8,360.7 489.3,362.0 489.8,363.2 490.3,364.4 490.8,365.5 491.3,366.5 491.8,367.5 492.3,368.4 492.8,369.3 493.3,370.0 493.8,370.8 494.3,371.5 494.8,372.2 495.3,372.8 495.8,373.3 496.3,373.9 496.8,374.4 497.3,374.9 497.8,375.3 498.3,375.7 498.8,376.1 499.3,376.5 499.8,376.8 500.3,377.2 500.8,377.5 501.3,377.8 501.8,378.0 502.3,378.3 502.8,378.5 503.3,378.8 503.8,379.0 504.3,379.2 504.8,379.4 505.3,379.5 505.8,379.7 506.3,379.9 506.8,380.0 507.3,380.2 507.8,380.3 508.3,380.4 508.8,380.6 509.4,380.7 509.9,380.8 510.4,380.9 510.9,381.0 511.4,381.1 511.9,381.2 512.4,381.3 512.9,381.3 513.4,381.4 513.9,381.5 514.4,381.6 514.9,381.6 515.4,381.7 515.9,381.8 516.4,381.8 516.9,381.9 517.4,381.9 517.9,382.0 518.4,382.0 518.9,382.1 519.4,382.1 519.9,382.2 520.4,382.2 520.9,382.3 521.4,382.3 521.9,382.4 522.4,382.4 522.9,382.4 523.4,382.5 523.9,382.5 524.4,382.5 524.9,382.6 525.4,382.6 525.9,382.6 526.4,382.7 526.9,382.7 527.4,382.7 527.9,382.8 528.4,382.8 528.9,382.8 529.4,382.8 529.9,382.9 530.4,382.9 530.9,382.9 531.4,383.0 531.9,383.0 532.4,383.0 532.9,383.0 533.4,383.0 533.9,383.1 534.4,383.1 534.9,383.1 535.4,383.1 535.9,383.2 536.4,383.2 536.9,383.2 537.4,383.2 537.9,383.2 538.4,383.3 538.9,383.3 539.4,383.3 539.9,383.3 540.4,383.3 540.9,383.3" fill="none" stroke="#f28cf6" stroke-width="0.75" stroke-linejoin="round" />
<polyline points="460.7,383.6 461.2,383.6 461.7,383.6 462.2,383.6 462.7,383.6 463.2,383.6 463.7,383.6 464.2,383.6 464.7,383.6 465.2,383.6 465.7,383.6 466.2,383.6 466.7,383.6 467.2,383.6 467.7,383.6 468.2,383.6 468.7,383.6 469.2,383.6 469.7,383.6 470.2,383.6 470.7,383.6 471.2,383.6 471.7,383.6 472.2,383.6 472.7,383.6 473.2,383.6 473.7,383.6 474.2,383.5 474.7,383.5 475.2,383.4 475.7,383.3 476.2,383.1 476.8,382.7 477.3,382.3 477.8,381.6 478.3,380.6 478.8,379.2 479.3,377.5 479.8,375.4 480.3,372.8 480.8,369.8 481.3,366.5 481.8,363.0 482.3,359.6 482.8,356.4 483.3,353.7 483.8,351.8 484.3,350.6 484.8,350.5 485.3,351.2 485.8,352.4 486.3,353.9 486.8,355.4 487.3,356.9 487.8,358.4 488.3,359.8 488.8,361.2 489.3,362.5 489.8,363.7 490.3,364.8 490.8,365.9 491.3,366.9 491.8,367.8 492.3,368.7 492.8,369.5 493.3,370.3 493.8,371.0 494.3,371.7 494.8,372.3 495.3,372.9 495.8,373.5 496.3,374.0 496.8,374.5 497.3,374.9 497.8,375.4 498.3,375.8 498.8,376.2 499.3,376.5 499.8,376.8 500.3,377.2 500.8,377.5 501.3,377.7 501.8,378.0 502.3,378.3 502.8,378.5 503.3,378.7 503.8,378.9 504.3,379.1 504.8,379.3 505.3,379.5 505.8,379.6 506.3,379.8 506.8,379.9 507.3,380.1 507.8,380.2 508.3,380.3 508.8,380.5 509.4,380.6 509.9,380.7 510.4,380.8 510.9,380.9 511.4,381.0 511.9,381.1 512.4,381.2 512.9,381.2 513.4,381.3 513.9,381.4 514.4,381.5 514.9,381.5 515.4,381.6 515.9,381.7 516.4,381.7 516.9,381.8 517.4,381.8 517.9,381.9 518.4,382.0 518.9,382.0 519.4,382.1 519.9,382.1 520.4,382.1 520.9,382.2 521.4,382.2 521.9,382.3 522.4,382.3 522.9,382.4 523.4,382.4 523.9,382.4 524.4,382.5 524.9,382.5 525.4,382.5 525.9,382.6 526.4,382.6 526.9,382.6 527.4,382.7 527.9,382.7 528.4,382.7 528.9,382.8 529.4,382.8 529.9,382.8 530.4,382.8 530.9,382.9 531.4,382.9 531.9,382.9 532.4,382.9 532.9,383.0 533.4,383.0 533.9,383.0 534.4,383.0 534.9,383.1 535.4,383.1 535.9,383.1 536.4,383.1 536.9,383.1 537.4,383.2 537.9,383.2 538.4,383.2 538.9,383.2 539.4,383.2 539.9,383.3 540.4,383.3 540.9,383.3" fill="none" stroke="#9278ea" stroke-width="0.75" stroke-linejoin="round" />
<polyline points="460.7,383.6 461.2,383.6 461.7,383.6 462.2,383.6 462.7,383.6 463.2,383.6 463.7,383.6 464.2,383.6 464.7,383.6 465.2,383.6 465.7,383.6 466.2,383.6 466.7,383.6 467.2,383.6 467.7,383.6 468.2,383.6 468.7,383.6 469.2,383.6 469.7,383.6 470.2,383.6 470.7,383.6 471.2,383.6 471.7,383.6 472.2,383.6 472.7,383.6 473.2,383.6 473.7,383.6 474.2,383.5 474.7,383.5 475.2,383.4 475.7,383.2 476.2,382.9 476.8,382.5 477.3,381.9 477.8,381.1 478.3,379.9 478.8,378.4 479.3,376.5 479.8,374.2 480.3,371.4 480.8,368.3 481.3,365.0 481.8,361.6 482.3,358.4 482.8,355.6 483.3,353.4 483.8,352.0 484.3,351.4 484.8,351.7 485.3,352.6 485.8,353.7 486.3,354.9 486.8,356.2 487.3,357.4 487.8,358.7 488.3,359.8 488.8,360.9 489.3,362.0 489.8,363.0 490.3,363.9 490.8,364.8 491.3,365.7 491.8,366.5 492.3,367.2 492.8,367.9 493.3,368.6 493.8,369.3 494.3,369.9 494.8,370.4 495.3,371.0 495.8,371.5 496.3,372.0 496.8,372.4 497.3,372.8 497.8,373.2 498.3,373.6 498.8,374.0 499.3,374.3 499.8,374.7 500.3,375.0 500.8,375.2 501.3,375.5 501.8,375.8 502.3,376.0 502.8,376.3 503.3,376.5 503.8,376.7 504.3,376.9 504.8,377.1 505.3,377.2 505.8,377.4 506.3,377.6 506.8,377.7 507.3,377.9 507.8,378.0 508.3,378.1 508.8,378.3 509.4,378.4 509.9,378.5 510.4,378.6 510.9,378.7 511.4,378.8 511.9,378.9 512.4,379.0 512.9,379.1 513.4,379.1 513.9,379.2 514.4,379.3 514.9,379.4 515.4,379.4 515.9,379.5 516.4,379.5 516.9,379.6 517.4,379.7 517.9,379.7 518.4,379.8 518.9,379.8 519.4,379.9 519.9,379.9 520.4,379.9 520.9,380.0 521.4,380.0 521.9,380.1 522.4,380.1 522.9,380.1 523.4,380.2 523.9,380.2 524.4,380.2 524.9,380.2 525.4,380.3 525.9,380.3 526.4,380.3 526.9,380.4 527.4,380.4 527.9,380.4 528.4,380.4 528.9,380.4 529.4,380.5 529.9,380.5 530.4,380.5 530.9,380.5 531.4,380.5 531.9,380.5 532.4,380.6 532.9,380.6 533.4,380.6 533.9,380.6 534.4,380.6 534.9,380.6 535.4,380.6 535.9,380.7 536.4,380.7 536.9,380.7 537.4,380.7 537.9,380.7 538.4,380.7 538.9,380.7 539.4,380.7 539.9,380.7 540.4,380.7 540.9,380.8" fill="none" stroke="#6cbcf0" stroke-width="0.75" stroke-linejoin="round" />
<polyline points="460.7,383.6 461.2,383.6 461.7,383.6 462.2,383.6 462.7,383.6 463.2,383.6 463.7,383.6 464.2,383.6 464.7,383.6 465.2,383.6 465.7,383.6 466.2,383.6 466.7,383.6 467.2,383.6 467.7,383.6 468.2,383.6 468.7,383.6 469.2,383.6 469.7,383.6 470.2,383.6 470.7,383.6 471.2,383.6 471.7,383.6 472.2,383.6 472.7,383.6 473.2,383.5 473.7,383.5 474.2,383.4 474.7,383.2 475.2,382.9 475.7,382.5 476.2,381.9 476.8,381.0 477.3,379.8 477.8,378.2 478.3,376.2 478.8,373.7 479.3,370.7 479.8,367.3 480.3,363.7 480.8,359.9 481.3,356.3 481.8,353.1 482.3,350.5 482.8,348.7 483.3,347.9 483.8,348.1 484.3,349.2 484.8,350.9 485.3,352.7 485.8,354.5 486.3,356.3 486.8,358.1 487.3,359.7 487.8,361.2 488.3,362.7 488.8,364.0 489.3,365.3 489.8,366.5 490.3,367.6 490.8,368.6 491.3,369.5 491.8,370.4 492.3,371.3 492.8,372.0 493.3,372.8 493.8,373.4 494.3,374.0 494.8,374.6 495.3,375.2 495.8,375.7 496.3,376.1 496.8,376.6 497.3,377.0 497.8,377.4 498.3,377.7 498.8,378.1 499.3,378.4 499.8,378.7 500.3,378.9 500.8,379.2 501.3,379.4 501.8,379.6 502.3,379.9 502.8,380.1 503.3,380.2 503.8,380.4 504.3,380.6 504.8,380.7 505.3,380.9 505.8,381.0 506.3,381.1 506.8,381.3 507.3,381.4 507.8,381.5 508.3,381.6 508.8,381.7 509.4,381.8 509.9,381.9 510.4,381.9 510.9,382.0 511.4,382.1 511.9,382.2 512.4,382.2 512.9,382.3 513.4,382.4 513.9,382.4 514.4,382.5 514.9,382.5 515.4,382.6 515.9,382.6 516.4,382.7 516.9,382.7 517.4,382.8 517.9,382.8 518.4,382.9 518.9,382.9 519.4,383.0 519.9,383.0 520.4,383.0 520.9,383.1 521.4,383.1 521.9,383.1 522.4,383.2 522.9,383.2 523.4,383.2 523.9,383.3 524.4,383.3 524.9,383.3 525.4,383.4 525.9,383.4 526.4,383.4 526.9,383.4 527.4,383.5 527.9,383.5 528.4,383.5 528.9,383.5 529.4,383.6 529.9,383.6 530.4,383.6 530.9,383.6 531.4,383.7 531.9,383.7 532.4,383.7 532.9,383.7 533.4,383.8 533.9,383.8 534.4,383.8 534.9,383.8 535.4,383.8 535.9,383.9 536.4,383.9 536.9,383.9 537.4,383.9 537.9,383.9 538.4,384.0 538.9,384.0 539.4,384.0 539.9,384.0 540.4,384.0 540.9,384.1" fill="none" stroke="#72e072" stroke-width="0.75" stroke-linejoin="round" />
<polyline points="460.7,383.6 461.2,383.6 461.7,383.6 462.2,383.6 462.7,383.6 463.2,383.6 463.7,383.6 464.2,383.6 464.7,383.6 465.2,383.6 465.7,383.6 466.2,383.6 466.7,383.6 467.2,383.6 467.7,383.6 468.2,383.6 468.7,383.6 469.2,383.6 469.7,383.6 470.2,383.6 470.7,383.6 471.2,383.6 471.7,383.6 472.2,383.6 472.7,383.6 473.2,383.5 473.7,383.5 474.2,383.4 474.7,383.3 475.2,383.1 475.7,382.8 476.2,382.3 476.8,381.6 477.3,380.6 477.8,379.3 478.3,377.5 478.8,375.2 479.3,372.4 479.8,369.1 480.3,365.5 480.8,361.5 481.3,357.5 481.8,353.7 482.3,350.4 482.8,347.7 483.3,346.0 483.8,345.4 484.3,345.9 484.8,347.2 485.3,349.0 485.8,351.0 486.3,352.9 486.8,354.8 487.3,356.6 487.8,358.3 488.3,360.0 488.8,361.5 489.3,362.9 489.8,364.2 490.3,365.4 490.8,366.6 491.3,367.7 491.8,368.6 492.3,369.6 492.8,370.4 493.3,371.2 493.8,372.0 494.3,372.7 494.8,373.3 495.3,373.9 495.8,374.5 496.3,375.0 496.8,375.5 497.3,375.9 497.8,376.4 498.3,376.8 498.8,377.1 499.3,377.5 499.8,377.8 500.3,378.1 500.8,378.4 501.3,378.6 501.8,378.9 502.3,379.1 502.8,379.3 503.3,379.5 503.8,379.7 504.3,379.9 504.8,380.0 505.3,380.2 505.8,380.3 506.3,380.4 506.8,380.6 507.3,380.7 507.8,380.8 508.3,380.9 508.8,381.0 509.4,381.1 509.9,381.2 510.4,381.3 510.9,381.3 511.4,381.4 511.9,381.5 512.4,381.6 512.9,381.6 513.4,381.7 513.9,381.7 514.4,381.8 514.9,381.8 515.4,381.9 515.9,381.9 516.4,382.0 516.9,382.0 517.4,382.1 517.9,382.1 518.4,382.1 518.9,382.2 519.4,382.2 519.9,382.2 520.4,382.3 520.9,382.3 521.4,382.3 521.9,382.4 522.4,382.4 522.9,382.4 523.4,382.4 523.9,382.5 524.4,382.5 524.9,382.5 525.4,382.5 525.9,382.6 526.4,382.6 526.9,382.6 527.4,382.6 527.9,382.6 528.4,382.7 528.9,382.7 529.4,382.7 529.9,382.7 530.4,382.7 530.9,382.7 531.4,382.8 531.9,382.8 532.4,382.8 532.9,382.8 533.4,382.8 533.9,382.8 534.4,382.8 534.9,382.9 535.4,382.9 535.9,382.9 536.4,382.9 536.9,382.9 537.4,382.9 537.9,382.9 538.4,382.9 538.9,383.0 539.4,383.0 539.9,383.0 540.4,383.0 540.9,383.0" fill="none" stroke="#f8f07a" stroke-width="0.75" stroke-linejoin="round" />
<polyline points="460.7,383.6 461.2,383.6 461.7,383.6 462.2,383.6 462.7,383.6 463.2,383.6 463.7,383.6 464.2,383.6 464.7,383.6 465.2,383.6 465.7,383.6 466.2,383.6 466.7,383.6 467.2,383.6 467.7,383.6 468.2,383.6 468.7,383.6 469.2,383.6 469.7,383.6 470.2,383.6 470.7,383.6 471.2,383.6 471.7,383.6 472.2,383.5 472.7,383.5 473.2,383.4 473.7,383.2 474.2,383.0 474.7,382.6 475.2,381.9 475.7,381.0 476.2,379.7 476.8,377.9 477.3,375.5 477.8,372.4 478.3,368.6 478.8,364.0 479.3,358.9 479.8,353.4 480.3,347.7 480.8,342.2 481.3,337.3 481.8,333.3 482.3,330.6 482.8,329.4 483.3,329.7 483.8,331.1 484.3,333.3 484.8,335.8 485.3,338.5 485.8,341.2 486.3,343.8 486.8,346.3 487.3,348.6 487.8,350.8 488.3,352.9 488.8,354.9 489.3,356.7 489.8,358.4 490.3,360.0 490.8,361.5 491.3,362.9 491.8,364.2 492.3,365.4 492.8,366.5 493.3,367.5 493.8,368.5 494.3,369.4 494.8,370.3 495.3,371.1 495.8,371.8 496.3,372.5 496.8,373.1 497.3,373.7 497.8,374.3 498.3,374.8 498.8,375.3 499.3,375.7 499.8,376.1 500.3,376.5 500.8,376.9 501.3,377.3 501.8,377.6 502.3,377.9 502.8,378.2 503.3,378.4 503.8,378.7 504.3,378.9 504.8,379.1 505.3,379.4 505.8,379.6 506.3,379.7 506.8,379.9 507.3,380.1 507.8,380.2 508.3,380.4 508.8,380.5 509.4,380.7 509.9,380.8 510.4,380.9 510.9,381.0 511.4,381.1 511.9,381.2 512.4,381.3 512.9,381.4 513.4,381.5 513.9,381.6 514.4,381.7 514.9,381.7 515.4,381.8 515.9,381.9 516.4,382.0 516.9,382.0 517.4,382.1 517.9,382.1 518.4,382.2 518.9,382.3 519.4,382.3 519.9,382.4 520.4,382.4 520.9,382.5 521.4,382.5 521.9,382.6 522.4,382.6 522.9,382.7 523.4,382.7 523.9,382.7 524.4,382.8 524.9,382.8 525.4,382.9 525.9,382.9 526.4,382.9 526.9,383.0 527.4,383.0 527.9,383.0 528.4,383.1 528.9,383.1 529.4,383.1 529.9,383.2 530.4,383.2 530.9,383.2 531.4,383.3 531.9,383.3 532.4,383.3 532.9,383.4 533.4,383.4 533.9,383.4 534.4,383.4 534.9,383.5 535.4,383.5 535.9,383.5 536.4,383.6 536.9,383.6 537.4,383.6 537.9,383.6 538.4,383.7 538.9,383.7 539.4,383.7 539.9,383.7 540.4,383.7 540.9,383.8" fill="none" stroke="#f8bc94" stroke-width="0.75" stroke-linejoin="round" />
<polyline points="460.7,383.6 461.2,383.6 461.7,383.6 462.2,383.6 462.7,383.6 463.2,383.6 463.7,383.6 464.2,383.6 464.7,383.6 465.2,383.6 465.7,383.6 466.2,383.6 466.7,383.6 467.2,383.6 467.7,383.6 468.2,383.6 468.7,383.6 469.2,383.6 469.7,383.6 470.2,383.6 470.7,383.6 471.2,383.6 471.7,383.6 472.2,383.6 472.7,383.6 473.2,383.6 473.7,383.6 474.2,383.6 474.7,383.5 475.2,383.5 475.7,383.3 476.2,383.1 476.8,382.8 477.3,382.2 477.8,381.4 478.3,380.1 478.8,378.2 479.3,375.7 479.8,372.4 480.3,368.2 480.8,363.2 481.3,357.5 481.8,351.3 482.3,345.1 482.8,339.1 483.3,334.0 483.8,330.2 484.3,328.0 484.8,327.7 485.3,328.8 485.8,330.8 486.3,333.3 486.8,336.0 487.3,338.7 487.8,341.4 488.3,344.0 488.8,346.5 489.3,348.9 489.8,351.1 490.3,353.2 490.8,355.1 491.3,357.0 491.8,358.7 492.3,360.3 492.8,361.8 493.3,363.2 493.8,364.5 494.3,365.7 494.8,366.8 495.3,367.9 495.8,368.9 496.3,369.8 496.8,370.6 497.3,371.4 497.8,372.2 498.3,372.9 498.8,373.6 499.3,374.2 499.8,374.7 500.3,375.3 500.8,375.8 501.3,376.3 501.8,376.7 502.3,377.1 502.8,377.5 503.3,377.9 503.8,378.2 504.3,378.5 504.8,378.8 505.3,379.1 505.8,379.4 506.3,379.6 506.8,379.8 507.3,380.1 507.8,380.3 508.3,380.5 508.8,380.7 509.4,380.8 509.9,381.0 510.4,381.2 510.9,381.3 511.4,381.4 511.9,381.6 512.4,381.7 512.9,381.8 513.4,381.9 513.9,382.1 514.4,382.2 514.9,382.3 515.4,382.4 515.9,382.5 516.4,382.5 516.9,382.6 517.4,382.7 517.9,382.8 518.4,382.9 518.9,382.9 519.4,383.0 519.9,383.1 520.4,383.1 520.9,383.2 521.4,383.3 521.9,383.3 522.4,383.4 522.9,383.4 523.4,383.5 523.9,383.5 524.4,383.6 524.9,383.7 525.4,383.7 525.9,383.7 526.4,383.8 526.9,383.8 527.4,383.9 527.9,383.9 528.4,384.0 528.9,384.0 529.4,384.1 529.9,384.1 530.4,384.1 530.9,384.2 531.4,384.2 531.9,384.3 532.4,384.3 532.9,384.3 533.4,384.4 533.9,384.4 534.4,384.4 534.9,384.5 535.4,384.5 535.9,384.5 536.4,384.6 536.9,384.6 537.4,384.7 537.9,384.7 538.4,384.7 538.9,384.7 539.4,384.8 539.9,384.8 540.4,384.8 540.9,384.9" fill="none" stroke="#f87878" stroke-width="0.75" stroke-linejoin="round" />
<line x1="508.00" y1="333.90" x2="517.00" y2="333.90" stroke="#f28cf6" stroke-width="1.0" />
<text x="518.60" y="335.40" font-size="4.1" text-anchor="start" fill="#333" stroke="#333" stroke-width="0.06" >0 µM</text>
<line x1="508.00" y1="339.06" x2="517.00" y2="339.06" stroke="#9278ea" stroke-width="1.0" />
<text x="518.60" y="340.56" font-size="4.1" text-anchor="start" fill="#333" stroke="#333" stroke-width="0.06" >0.6 µM</text>
<line x1="508.00" y1="344.22" x2="517.00" y2="344.22" stroke="#6cbcf0" stroke-width="1.0" />
<text x="518.60" y="345.72" font-size="4.1" text-anchor="start" fill="#333" stroke="#333" stroke-width="0.06" >1.8 µM</text>
<line x1="508.00" y1="349.38" x2="517.00" y2="349.38" stroke="#72e072" stroke-width="1.0" />
<text x="518.60" y="350.88" font-size="4.1" text-anchor="start" fill="#333" stroke="#333" stroke-width="0.06" >5.5 µM</text>
<line x1="508.00" y1="354.54" x2="517.00" y2="354.54" stroke="#f8f07a" stroke-width="1.0" />
<text x="518.60" y="356.04" font-size="4.1" text-anchor="start" fill="#333" stroke="#333" stroke-width="0.06" >17 µM</text>
<line x1="508.00" y1="359.70" x2="517.00" y2="359.70" stroke="#f8bc94" stroke-width="1.0" />
<text x="518.60" y="361.20" font-size="4.1" text-anchor="start" fill="#333" stroke="#333" stroke-width="0.06" >50 µM</text>
<line x1="508.00" y1="364.86" x2="517.00" y2="364.86" stroke="#f87878" stroke-width="1.0" />
<text x="518.60" y="366.36" font-size="4.1" text-anchor="start" fill="#333" stroke="#333" stroke-width="0.06" >150 µM</text>
</svg></body></html>
